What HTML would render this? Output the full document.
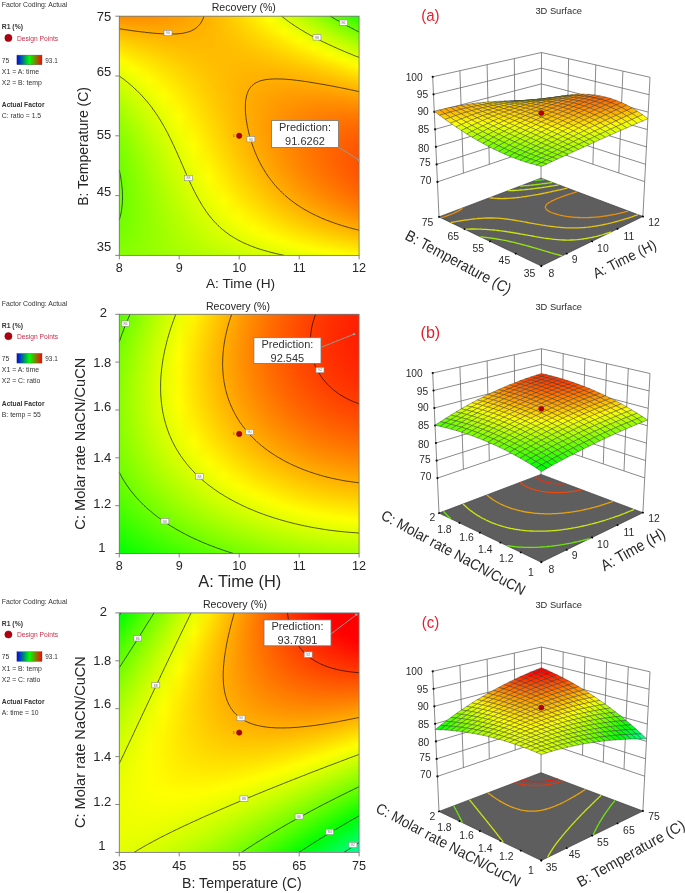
<!DOCTYPE html>
<html><head><meta charset="utf-8"><title>Recovery response surfaces</title>
<style>
html,body{margin:0;padding:0;background:#fff}
body{position:relative;width:685px;height:893px;overflow:hidden}
.hm{position:absolute;left:119px;width:240px;overflow:hidden}
.hm i{position:absolute;left:0;width:100%;height:2px;display:block}
svg{position:absolute;left:0;top:0;display:block}
text{font-family:"Liberation Sans",Arial,sans-serif}
</style>
</head><body>
<div class="hm" style="top:16px;height:239px"><i style="top:0px;background:linear-gradient(90deg,#ff8d00,#ff8d00,#ff8f00,#ff9400,#ff9c00,#ffa700,#ffb400,#ffc400,#ffd700,#ffed00,#f8ff00,#dcff00,#bcff00,#9aff00,#75ff00,#4cff00,#20ff00)"></i><i style="top:2px;background:linear-gradient(90deg,#ff9300,#ff9200,#ff9300,#ff9700,#ff9e00,#ffa800,#ffb400,#ffc300,#ffd600,#ffea00,#fcff00,#e1ff00,#c3ff00,#a1ff00,#7dff00,#56ff00,#2bff00)"></i><i style="top:4px;background:linear-gradient(90deg,#ff9900,#ff9700,#ff9700,#ff9b00,#ffa100,#ffa900,#ffb500,#ffc300,#ffd400,#ffe800,#ffff00,#e5ff00,#c9ff00,#a9ff00,#85ff00,#5fff00,#36ff00)"></i><i style="top:6px;background:linear-gradient(90deg,#ff9e00,#ff9c00,#ff9b00,#ff9e00,#ffa300,#ffab00,#ffb500,#ffc200,#ffd200,#ffe500,#fffb00,#eaff00,#ceff00,#b0ff00,#8eff00,#69ff00,#40ff00)"></i><i style="top:8px;background:linear-gradient(90deg,#ffa400,#ffa000,#ff9f00,#ffa100,#ffa500,#ffac00,#ffb500,#ffc200,#ffd100,#ffe200,#fff700,#efff00,#d4ff00,#b7ff00,#96ff00,#72ff00,#4bff00)"></i><i style="top:10px;background:linear-gradient(90deg,#ffaa00,#ffa500,#ffa300,#ffa400,#ffa700,#ffad00,#ffb600,#ffc100,#ffcf00,#ffe000,#fff400,#f4ff00,#daff00,#bdff00,#9eff00,#7bff00,#55ff00)"></i><i style="top:12px;background:linear-gradient(90deg,#ffaf00,#ffaa00,#ffa700,#ffa700,#ffaa00,#ffae00,#ffb600,#ffc000,#ffce00,#ffdd00,#fff000,#f8ff00,#e0ff00,#c4ff00,#a6ff00,#84ff00,#5fff00)"></i><i style="top:14px;background:linear-gradient(90deg,#ffb500,#ffaf00,#ffab00,#ffaa00,#ffac00,#ffb000,#ffb700,#ffc000,#ffcc00,#ffdb00,#ffed00,#fdff00,#e5ff00,#cbff00,#adff00,#8dff00,#69ff00)"></i><i style="top:16px;background:linear-gradient(90deg,#ffba00,#ffb300,#ffaf00,#ffad00,#ffae00,#ffb100,#ffb700,#ffbf00,#ffcb00,#ffd900,#ffe900,#fffd00,#ebff00,#d1ff00,#b5ff00,#95ff00,#73ff00)"></i><i style="top:18px;background:linear-gradient(90deg,#ffc000,#ffb800,#ffb300,#ffb000,#ffb000,#ffb300,#ffb700,#ffbf00,#ffc900,#ffd600,#ffe600,#fff900,#f0ff00,#d8ff00,#bcff00,#9eff00,#7dff00)"></i><i style="top:20px;background:linear-gradient(90deg,#ffc500,#ffbd00,#ffb700,#ffb300,#ffb200,#ffb400,#ffb800,#ffbf00,#ffc800,#ffd400,#ffe300,#fff400,#f5ff00,#deff00,#c4ff00,#a6ff00,#86ff00)"></i><i style="top:22px;background:linear-gradient(90deg,#ffca00,#ffc100,#ffbb00,#ffb600,#ffb400,#ffb500,#ffb800,#ffbe00,#ffc700,#ffd200,#ffe000,#fff000,#faff00,#e4ff00,#cbff00,#afff00,#8fff00)"></i><i style="top:24px;background:linear-gradient(90deg,#ffcf00,#ffc600,#ffbe00,#ffb900,#ffb700,#ffb700,#ffb900,#ffbe00,#ffc500,#ffd000,#ffdc00,#ffec00,#ffff00,#eaff00,#d2ff00,#b7ff00,#99ff00)"></i><i style="top:26px;background:linear-gradient(90deg,#ffd500,#ffca00,#ffc200,#ffbc00,#ffb900,#ffb800,#ffb900,#ffbe00,#ffc400,#ffcd00,#ffd900,#ffe800,#fffa00,#f0ff00,#d9ff00,#bfff00,#a2ff00)"></i><i style="top:28px;background:linear-gradient(90deg,#ffda00,#ffce00,#ffc600,#ffbf00,#ffbb00,#ffb900,#ffba00,#ffbd00,#ffc300,#ffcb00,#ffd700,#ffe400,#fff500,#f6ff00,#e0ff00,#c7ff00,#abff00)"></i><i style="top:30px;background:linear-gradient(90deg,#ffdf00,#ffd300,#ffc900,#ffc200,#ffbd00,#ffbb00,#ffba00,#ffbd00,#ffc200,#ffc900,#ffd400,#ffe000,#fff000,#fcff00,#e6ff00,#ceff00,#b3ff00)"></i><i style="top:32px;background:linear-gradient(90deg,#ffe300,#ffd700,#ffcd00,#ffc500,#ffbf00,#ffbc00,#ffbb00,#ffbd00,#ffc100,#ffc700,#ffd100,#ffdd00,#ffeb00,#fffd00,#edff00,#d6ff00,#bcff00)"></i><i style="top:34px;background:linear-gradient(90deg,#ffe800,#ffdb00,#ffd000,#ffc800,#ffc100,#ffbd00,#ffbc00,#ffbc00,#ffc000,#ffc600,#ffce00,#ffd900,#ffe700,#fff700,#f3ff00,#ddff00,#c5ff00)"></i><i style="top:36px;background:linear-gradient(90deg,#ffed00,#ffdf00,#ffd400,#ffca00,#ffc300,#ffbf00,#ffbc00,#ffbc00,#ffbf00,#ffc400,#ffcb00,#ffd600,#ffe200,#fff200,#faff00,#e5ff00,#cdff00)"></i><i style="top:38px;background:linear-gradient(90deg,#fff200,#ffe300,#ffd700,#ffcd00,#ffc500,#ffc000,#ffbd00,#ffbc00,#ffbe00,#ffc200,#ffc900,#ffd200,#ffde00,#ffed00,#fffe00,#ecff00,#d5ff00)"></i><i style="top:40px;background:linear-gradient(90deg,#fff600,#ffe700,#ffdb00,#ffd000,#ffc700,#ffc100,#ffbd00,#ffbc00,#ffbd00,#ffc000,#ffc600,#ffcf00,#ffda00,#ffe700,#fff800,#f3ff00,#ddff00)"></i><i style="top:42px;background:linear-gradient(90deg,#fffb00,#ffeb00,#ffde00,#ffd300,#ffc900,#ffc300,#ffbe00,#ffbc00,#ffbc00,#ffbf00,#ffc400,#ffcb00,#ffd600,#ffe200,#fff200,#faff00,#e5ff00)"></i><i style="top:44px;background:linear-gradient(90deg,#feff00,#ffef00,#ffe100,#ffd500,#ffcc00,#ffc400,#ffbf00,#ffbc00,#ffbb00,#ffbd00,#ffc100,#ffc800,#ffd200,#ffdd00,#ffec00,#fffd00,#edff00)"></i><i style="top:46px;background:linear-gradient(90deg,#faff00,#fff300,#ffe500,#ffd800,#ffce00,#ffc500,#ffbf00,#ffbc00,#ffba00,#ffbb00,#ffbf00,#ffc500,#ffce00,#ffd900,#ffe600,#fff700,#f4ff00)"></i><i style="top:48px;background:linear-gradient(90deg,#f6ff00,#fff700,#ffe800,#ffdb00,#ffd000,#ffc700,#ffc000,#ffbc00,#ffba00,#ffba00,#ffbd00,#ffc200,#ffca00,#ffd400,#ffe100,#fff000,#fbff00)"></i><i style="top:50px;background:linear-gradient(90deg,#f1ff00,#fffb00,#ffeb00,#ffdd00,#ffd200,#ffc800,#ffc100,#ffbc00,#ffb900,#ffb900,#ffbb00,#ffbf00,#ffc600,#ffcf00,#ffdb00,#ffea00,#fffb00)"></i><i style="top:52px;background:linear-gradient(90deg,#edff00,#ffff00,#ffee00,#ffe000,#ffd400,#ffc900,#ffc100,#ffbc00,#ffb800,#ffb700,#ffb800,#ffbc00,#ffc200,#ffcb00,#ffd600,#ffe400,#fff400)"></i><i style="top:54px;background:linear-gradient(90deg,#e9ff00,#fcff00,#fff100,#ffe200,#ffd600,#ffcb00,#ffc200,#ffbc00,#ffb800,#ffb600,#ffb600,#ffb900,#ffbf00,#ffc600,#ffd100,#ffde00,#ffed00)"></i><i style="top:56px;background:linear-gradient(90deg,#e5ff00,#f8ff00,#fff400,#ffe500,#ffd700,#ffcc00,#ffc300,#ffbc00,#ffb700,#ffb500,#ffb400,#ffb700,#ffbb00,#ffc200,#ffcc00,#ffd800,#ffe700)"></i><i style="top:58px;background:linear-gradient(90deg,#e1ff00,#f5ff00,#fff700,#ffe700,#ffd900,#ffcd00,#ffc400,#ffbc00,#ffb700,#ffb300,#ffb200,#ffb400,#ffb800,#ffbe00,#ffc700,#ffd200,#ffe000)"></i><i style="top:60px;background:linear-gradient(90deg,#ddff00,#f1ff00,#fffa00,#ffea00,#ffdb00,#ffcf00,#ffc400,#ffbc00,#ffb600,#ffb200,#ffb100,#ffb100,#ffb400,#ffba00,#ffc200,#ffcc00,#ffd900)"></i><i style="top:62px;background:linear-gradient(90deg,#d9ff00,#eeff00,#fffd00,#ffec00,#ffdd00,#ffd000,#ffc500,#ffbc00,#ffb600,#ffb100,#ffaf00,#ffaf00,#ffb100,#ffb600,#ffbd00,#ffc700,#ffd300)"></i><i style="top:64px;background:linear-gradient(90deg,#d5ff00,#eaff00,#feff00,#ffef00,#ffdf00,#ffd200,#ffc600,#ffbd00,#ffb500,#ffb000,#ffad00,#ffad00,#ffae00,#ffb200,#ffb900,#ffc200,#ffcd00)"></i><i style="top:66px;background:linear-gradient(90deg,#d1ff00,#e7ff00,#fbff00,#fff100,#ffe100,#ffd300,#ffc700,#ffbd00,#ffb500,#ffaf00,#ffac00,#ffaa00,#ffab00,#ffae00,#ffb400,#ffbc00,#ffc700)"></i><i style="top:68px;background:linear-gradient(90deg,#ceff00,#e4ff00,#f8ff00,#fff400,#ffe300,#ffd400,#ffc800,#ffbd00,#ffb500,#ffae00,#ffaa00,#ffa800,#ffa800,#ffab00,#ffb000,#ffb700,#ffc100)"></i><i style="top:70px;background:linear-gradient(90deg,#caff00,#e0ff00,#f5ff00,#fff600,#ffe500,#ffd600,#ffc900,#ffbd00,#ffb400,#ffad00,#ffa800,#ffa600,#ffa500,#ffa700,#ffac00,#ffb200,#ffbb00)"></i><i style="top:72px;background:linear-gradient(90deg,#c6ff00,#ddff00,#f2ff00,#fff800,#ffe700,#ffd700,#ffc900,#ffbe00,#ffb400,#ffad00,#ffa700,#ffa400,#ffa300,#ffa400,#ffa800,#ffad00,#ffb600)"></i><i style="top:74px;background:linear-gradient(90deg,#c3ff00,#daff00,#f0ff00,#fffb00,#ffe900,#ffd800,#ffca00,#ffbe00,#ffb400,#ffac00,#ffa600,#ffa200,#ffa000,#ffa100,#ffa400,#ffa900,#ffb000)"></i><i style="top:76px;background:linear-gradient(90deg,#bfff00,#d7ff00,#edff00,#fffd00,#ffea00,#ffda00,#ffcb00,#ffbe00,#ffb400,#ffab00,#ffa400,#ffa000,#ff9e00,#ff9e00,#ffa000,#ffa400,#ffab00)"></i><i style="top:78px;background:linear-gradient(90deg,#bcff00,#d4ff00,#eaff00,#ffff00,#ffec00,#ffdb00,#ffcc00,#ffbf00,#ffb400,#ffaa00,#ffa300,#ff9e00,#ff9b00,#ff9a00,#ff9c00,#ffa000,#ffa600)"></i><i style="top:80px;background:linear-gradient(90deg,#b9ff00,#d1ff00,#e8ff00,#fdff00,#ffee00,#ffdd00,#ffcd00,#ffbf00,#ffb400,#ffaa00,#ffa200,#ff9c00,#ff9900,#ff9800,#ff9800,#ff9c00,#ffa100)"></i><i style="top:82px;background:linear-gradient(90deg,#b6ff00,#ceff00,#e5ff00,#fbff00,#fff000,#ffde00,#ffce00,#ffc000,#ffb400,#ffa900,#ffa100,#ff9b00,#ff9700,#ff9500,#ff9500,#ff9700,#ff9c00)"></i><i style="top:84px;background:linear-gradient(90deg,#b2ff00,#cbff00,#e3ff00,#f8ff00,#fff200,#ffdf00,#ffcf00,#ffc000,#ffb400,#ffa900,#ffa000,#ff9900,#ff9500,#ff9200,#ff9200,#ff9300,#ff9800)"></i><i style="top:86px;background:linear-gradient(90deg,#afff00,#c9ff00,#e0ff00,#f6ff00,#fff300,#ffe100,#ffd000,#ffc100,#ffb400,#ffa800,#ff9f00,#ff9800,#ff9300,#ff8f00,#ff8e00,#ff9000,#ff9300)"></i><i style="top:88px;background:linear-gradient(90deg,#acff00,#c6ff00,#deff00,#f4ff00,#fff500,#ffe200,#ffd100,#ffc100,#ffb400,#ffa800,#ff9e00,#ff9600,#ff9100,#ff8d00,#ff8b00,#ff8c00,#ff8f00)"></i><i style="top:90px;background:linear-gradient(90deg,#a9ff00,#c3ff00,#dbff00,#f2ff00,#fff700,#ffe400,#ffd200,#ffc200,#ffb400,#ffa800,#ff9d00,#ff9500,#ff8f00,#ff8b00,#ff8800,#ff8800,#ff8b00)"></i><i style="top:92px;background:linear-gradient(90deg,#a6ff00,#c0ff00,#d9ff00,#f0ff00,#fff900,#ffe500,#ffd300,#ffc300,#ffb400,#ffa700,#ff9d00,#ff9400,#ff8d00,#ff8800,#ff8600,#ff8500,#ff8700)"></i><i style="top:94px;background:linear-gradient(90deg,#a3ff00,#beff00,#d7ff00,#eeff00,#fffa00,#ffe600,#ffd400,#ffc300,#ffb400,#ffa700,#ff9c00,#ff9300,#ff8b00,#ff8600,#ff8300,#ff8200,#ff8300)"></i><i style="top:96px;background:linear-gradient(90deg,#a1ff00,#bbff00,#d4ff00,#ecff00,#fffc00,#ffe800,#ffd500,#ffc400,#ffb500,#ffa700,#ff9b00,#ff9200,#ff8a00,#ff8400,#ff8000,#ff7e00,#ff7f00)"></i><i style="top:98px;background:linear-gradient(90deg,#9eff00,#b9ff00,#d2ff00,#eaff00,#fffe00,#ffe900,#ffd600,#ffc500,#ffb500,#ffa700,#ff9b00,#ff9100,#ff8800,#ff8200,#ff7e00,#ff7b00,#ff7b00)"></i><i style="top:100px;background:linear-gradient(90deg,#9bff00,#b6ff00,#d0ff00,#e8ff00,#ffff00,#ffea00,#ffd700,#ffc500,#ffb500,#ffa700,#ff9b00,#ff9000,#ff8700,#ff8000,#ff7b00,#ff7900,#ff7800)"></i><i style="top:102px;background:linear-gradient(90deg,#99ff00,#b4ff00,#ceff00,#e6ff00,#fdff00,#ffec00,#ffd800,#ffc600,#ffb600,#ffa700,#ff9a00,#ff8f00,#ff8600,#ff7f00,#ff7900,#ff7600,#ff7500)"></i><i style="top:104px;background:linear-gradient(90deg,#96ff00,#b2ff00,#ccff00,#e4ff00,#fbff00,#ffed00,#ffd900,#ffc700,#ffb600,#ffa700,#ff9a00,#ff8e00,#ff8500,#ff7d00,#ff7700,#ff7300,#ff7100)"></i><i style="top:106px;background:linear-gradient(90deg,#94ff00,#afff00,#c9ff00,#e2ff00,#faff00,#ffef00,#ffda00,#ffc800,#ffb700,#ffa700,#ff9a00,#ff8e00,#ff8400,#ff7b00,#ff7500,#ff7100,#ff6e00)"></i><i style="top:108px;background:linear-gradient(90deg,#92ff00,#adff00,#c7ff00,#e0ff00,#f8ff00,#fff000,#ffdc00,#ffc900,#ffb700,#ffa700,#ff9900,#ff8d00,#ff8300,#ff7a00,#ff7300,#ff6f00,#ff6c00)"></i><i style="top:110px;background:linear-gradient(90deg,#8fff00,#abff00,#c5ff00,#dfff00,#f6ff00,#fff100,#ffdd00,#ffc900,#ffb800,#ffa800,#ff9900,#ff8d00,#ff8200,#ff7900,#ff7200,#ff6c00,#ff6900)"></i><i style="top:112px;background:linear-gradient(90deg,#8dff00,#a9ff00,#c3ff00,#ddff00,#f5ff00,#fff300,#ffde00,#ffca00,#ffb800,#ffa800,#ff9900,#ff8c00,#ff8100,#ff7800,#ff7000,#ff6a00,#ff6600)"></i><i style="top:114px;background:linear-gradient(90deg,#8bff00,#a7ff00,#c2ff00,#dbff00,#f3ff00,#fff400,#ffdf00,#ffcb00,#ffb900,#ffa800,#ff9900,#ff8c00,#ff8000,#ff7700,#ff6f00,#ff6800,#ff6400)"></i><i style="top:116px;background:linear-gradient(90deg,#89ff00,#a5ff00,#c0ff00,#d9ff00,#f1ff00,#fff600,#ffe000,#ffcc00,#ffba00,#ffa900,#ff9a00,#ff8c00,#ff8000,#ff7600,#ff6d00,#ff6700,#ff6200)"></i><i style="top:118px;background:linear-gradient(90deg,#87ff00,#a3ff00,#beff00,#d7ff00,#f0ff00,#fff700,#ffe100,#ffcd00,#ffbb00,#ffa900,#ff9a00,#ff8c00,#ff7f00,#ff7500,#ff6c00,#ff6500,#ff6000)"></i><i style="top:120px;background:linear-gradient(90deg,#85ff00,#a1ff00,#bcff00,#d6ff00,#eeff00,#fff900,#ffe300,#ffce00,#ffbb00,#ffaa00,#ff9a00,#ff8c00,#ff7f00,#ff7400,#ff6b00,#ff6400,#ff5e00)"></i><i style="top:122px;background:linear-gradient(90deg,#83ff00,#9fff00,#baff00,#d4ff00,#edff00,#fffa00,#ffe400,#ffcf00,#ffbc00,#ffaa00,#ff9a00,#ff8c00,#ff7f00,#ff7400,#ff6a00,#ff6200,#ff5c00)"></i><i style="top:124px;background:linear-gradient(90deg,#81ff00,#9dff00,#b8ff00,#d2ff00,#ebff00,#fffb00,#ffe500,#ffd000,#ffbd00,#ffab00,#ff9b00,#ff8c00,#ff7f00,#ff7300,#ff6900,#ff6100,#ff5b00)"></i><i style="top:126px;background:linear-gradient(90deg,#7fff00,#9cff00,#b7ff00,#d1ff00,#eaff00,#fffd00,#ffe600,#ffd200,#ffbe00,#ffac00,#ff9b00,#ff8c00,#ff7f00,#ff7300,#ff6800,#ff6000,#ff5900)"></i><i style="top:128px;background:linear-gradient(90deg,#7eff00,#9aff00,#b5ff00,#cfff00,#e8ff00,#fffe00,#ffe800,#ffd300,#ffbf00,#ffad00,#ff9c00,#ff8c00,#ff7f00,#ff7200,#ff6800,#ff5f00,#ff5800)"></i><i style="top:130px;background:linear-gradient(90deg,#7cff00,#98ff00,#b3ff00,#ceff00,#e7ff00,#feff00,#ffe900,#ffd400,#ffc000,#ffad00,#ff9c00,#ff8d00,#ff7f00,#ff7200,#ff6700,#ff5e00,#ff5700)"></i><i style="top:132px;background:linear-gradient(90deg,#7aff00,#97ff00,#b2ff00,#ccff00,#e5ff00,#fdff00,#ffea00,#ffd500,#ffc100,#ffae00,#ff9d00,#ff8d00,#ff7f00,#ff7200,#ff6700,#ff5e00,#ff5600)"></i><i style="top:134px;background:linear-gradient(90deg,#79ff00,#95ff00,#b0ff00,#cbff00,#e4ff00,#fcff00,#ffec00,#ffd600,#ffc200,#ffaf00,#ff9e00,#ff8e00,#ff7f00,#ff7200,#ff6700,#ff5d00,#ff5500)"></i><i style="top:136px;background:linear-gradient(90deg,#77ff00,#94ff00,#afff00,#c9ff00,#e2ff00,#faff00,#ffed00,#ffd800,#ffc300,#ffb000,#ff9f00,#ff8e00,#ff8000,#ff7200,#ff6700,#ff5d00,#ff5400)"></i><i style="top:138px;background:linear-gradient(90deg,#76ff00,#92ff00,#adff00,#c8ff00,#e1ff00,#f9ff00,#ffee00,#ffd900,#ffc400,#ffb100,#ffa000,#ff8f00,#ff8000,#ff7300,#ff6700,#ff5c00,#ff5400)"></i><i style="top:140px;background:linear-gradient(90deg,#75ff00,#91ff00,#acff00,#c6ff00,#dfff00,#f7ff00,#fff000,#ffda00,#ffc600,#ffb200,#ffa100,#ff9000,#ff8100,#ff7300,#ff6700,#ff5c00,#ff5300)"></i><i style="top:142px;background:linear-gradient(90deg,#74ff00,#8fff00,#abff00,#c5ff00,#deff00,#f6ff00,#fff100,#ffdb00,#ffc700,#ffb400,#ffa200,#ff9100,#ff8200,#ff7400,#ff6700,#ff5c00,#ff5300)"></i><i style="top:144px;background:linear-gradient(90deg,#72ff00,#8eff00,#a9ff00,#c3ff00,#dcff00,#f4ff00,#fff300,#ffdd00,#ffc800,#ffb500,#ffa300,#ff9200,#ff8200,#ff7400,#ff6800,#ff5d00,#ff5300)"></i><i style="top:146px;background:linear-gradient(90deg,#71ff00,#8dff00,#a8ff00,#c2ff00,#dbff00,#f3ff00,#fff400,#ffde00,#ffca00,#ffb600,#ffa400,#ff9300,#ff8300,#ff7500,#ff6800,#ff5d00,#ff5300)"></i><i style="top:148px;background:linear-gradient(90deg,#70ff00,#8cff00,#a7ff00,#c1ff00,#daff00,#f1ff00,#fff600,#ffe000,#ffcb00,#ffb700,#ffa500,#ff9400,#ff8400,#ff7600,#ff6900,#ff5d00,#ff5300)"></i><i style="top:150px;background:linear-gradient(90deg,#6fff00,#8bff00,#a5ff00,#bfff00,#d8ff00,#f0ff00,#fff700,#ffe100,#ffcc00,#ffb900,#ffa600,#ff9500,#ff8500,#ff7700,#ff6a00,#ff5e00,#ff5400)"></i><i style="top:152px;background:linear-gradient(90deg,#6eff00,#8aff00,#a4ff00,#beff00,#d7ff00,#efff00,#fff900,#ffe300,#ffce00,#ffba00,#ffa800,#ff9700,#ff8700,#ff7800,#ff6b00,#ff5f00,#ff5400)"></i><i style="top:154px;background:linear-gradient(90deg,#6eff00,#89ff00,#a3ff00,#bdff00,#d5ff00,#edff00,#fffa00,#ffe400,#ffcf00,#ffbc00,#ffa900,#ff9800,#ff8800,#ff7900,#ff6c00,#ff6000,#ff5500)"></i><i style="top:156px;background:linear-gradient(90deg,#6dff00,#88ff00,#a2ff00,#bbff00,#d4ff00,#ecff00,#fffc00,#ffe600,#ffd100,#ffbd00,#ffab00,#ff9900,#ff8900,#ff7a00,#ff6d00,#ff6100,#ff5600)"></i><i style="top:158px;background:linear-gradient(90deg,#6cff00,#87ff00,#a1ff00,#baff00,#d3ff00,#eaff00,#fffd00,#ffe700,#ffd300,#ffbf00,#ffac00,#ff9b00,#ff8b00,#ff7c00,#ff6e00,#ff6200,#ff5700)"></i><i style="top:160px;background:linear-gradient(90deg,#6bff00,#86ff00,#a0ff00,#b9ff00,#d1ff00,#e9ff00,#ffff00,#ffe900,#ffd400,#ffc100,#ffae00,#ff9d00,#ff8c00,#ff7d00,#ff7000,#ff6300,#ff5800)"></i><i style="top:162px;background:linear-gradient(90deg,#6bff00,#85ff00,#9fff00,#b8ff00,#d0ff00,#e7ff00,#feff00,#ffeb00,#ffd600,#ffc200,#ffb000,#ff9e00,#ff8e00,#ff7f00,#ff7100,#ff6400,#ff5900)"></i><i style="top:164px;background:linear-gradient(90deg,#6aff00,#84ff00,#9eff00,#b7ff00,#cfff00,#e6ff00,#fcff00,#ffec00,#ffd800,#ffc400,#ffb200,#ffa000,#ff9000,#ff8100,#ff7300,#ff6600,#ff5b00)"></i><i style="top:166px;background:linear-gradient(90deg,#6aff00,#84ff00,#9dff00,#b6ff00,#cdff00,#e4ff00,#fbff00,#ffee00,#ffd900,#ffc600,#ffb300,#ffa200,#ff9200,#ff8300,#ff7500,#ff6800,#ff5c00)"></i><i style="top:168px;background:linear-gradient(90deg,#6aff00,#83ff00,#9cff00,#b4ff00,#ccff00,#e3ff00,#f9ff00,#fff000,#ffdb00,#ffc800,#ffb500,#ffa400,#ff9400,#ff8400,#ff7600,#ff6a00,#ff5e00)"></i><i style="top:170px;background:linear-gradient(90deg,#69ff00,#83ff00,#9bff00,#b3ff00,#cbff00,#e2ff00,#f7ff00,#fff100,#ffdd00,#ffca00,#ffb700,#ffa600,#ff9600,#ff8700,#ff7800,#ff6c00,#ff6000)"></i><i style="top:172px;background:linear-gradient(90deg,#69ff00,#82ff00,#9bff00,#b2ff00,#caff00,#e0ff00,#f6ff00,#fff300,#ffdf00,#ffcc00,#ffba00,#ffa800,#ff9800,#ff8900,#ff7b00,#ff6e00,#ff6200)"></i><i style="top:174px;background:linear-gradient(90deg,#69ff00,#82ff00,#9aff00,#b1ff00,#c8ff00,#dfff00,#f4ff00,#fff500,#ffe100,#ffce00,#ffbc00,#ffaa00,#ff9a00,#ff8b00,#ff7d00,#ff7000,#ff6400)"></i><i style="top:176px;background:linear-gradient(90deg,#69ff00,#81ff00,#99ff00,#b0ff00,#c7ff00,#ddff00,#f3ff00,#fff700,#ffe300,#ffd000,#ffbe00,#ffad00,#ff9d00,#ff8d00,#ff7f00,#ff7200,#ff6700)"></i><i style="top:178px;background:linear-gradient(90deg,#69ff00,#81ff00,#98ff00,#afff00,#c6ff00,#dcff00,#f1ff00,#fff900,#ffe500,#ffd200,#ffc000,#ffaf00,#ff9f00,#ff9000,#ff8200,#ff7500,#ff6900)"></i><i style="top:180px;background:linear-gradient(90deg,#69ff00,#80ff00,#98ff00,#aeff00,#c5ff00,#daff00,#efff00,#fffb00,#ffe700,#ffd400,#ffc300,#ffb200,#ffa200,#ff9300,#ff8500,#ff7800,#ff6c00)"></i><i style="top:182px;background:linear-gradient(90deg,#69ff00,#80ff00,#97ff00,#aeff00,#c3ff00,#d9ff00,#edff00,#fffd00,#ffe900,#ffd700,#ffc500,#ffb400,#ffa400,#ff9500,#ff8700,#ff7a00,#ff6f00)"></i><i style="top:184px;background:linear-gradient(90deg,#69ff00,#80ff00,#97ff00,#adff00,#c2ff00,#d7ff00,#ecff00,#ffff00,#ffeb00,#ffd900,#ffc800,#ffb700,#ffa700,#ff9800,#ff8a00,#ff7d00,#ff7200)"></i><i style="top:186px;background:linear-gradient(90deg,#69ff00,#80ff00,#96ff00,#acff00,#c1ff00,#d6ff00,#eaff00,#fdff00,#ffee00,#ffdc00,#ffca00,#ffba00,#ffaa00,#ff9b00,#ff8d00,#ff8100,#ff7500)"></i><i style="top:188px;background:linear-gradient(90deg,#6aff00,#80ff00,#96ff00,#abff00,#c0ff00,#d4ff00,#e8ff00,#fbff00,#fff000,#ffde00,#ffcd00,#ffbc00,#ffad00,#ff9e00,#ff9100,#ff8400,#ff7800)"></i><i style="top:190px;background:linear-gradient(90deg,#6aff00,#80ff00,#95ff00,#aaff00,#bfff00,#d3ff00,#e6ff00,#f9ff00,#fff200,#ffe100,#ffd000,#ffbf00,#ffb000,#ffa100,#ff9400,#ff8700,#ff7c00)"></i><i style="top:192px;background:linear-gradient(90deg,#6aff00,#80ff00,#95ff00,#a9ff00,#beff00,#d1ff00,#e5ff00,#f7ff00,#fff500,#ffe300,#ffd200,#ffc200,#ffb300,#ffa500,#ff9700,#ff8b00,#ff7f00)"></i><i style="top:194px;background:linear-gradient(90deg,#6bff00,#80ff00,#94ff00,#a9ff00,#bcff00,#d0ff00,#e3ff00,#f5ff00,#fff700,#ffe600,#ffd500,#ffc500,#ffb600,#ffa800,#ff9b00,#ff8e00,#ff8300)"></i><i style="top:196px;background:linear-gradient(90deg,#6bff00,#80ff00,#94ff00,#a8ff00,#bbff00,#ceff00,#e1ff00,#f3ff00,#fff900,#ffe800,#ffd800,#ffc900,#ffba00,#ffac00,#ff9e00,#ff9200,#ff8700)"></i><i style="top:198px;background:linear-gradient(90deg,#6cff00,#80ff00,#94ff00,#a7ff00,#baff00,#cdff00,#dfff00,#f1ff00,#fffc00,#ffeb00,#ffdb00,#ffcc00,#ffbd00,#ffaf00,#ffa200,#ff9600,#ff8b00)"></i><i style="top:200px;background:linear-gradient(90deg,#6dff00,#80ff00,#93ff00,#a6ff00,#b9ff00,#cbff00,#ddff00,#efff00,#fffe00,#ffee00,#ffde00,#ffcf00,#ffc100,#ffb300,#ffa600,#ff9a00,#ff8f00)"></i><i style="top:202px;background:linear-gradient(90deg,#6eff00,#81ff00,#93ff00,#a6ff00,#b8ff00,#caff00,#dbff00,#ecff00,#fdff00,#fff100,#ffe100,#ffd300,#ffc400,#ffb700,#ffaa00,#ff9e00,#ff9300)"></i><i style="top:204px;background:linear-gradient(90deg,#6eff00,#81ff00,#93ff00,#a5ff00,#b7ff00,#c8ff00,#daff00,#eaff00,#faff00,#fff400,#ffe500,#ffd600,#ffc800,#ffbb00,#ffae00,#ffa300,#ff9800)"></i><i style="top:206px;background:linear-gradient(90deg,#6fff00,#81ff00,#93ff00,#a5ff00,#b6ff00,#c7ff00,#d8ff00,#e8ff00,#f8ff00,#fff700,#ffe800,#ffda00,#ffcc00,#ffbf00,#ffb300,#ffa700,#ff9d00)"></i><i style="top:208px;background:linear-gradient(90deg,#70ff00,#82ff00,#93ff00,#a4ff00,#b5ff00,#c5ff00,#d6ff00,#e6ff00,#f5ff00,#fffa00,#ffeb00,#ffdd00,#ffd000,#ffc300,#ffb700,#ffac00,#ffa100)"></i><i style="top:210px;background:linear-gradient(90deg,#71ff00,#82ff00,#93ff00,#a3ff00,#b4ff00,#c4ff00,#d4ff00,#e3ff00,#f2ff00,#fffd00,#ffef00,#ffe100,#ffd400,#ffc800,#ffbc00,#ffb100,#ffa600)"></i><i style="top:212px;background:linear-gradient(90deg,#72ff00,#83ff00,#93ff00,#a3ff00,#b3ff00,#c2ff00,#d2ff00,#e1ff00,#f0ff00,#feff00,#fff200,#ffe500,#ffd800,#ffcc00,#ffc000,#ffb600,#ffab00)"></i><i style="top:214px;background:linear-gradient(90deg,#74ff00,#83ff00,#93ff00,#a2ff00,#b2ff00,#c1ff00,#d0ff00,#deff00,#edff00,#fbff00,#fff600,#ffe900,#ffdc00,#ffd000,#ffc500,#ffbb00,#ffb100)"></i><i style="top:216px;background:linear-gradient(90deg,#75ff00,#84ff00,#93ff00,#a2ff00,#b1ff00,#bfff00,#ceff00,#dcff00,#eaff00,#f7ff00,#fff900,#ffed00,#ffe100,#ffd500,#ffca00,#ffc000,#ffb600)"></i><i style="top:218px;background:linear-gradient(90deg,#76ff00,#85ff00,#93ff00,#a1ff00,#b0ff00,#beff00,#ccff00,#daff00,#e7ff00,#f4ff00,#fffd00,#fff100,#ffe500,#ffda00,#ffcf00,#ffc500,#ffbc00)"></i><i style="top:220px;background:linear-gradient(90deg,#77ff00,#85ff00,#93ff00,#a1ff00,#afff00,#bcff00,#caff00,#d7ff00,#e4ff00,#f1ff00,#fdff00,#fff500,#ffea00,#ffdf00,#ffd400,#ffcb00,#ffc100)"></i><i style="top:222px;background:linear-gradient(90deg,#79ff00,#86ff00,#93ff00,#a1ff00,#aeff00,#bbff00,#c8ff00,#d5ff00,#e1ff00,#edff00,#f9ff00,#fff900,#ffee00,#ffe400,#ffda00,#ffd000,#ffc700)"></i><i style="top:224px;background:linear-gradient(90deg,#7aff00,#87ff00,#94ff00,#a0ff00,#adff00,#b9ff00,#c6ff00,#d2ff00,#deff00,#eaff00,#f5ff00,#fffe00,#fff300,#ffe900,#ffdf00,#ffd600,#ffcd00)"></i><i style="top:226px;background:linear-gradient(90deg,#7cff00,#88ff00,#94ff00,#a0ff00,#acff00,#b8ff00,#c4ff00,#cfff00,#dbff00,#e6ff00,#f1ff00,#fcff00,#fff800,#ffee00,#ffe500,#ffdc00,#ffd400)"></i><i style="top:228px;background:linear-gradient(90deg,#7eff00,#89ff00,#94ff00,#a0ff00,#abff00,#b6ff00,#c2ff00,#cdff00,#d8ff00,#e3ff00,#edff00,#f7ff00,#fffd00,#fff300,#ffea00,#ffe200,#ffda00)"></i><i style="top:230px;background:linear-gradient(90deg,#7fff00,#8aff00,#94ff00,#9fff00,#aaff00,#b5ff00,#c0ff00,#caff00,#d5ff00,#dfff00,#e9ff00,#f3ff00,#fcff00,#fff900,#fff000,#ffe800,#ffe000)"></i><i style="top:232px;background:linear-gradient(90deg,#81ff00,#8bff00,#95ff00,#9fff00,#a9ff00,#b3ff00,#bdff00,#c7ff00,#d1ff00,#dbff00,#e5ff00,#eeff00,#f7ff00,#fffe00,#fff600,#ffee00,#ffe700)"></i><i style="top:234px;background:linear-gradient(90deg,#83ff00,#8cff00,#95ff00,#9fff00,#a8ff00,#b2ff00,#bbff00,#c5ff00,#ceff00,#d7ff00,#e0ff00,#e9ff00,#f2ff00,#faff00,#fffc00,#fff500,#ffee00)"></i><i style="top:236px;background:linear-gradient(90deg,#85ff00,#8dff00,#96ff00,#9eff00,#a7ff00,#b0ff00,#b9ff00,#c2ff00,#cbff00,#d4ff00,#dcff00,#e4ff00,#ecff00,#f4ff00,#fcff00,#fffb00,#fff500)"></i><i style="top:238px;background:linear-gradient(90deg,#87ff00,#8eff00,#96ff00,#9eff00,#a6ff00,#afff00,#b7ff00,#bfff00,#c8ff00,#d0ff00,#d8ff00,#e0ff00,#e7ff00,#eeff00,#f5ff00,#fcff00,#fffc00)"></i></div>
<div class="hm" style="top:314px;height:240px"><i style="top:0px;background:linear-gradient(90deg,#52ff00,#7aff00,#a0ff00,#c5ff00,#e7ff00,#fff700,#ffd800,#ffbc00,#ffa100,#ff8900,#ff7300,#ff6000,#ff4e00,#ff3f00,#ff3300,#ff2800,#ff2100)"></i><i style="top:2px;background:linear-gradient(90deg,#54ff00,#7cff00,#a2ff00,#c6ff00,#e9ff00,#fff500,#ffd700,#ffba00,#ffa000,#ff8800,#ff7200,#ff5f00,#ff4d00,#ff3e00,#ff3200,#ff2800,#ff2000)"></i><i style="top:4px;background:linear-gradient(90deg,#57ff00,#7eff00,#a4ff00,#c8ff00,#eaff00,#fff400,#ffd500,#ffb900,#ff9f00,#ff8700,#ff7100,#ff5e00,#ff4d00,#ff3e00,#ff3100,#ff2700,#ff2000)"></i><i style="top:6px;background:linear-gradient(90deg,#59ff00,#80ff00,#a6ff00,#caff00,#ecff00,#fff200,#ffd400,#ffb800,#ff9e00,#ff8600,#ff7100,#ff5d00,#ff4c00,#ff3d00,#ff3100,#ff2700,#ff1f00)"></i><i style="top:8px;background:linear-gradient(90deg,#5bff00,#83ff00,#a8ff00,#ccff00,#edff00,#fff100,#ffd300,#ffb700,#ff9d00,#ff8500,#ff7000,#ff5d00,#ff4b00,#ff3d00,#ff3000,#ff2700,#ff1f00)"></i><i style="top:10px;background:linear-gradient(90deg,#5eff00,#85ff00,#aaff00,#cdff00,#efff00,#ffef00,#ffd200,#ffb600,#ff9c00,#ff8500,#ff6f00,#ff5c00,#ff4b00,#ff3c00,#ff3000,#ff2600,#ff1f00)"></i><i style="top:12px;background:linear-gradient(90deg,#60ff00,#87ff00,#acff00,#cfff00,#f0ff00,#ffee00,#ffd000,#ffb500,#ff9b00,#ff8400,#ff6e00,#ff5b00,#ff4a00,#ff3c00,#ff3000,#ff2600,#ff1f00)"></i><i style="top:14px;background:linear-gradient(90deg,#62ff00,#88ff00,#adff00,#d0ff00,#f2ff00,#ffed00,#ffcf00,#ffb400,#ff9a00,#ff8300,#ff6e00,#ff5b00,#ff4a00,#ff3c00,#ff2f00,#ff2600,#ff1e00)"></i><i style="top:16px;background:linear-gradient(90deg,#64ff00,#8aff00,#afff00,#d2ff00,#f3ff00,#ffec00,#ffce00,#ffb300,#ff9a00,#ff8200,#ff6d00,#ff5a00,#ff4a00,#ff3b00,#ff2f00,#ff2600,#ff1e00)"></i><i style="top:18px;background:linear-gradient(90deg,#66ff00,#8cff00,#b1ff00,#d3ff00,#f4ff00,#ffeb00,#ffcd00,#ffb200,#ff9900,#ff8200,#ff6d00,#ff5a00,#ff4900,#ff3b00,#ff2f00,#ff2500,#ff1e00)"></i><i style="top:20px;background:linear-gradient(90deg,#68ff00,#8eff00,#b2ff00,#d5ff00,#f6ff00,#ffea00,#ffcc00,#ffb100,#ff9800,#ff8100,#ff6c00,#ff5a00,#ff4900,#ff3b00,#ff2f00,#ff2500,#ff1e00)"></i><i style="top:22px;background:linear-gradient(90deg,#6aff00,#90ff00,#b4ff00,#d6ff00,#f7ff00,#ffe800,#ffcc00,#ffb100,#ff9800,#ff8100,#ff6c00,#ff5900,#ff4900,#ff3b00,#ff2f00,#ff2500,#ff1e00)"></i><i style="top:24px;background:linear-gradient(90deg,#6bff00,#91ff00,#b5ff00,#d7ff00,#f8ff00,#ffe800,#ffcb00,#ffb000,#ff9700,#ff8000,#ff6c00,#ff5900,#ff4900,#ff3b00,#ff2f00,#ff2500,#ff1e00)"></i><i style="top:26px;background:linear-gradient(90deg,#6dff00,#93ff00,#b7ff00,#d9ff00,#f9ff00,#ffe700,#ffca00,#ffaf00,#ff9700,#ff8000,#ff6b00,#ff5900,#ff4900,#ff3b00,#ff2f00,#ff2500,#ff1e00)"></i><i style="top:28px;background:linear-gradient(90deg,#6fff00,#94ff00,#b8ff00,#daff00,#faff00,#ffe600,#ffc900,#ffaf00,#ff9600,#ff8000,#ff6b00,#ff5900,#ff4900,#ff3b00,#ff2f00,#ff2600,#ff1f00)"></i><i style="top:30px;background:linear-gradient(90deg,#71ff00,#96ff00,#b9ff00,#dbff00,#fbff00,#ffe500,#ffc900,#ffae00,#ff9600,#ff7f00,#ff6b00,#ff5900,#ff4900,#ff3b00,#ff2f00,#ff2600,#ff1f00)"></i><i style="top:32px;background:linear-gradient(90deg,#72ff00,#97ff00,#baff00,#dcff00,#fcff00,#ffe400,#ffc800,#ffae00,#ff9600,#ff7f00,#ff6b00,#ff5900,#ff4900,#ff3b00,#ff2f00,#ff2600,#ff1f00)"></i><i style="top:34px;background:linear-gradient(90deg,#74ff00,#99ff00,#bcff00,#ddff00,#fdff00,#ffe400,#ffc800,#ffad00,#ff9500,#ff7f00,#ff6b00,#ff5900,#ff4900,#ff3b00,#ff3000,#ff2600,#ff2000)"></i><i style="top:36px;background:linear-gradient(90deg,#75ff00,#9aff00,#bdff00,#deff00,#fdff00,#ffe300,#ffc700,#ffad00,#ff9500,#ff7f00,#ff6b00,#ff5900,#ff4900,#ff3b00,#ff3000,#ff2700,#ff2000)"></i><i style="top:38px;background:linear-gradient(90deg,#77ff00,#9bff00,#beff00,#dfff00,#feff00,#ffe200,#ffc700,#ffad00,#ff9500,#ff7f00,#ff6b00,#ff5900,#ff4900,#ff3c00,#ff3000,#ff2700,#ff2000)"></i><i style="top:40px;background:linear-gradient(90deg,#78ff00,#9cff00,#bfff00,#e0ff00,#ffff00,#ffe200,#ffc600,#ffad00,#ff9500,#ff7f00,#ff6b00,#ff5900,#ff4a00,#ff3c00,#ff3100,#ff2800,#ff2100)"></i><i style="top:42px;background:linear-gradient(90deg,#7aff00,#9dff00,#c0ff00,#e0ff00,#ffff00,#ffe100,#ffc600,#ffac00,#ff9500,#ff7f00,#ff6b00,#ff5900,#ff4a00,#ff3c00,#ff3100,#ff2800,#ff2200)"></i><i style="top:44px;background:linear-gradient(90deg,#7bff00,#9fff00,#c1ff00,#e1ff00,#fffe00,#ffe100,#ffc600,#ffac00,#ff9500,#ff7f00,#ff6b00,#ff5a00,#ff4a00,#ff3d00,#ff3200,#ff2900,#ff2200)"></i><i style="top:46px;background:linear-gradient(90deg,#7cff00,#a0ff00,#c2ff00,#e2ff00,#fffe00,#ffe100,#ffc500,#ffac00,#ff9500,#ff7f00,#ff6c00,#ff5a00,#ff4b00,#ff3d00,#ff3200,#ff2900,#ff2300)"></i><i style="top:48px;background:linear-gradient(90deg,#7dff00,#a1ff00,#c2ff00,#e2ff00,#fffd00,#ffe000,#ffc500,#ffac00,#ff9500,#ff7f00,#ff6c00,#ff5b00,#ff4b00,#ff3e00,#ff3300,#ff2a00,#ff2400)"></i><i style="top:50px;background:linear-gradient(90deg,#7eff00,#a1ff00,#c3ff00,#e3ff00,#fffd00,#ffe000,#ffc500,#ffac00,#ff9500,#ff8000,#ff6c00,#ff5b00,#ff4c00,#ff3f00,#ff3400,#ff2b00,#ff2400)"></i><i style="top:52px;background:linear-gradient(90deg,#7fff00,#a2ff00,#c4ff00,#e4ff00,#fffc00,#ffe000,#ffc500,#ffac00,#ff9500,#ff8000,#ff6d00,#ff5c00,#ff4c00,#ff3f00,#ff3400,#ff2c00,#ff2500)"></i><i style="top:54px;background:linear-gradient(90deg,#80ff00,#a3ff00,#c4ff00,#e4ff00,#fffc00,#ffe000,#ffc500,#ffac00,#ff9500,#ff8000,#ff6d00,#ff5c00,#ff4d00,#ff4000,#ff3500,#ff2c00,#ff2600)"></i><i style="top:56px;background:linear-gradient(90deg,#81ff00,#a4ff00,#c5ff00,#e4ff00,#fffc00,#ffe000,#ffc500,#ffad00,#ff9600,#ff8100,#ff6e00,#ff5d00,#ff4e00,#ff4100,#ff3600,#ff2d00,#ff2700)"></i><i style="top:58px;background:linear-gradient(90deg,#82ff00,#a5ff00,#c6ff00,#e5ff00,#fffc00,#ffe000,#ffc500,#ffad00,#ff9600,#ff8100,#ff6e00,#ff5d00,#ff4e00,#ff4200,#ff3700,#ff2e00,#ff2800)"></i><i style="top:60px;background:linear-gradient(90deg,#83ff00,#a5ff00,#c6ff00,#e5ff00,#fffb00,#ffe000,#ffc500,#ffad00,#ff9700,#ff8200,#ff6f00,#ff5e00,#ff4f00,#ff4300,#ff3800,#ff2f00,#ff2900)"></i><i style="top:62px;background:linear-gradient(90deg,#84ff00,#a6ff00,#c6ff00,#e5ff00,#fffb00,#ffe000,#ffc600,#ffad00,#ff9700,#ff8200,#ff7000,#ff5f00,#ff5000,#ff4300,#ff3900,#ff3000,#ff2a00)"></i><i style="top:64px;background:linear-gradient(90deg,#85ff00,#a7ff00,#c7ff00,#e6ff00,#fffb00,#ffe000,#ffc600,#ffae00,#ff9800,#ff8300,#ff7000,#ff6000,#ff5100,#ff4400,#ff3a00,#ff3200,#ff2b00)"></i><i style="top:66px;background:linear-gradient(90deg,#86ff00,#a7ff00,#c7ff00,#e6ff00,#fffb00,#ffe000,#ffc600,#ffae00,#ff9800,#ff8400,#ff7100,#ff6100,#ff5200,#ff4600,#ff3b00,#ff3300,#ff2d00)"></i><i style="top:68px;background:linear-gradient(90deg,#86ff00,#a8ff00,#c7ff00,#e6ff00,#fffb00,#ffe000,#ffc700,#ffaf00,#ff9900,#ff8400,#ff7200,#ff6200,#ff5300,#ff4700,#ff3c00,#ff3400,#ff2e00)"></i><i style="top:70px;background:linear-gradient(90deg,#87ff00,#a8ff00,#c8ff00,#e6ff00,#fffc00,#ffe000,#ffc700,#ffaf00,#ff9900,#ff8500,#ff7300,#ff6300,#ff5400,#ff4800,#ff3d00,#ff3500,#ff2f00)"></i><i style="top:72px;background:linear-gradient(90deg,#87ff00,#a8ff00,#c8ff00,#e6ff00,#fffc00,#ffe100,#ffc800,#ffb000,#ff9a00,#ff8600,#ff7400,#ff6400,#ff5500,#ff4900,#ff3f00,#ff3600,#ff3000)"></i><i style="top:74px;background:linear-gradient(90deg,#88ff00,#a9ff00,#c8ff00,#e6ff00,#fffc00,#ffe100,#ffc800,#ffb100,#ff9b00,#ff8700,#ff7500,#ff6500,#ff5700,#ff4a00,#ff4000,#ff3800,#ff3200)"></i><i style="top:76px;background:linear-gradient(90deg,#88ff00,#a9ff00,#c8ff00,#e6ff00,#fffc00,#ffe200,#ffc900,#ffb100,#ff9c00,#ff8800,#ff7600,#ff6600,#ff5800,#ff4c00,#ff4100,#ff3900,#ff3300)"></i><i style="top:78px;background:linear-gradient(90deg,#89ff00,#a9ff00,#c8ff00,#e5ff00,#fffd00,#ffe200,#ffc900,#ffb200,#ff9d00,#ff8900,#ff7700,#ff6700,#ff5900,#ff4d00,#ff4300,#ff3b00,#ff3500)"></i><i style="top:80px;background:linear-gradient(90deg,#89ff00,#a9ff00,#c8ff00,#e5ff00,#fffd00,#ffe300,#ffca00,#ffb300,#ff9e00,#ff8a00,#ff7800,#ff6800,#ff5a00,#ff4e00,#ff4400,#ff3c00,#ff3600)"></i><i style="top:82px;background:linear-gradient(90deg,#89ff00,#a9ff00,#c8ff00,#e5ff00,#fffd00,#ffe300,#ffcb00,#ffb400,#ff9f00,#ff8b00,#ff7a00,#ff6a00,#ff5c00,#ff5000,#ff4600,#ff3e00,#ff3800)"></i><i style="top:84px;background:linear-gradient(90deg,#89ff00,#a9ff00,#c8ff00,#e5ff00,#fffe00,#ffe400,#ffcb00,#ffb500,#ffa000,#ff8c00,#ff7b00,#ff6b00,#ff5d00,#ff5100,#ff4700,#ff4000,#ff3a00)"></i><i style="top:86px;background:linear-gradient(90deg,#8aff00,#a9ff00,#c7ff00,#e4ff00,#fffe00,#ffe500,#ffcc00,#ffb600,#ffa100,#ff8e00,#ff7c00,#ff6c00,#ff5f00,#ff5300,#ff4900,#ff4100,#ff3b00)"></i><i style="top:88px;background:linear-gradient(90deg,#8aff00,#a9ff00,#c7ff00,#e4ff00,#ffff00,#ffe500,#ffcd00,#ffb700,#ffa200,#ff8f00,#ff7d00,#ff6e00,#ff6000,#ff5500,#ff4b00,#ff4300,#ff3d00)"></i><i style="top:90px;background:linear-gradient(90deg,#8aff00,#a9ff00,#c7ff00,#e3ff00,#feff00,#ffe600,#ffce00,#ffb800,#ffa300,#ff9000,#ff7f00,#ff6f00,#ff6200,#ff5600,#ff4c00,#ff4500,#ff3f00)"></i><i style="top:92px;background:linear-gradient(90deg,#8aff00,#a9ff00,#c7ff00,#e3ff00,#feff00,#ffe700,#ffcf00,#ffb900,#ffa400,#ff9200,#ff8000,#ff7100,#ff6400,#ff5800,#ff4e00,#ff4700,#ff4100)"></i><i style="top:94px;background:linear-gradient(90deg,#8aff00,#a9ff00,#c6ff00,#e2ff00,#fdff00,#ffe800,#ffd000,#ffba00,#ffa600,#ff9300,#ff8200,#ff7300,#ff6500,#ff5a00,#ff5000,#ff4900,#ff4300)"></i><i style="top:96px;background:linear-gradient(90deg,#8aff00,#a8ff00,#c6ff00,#e2ff00,#fcff00,#ffe900,#ffd100,#ffbb00,#ffa700,#ff9400,#ff8300,#ff7400,#ff6700,#ff5c00,#ff5200,#ff4a00,#ff4500)"></i><i style="top:98px;background:linear-gradient(90deg,#8aff00,#a8ff00,#c5ff00,#e1ff00,#fbff00,#ffea00,#ffd300,#ffbd00,#ffa800,#ff9600,#ff8500,#ff7600,#ff6900,#ff5d00,#ff5400,#ff4c00,#ff4700)"></i><i style="top:100px;background:linear-gradient(90deg,#89ff00,#a8ff00,#c5ff00,#e0ff00,#faff00,#ffeb00,#ffd400,#ffbe00,#ffaa00,#ff9800,#ff8700,#ff7800,#ff6b00,#ff5f00,#ff5600,#ff4f00,#ff4900)"></i><i style="top:102px;background:linear-gradient(90deg,#89ff00,#a7ff00,#c4ff00,#dfff00,#f9ff00,#ffec00,#ffd500,#ffbf00,#ffab00,#ff9900,#ff8900,#ff7a00,#ff6d00,#ff6100,#ff5800,#ff5100,#ff4b00)"></i><i style="top:104px;background:linear-gradient(90deg,#89ff00,#a7ff00,#c3ff00,#deff00,#f8ff00,#ffed00,#ffd600,#ffc100,#ffad00,#ff9b00,#ff8a00,#ff7c00,#ff6f00,#ff6300,#ff5a00,#ff5300,#ff4d00)"></i><i style="top:106px;background:linear-gradient(90deg,#89ff00,#a6ff00,#c3ff00,#deff00,#f7ff00,#ffee00,#ffd800,#ffc200,#ffaf00,#ff9d00,#ff8c00,#ff7e00,#ff7100,#ff6600,#ff5c00,#ff5500,#ff5000)"></i><i style="top:108px;background:linear-gradient(90deg,#88ff00,#a6ff00,#c2ff00,#ddff00,#f6ff00,#fff000,#ffd900,#ffc400,#ffb000,#ff9e00,#ff8e00,#ff8000,#ff7300,#ff6800,#ff5f00,#ff5700,#ff5200)"></i><i style="top:110px;background:linear-gradient(90deg,#88ff00,#a5ff00,#c1ff00,#dcff00,#f5ff00,#fff100,#ffdb00,#ffc600,#ffb200,#ffa000,#ff9000,#ff8200,#ff7500,#ff6a00,#ff6100,#ff5a00,#ff5400)"></i><i style="top:112px;background:linear-gradient(90deg,#87ff00,#a4ff00,#c0ff00,#dbff00,#f4ff00,#fff200,#ffdc00,#ffc700,#ffb400,#ffa200,#ff9200,#ff8400,#ff7700,#ff6c00,#ff6300,#ff5c00,#ff5700)"></i><i style="top:114px;background:linear-gradient(90deg,#87ff00,#a3ff00,#bfff00,#d9ff00,#f2ff00,#fff400,#ffde00,#ffc900,#ffb600,#ffa400,#ff9400,#ff8600,#ff7900,#ff6e00,#ff6500,#ff5e00,#ff5900)"></i><i style="top:116px;background:linear-gradient(90deg,#86ff00,#a3ff00,#beff00,#d8ff00,#f1ff00,#fff500,#ffdf00,#ffcb00,#ffb800,#ffa600,#ff9600,#ff8800,#ff7b00,#ff7100,#ff6800,#ff6100,#ff5c00)"></i><i style="top:118px;background:linear-gradient(90deg,#85ff00,#a2ff00,#bdff00,#d7ff00,#f0ff00,#fff700,#ffe100,#ffcc00,#ffba00,#ffa800,#ff9800,#ff8a00,#ff7e00,#ff7300,#ff6a00,#ff6300,#ff5e00)"></i><i style="top:120px;background:linear-gradient(90deg,#85ff00,#a1ff00,#bcff00,#d6ff00,#eeff00,#fff800,#ffe300,#ffce00,#ffbc00,#ffaa00,#ff9b00,#ff8d00,#ff8000,#ff7600,#ff6d00,#ff6600,#ff6100)"></i><i style="top:122px;background:linear-gradient(90deg,#84ff00,#a0ff00,#bbff00,#d5ff00,#edff00,#fffa00,#ffe400,#ffd000,#ffbe00,#ffac00,#ff9d00,#ff8f00,#ff8300,#ff7800,#ff6f00,#ff6900,#ff6400)"></i><i style="top:124px;background:linear-gradient(90deg,#83ff00,#9fff00,#baff00,#d3ff00,#ebff00,#fffc00,#ffe600,#ffd200,#ffc000,#ffaf00,#ff9f00,#ff9100,#ff8500,#ff7b00,#ff7200,#ff6b00,#ff6600)"></i><i style="top:126px;background:linear-gradient(90deg,#82ff00,#9eff00,#b8ff00,#d2ff00,#eaff00,#fffe00,#ffe800,#ffd400,#ffc200,#ffb100,#ffa100,#ff9400,#ff8800,#ff7d00,#ff7500,#ff6e00,#ff6900)"></i><i style="top:128px;background:linear-gradient(90deg,#81ff00,#9dff00,#b7ff00,#d0ff00,#e8ff00,#ffff00,#ffea00,#ffd600,#ffc400,#ffb300,#ffa400,#ff9600,#ff8a00,#ff8000,#ff7700,#ff7100,#ff6c00)"></i><i style="top:130px;background:linear-gradient(90deg,#80ff00,#9cff00,#b6ff00,#cfff00,#e6ff00,#fdff00,#ffec00,#ffd800,#ffc600,#ffb600,#ffa600,#ff9900,#ff8d00,#ff8300,#ff7a00,#ff7400,#ff6f00)"></i><i style="top:132px;background:linear-gradient(90deg,#7fff00,#9aff00,#b4ff00,#cdff00,#e5ff00,#fbff00,#ffee00,#ffdb00,#ffc900,#ffb800,#ffa900,#ff9b00,#ff9000,#ff8500,#ff7d00,#ff7600,#ff7200)"></i><i style="top:134px;background:linear-gradient(90deg,#7eff00,#99ff00,#b3ff00,#ccff00,#e3ff00,#f9ff00,#fff000,#ffdd00,#ffcb00,#ffba00,#ffab00,#ff9e00,#ff9200,#ff8800,#ff8000,#ff7900,#ff7500)"></i><i style="top:136px;background:linear-gradient(90deg,#7dff00,#98ff00,#b1ff00,#caff00,#e1ff00,#f7ff00,#fff200,#ffdf00,#ffcd00,#ffbd00,#ffae00,#ffa100,#ff9500,#ff8b00,#ff8300,#ff7c00,#ff7800)"></i><i style="top:138px;background:linear-gradient(90deg,#7cff00,#96ff00,#b0ff00,#c8ff00,#dfff00,#f5ff00,#fff500,#ffe100,#ffd000,#ffbf00,#ffb100,#ffa400,#ff9800,#ff8e00,#ff8600,#ff7f00,#ff7b00)"></i><i style="top:140px;background:linear-gradient(90deg,#7bff00,#95ff00,#aeff00,#c6ff00,#ddff00,#f3ff00,#fff700,#ffe400,#ffd200,#ffc200,#ffb300,#ffa600,#ff9b00,#ff9100,#ff8900,#ff8300,#ff7e00)"></i><i style="top:142px;background:linear-gradient(90deg,#79ff00,#94ff00,#adff00,#c4ff00,#dbff00,#f1ff00,#fff900,#ffe600,#ffd500,#ffc500,#ffb600,#ffa900,#ff9e00,#ff9400,#ff8c00,#ff8600,#ff8100)"></i><i style="top:144px;background:linear-gradient(90deg,#78ff00,#92ff00,#abff00,#c3ff00,#d9ff00,#eeff00,#fffb00,#ffe900,#ffd700,#ffc800,#ffb900,#ffac00,#ffa100,#ff9700,#ff8f00,#ff8900,#ff8400)"></i><i style="top:146px;background:linear-gradient(90deg,#77ff00,#90ff00,#a9ff00,#c1ff00,#d7ff00,#ecff00,#fffe00,#ffeb00,#ffda00,#ffca00,#ffbc00,#ffaf00,#ffa400,#ff9a00,#ff9200,#ff8c00,#ff8800)"></i><i style="top:148px;background:linear-gradient(90deg,#75ff00,#8fff00,#a7ff00,#bfff00,#d5ff00,#eaff00,#feff00,#ffee00,#ffdd00,#ffcd00,#ffbf00,#ffb200,#ffa700,#ff9d00,#ff9600,#ff8f00,#ff8b00)"></i><i style="top:150px;background:linear-gradient(90deg,#74ff00,#8dff00,#a5ff00,#bdff00,#d3ff00,#e8ff00,#fbff00,#fff100,#ffe000,#ffd000,#ffc200,#ffb500,#ffaa00,#ffa100,#ff9900,#ff9300,#ff8e00)"></i><i style="top:152px;background:linear-gradient(90deg,#72ff00,#8bff00,#a4ff00,#bbff00,#d0ff00,#e5ff00,#f9ff00,#fff300,#ffe200,#ffd300,#ffc500,#ffb800,#ffad00,#ffa400,#ff9c00,#ff9600,#ff9200)"></i><i style="top:154px;background:linear-gradient(90deg,#71ff00,#8aff00,#a2ff00,#b8ff00,#ceff00,#e3ff00,#f6ff00,#fff600,#ffe500,#ffd600,#ffc800,#ffbc00,#ffb100,#ffa700,#ffa000,#ff9a00,#ff9500)"></i><i style="top:156px;background:linear-gradient(90deg,#6fff00,#88ff00,#a0ff00,#b6ff00,#ccff00,#e0ff00,#f3ff00,#fff900,#ffe800,#ffd900,#ffcb00,#ffbf00,#ffb400,#ffab00,#ffa300,#ff9d00,#ff9900)"></i><i style="top:158px;background:linear-gradient(90deg,#6dff00,#86ff00,#9dff00,#b4ff00,#c9ff00,#deff00,#f1ff00,#fffc00,#ffeb00,#ffdc00,#ffce00,#ffc200,#ffb700,#ffae00,#ffa700,#ffa100,#ff9c00)"></i><i style="top:160px;background:linear-gradient(90deg,#6cff00,#84ff00,#9bff00,#b2ff00,#c7ff00,#dbff00,#eeff00,#fffe00,#ffee00,#ffdf00,#ffd100,#ffc500,#ffbb00,#ffb200,#ffaa00,#ffa400,#ffa000)"></i><i style="top:162px;background:linear-gradient(90deg,#6aff00,#82ff00,#99ff00,#afff00,#c4ff00,#d8ff00,#ebff00,#fdff00,#fff100,#ffe200,#ffd500,#ffc900,#ffbe00,#ffb500,#ffae00,#ffa800,#ffa400)"></i><i style="top:164px;background:linear-gradient(90deg,#68ff00,#80ff00,#97ff00,#adff00,#c2ff00,#d6ff00,#e8ff00,#faff00,#fff400,#ffe500,#ffd800,#ffcc00,#ffc200,#ffb900,#ffb100,#ffac00,#ffa800)"></i><i style="top:166px;background:linear-gradient(90deg,#66ff00,#7eff00,#95ff00,#abff00,#bfff00,#d3ff00,#e5ff00,#f7ff00,#fff700,#ffe900,#ffdb00,#ffd000,#ffc500,#ffbc00,#ffb500,#ffaf00,#ffab00)"></i><i style="top:168px;background:linear-gradient(90deg,#64ff00,#7cff00,#92ff00,#a8ff00,#bdff00,#d0ff00,#e2ff00,#f3ff00,#fffb00,#ffec00,#ffdf00,#ffd300,#ffc900,#ffc000,#ffb900,#ffb300,#ffaf00)"></i><i style="top:170px;background:linear-gradient(90deg,#62ff00,#7aff00,#90ff00,#a5ff00,#baff00,#cdff00,#dfff00,#f0ff00,#fffe00,#ffef00,#ffe200,#ffd700,#ffcc00,#ffc400,#ffbd00,#ffb700,#ffb300)"></i><i style="top:172px;background:linear-gradient(90deg,#60ff00,#77ff00,#8eff00,#a3ff00,#b7ff00,#caff00,#dcff00,#edff00,#fdff00,#fff300,#ffe600,#ffda00,#ffd000,#ffc800,#ffc000,#ffbb00,#ffb700)"></i><i style="top:174px;background:linear-gradient(90deg,#5eff00,#75ff00,#8bff00,#a0ff00,#b4ff00,#c7ff00,#d9ff00,#eaff00,#f9ff00,#fff600,#ffea00,#ffde00,#ffd400,#ffcb00,#ffc400,#ffbf00,#ffbb00)"></i><i style="top:176px;background:linear-gradient(90deg,#5cff00,#73ff00,#89ff00,#9eff00,#b1ff00,#c4ff00,#d6ff00,#e7ff00,#f6ff00,#fffa00,#ffed00,#ffe200,#ffd800,#ffcf00,#ffc800,#ffc300,#ffbf00)"></i><i style="top:178px;background:linear-gradient(90deg,#5aff00,#70ff00,#86ff00,#9bff00,#afff00,#c1ff00,#d3ff00,#e3ff00,#f3ff00,#fffd00,#fff100,#ffe600,#ffdc00,#ffd300,#ffcc00,#ffc700,#ffc300)"></i><i style="top:180px;background:linear-gradient(90deg,#58ff00,#6eff00,#83ff00,#98ff00,#acff00,#beff00,#d0ff00,#e0ff00,#efff00,#fdff00,#fff500,#ffe900,#ffe000,#ffd700,#ffd000,#ffcb00,#ffc700)"></i><i style="top:182px;background:linear-gradient(90deg,#55ff00,#6bff00,#81ff00,#95ff00,#a9ff00,#bbff00,#ccff00,#dcff00,#ebff00,#f9ff00,#fff800,#ffed00,#ffe300,#ffdb00,#ffd400,#ffcf00,#ffcb00)"></i><i style="top:184px;background:linear-gradient(90deg,#53ff00,#69ff00,#7eff00,#92ff00,#a6ff00,#b8ff00,#c9ff00,#d9ff00,#e8ff00,#f5ff00,#fffc00,#fff100,#ffe700,#ffdf00,#ffd900,#ffd300,#ffd000)"></i><i style="top:186px;background:linear-gradient(90deg,#50ff00,#66ff00,#7bff00,#8fff00,#a2ff00,#b4ff00,#c6ff00,#d5ff00,#e4ff00,#f2ff00,#feff00,#fff500,#ffec00,#ffe300,#ffdd00,#ffd800,#ffd400)"></i><i style="top:188px;background:linear-gradient(90deg,#4eff00,#64ff00,#78ff00,#8cff00,#9fff00,#b1ff00,#c2ff00,#d2ff00,#e0ff00,#eeff00,#faff00,#fff900,#fff000,#ffe800,#ffe100,#ffdc00,#ffd800)"></i><i style="top:190px;background:linear-gradient(90deg,#4cff00,#61ff00,#76ff00,#89ff00,#9cff00,#aeff00,#bfff00,#ceff00,#ddff00,#eaff00,#f6ff00,#fffd00,#fff400,#ffec00,#ffe500,#ffe000,#ffdd00)"></i><i style="top:192px;background:linear-gradient(90deg,#49ff00,#5eff00,#73ff00,#86ff00,#99ff00,#aaff00,#bbff00,#caff00,#d9ff00,#e6ff00,#f2ff00,#fdff00,#fff800,#fff000,#ffea00,#ffe500,#ffe100)"></i><i style="top:194px;background:linear-gradient(90deg,#46ff00,#5bff00,#70ff00,#83ff00,#95ff00,#a7ff00,#b7ff00,#c7ff00,#d5ff00,#e2ff00,#eeff00,#f8ff00,#fffc00,#fff400,#ffee00,#ffe900,#ffe600)"></i><i style="top:196px;background:linear-gradient(90deg,#44ff00,#59ff00,#6dff00,#80ff00,#92ff00,#a3ff00,#b4ff00,#c3ff00,#d1ff00,#deff00,#eaff00,#f4ff00,#fdff00,#fff900,#fff200,#ffee00,#ffea00)"></i><i style="top:198px;background:linear-gradient(90deg,#41ff00,#56ff00,#6aff00,#7dff00,#8fff00,#a0ff00,#b0ff00,#bfff00,#cdff00,#daff00,#e6ff00,#f0ff00,#f9ff00,#fffd00,#fff700,#fff200,#ffef00)"></i><i style="top:200px;background:linear-gradient(90deg,#3eff00,#53ff00,#66ff00,#79ff00,#8bff00,#9cff00,#acff00,#bbff00,#c9ff00,#d6ff00,#e1ff00,#ecff00,#f5ff00,#fcff00,#fffb00,#fff700,#fff300)"></i><i style="top:202px;background:linear-gradient(90deg,#3cff00,#50ff00,#63ff00,#76ff00,#88ff00,#99ff00,#a8ff00,#b7ff00,#c5ff00,#d2ff00,#ddff00,#e7ff00,#f0ff00,#f8ff00,#feff00,#fffb00,#fff800)"></i><i style="top:204px;background:linear-gradient(90deg,#39ff00,#4dff00,#60ff00,#73ff00,#84ff00,#95ff00,#a5ff00,#b3ff00,#c1ff00,#cdff00,#d9ff00,#e3ff00,#ecff00,#f3ff00,#f9ff00,#feff00,#fffd00)"></i><i style="top:206px;background:linear-gradient(90deg,#36ff00,#4aff00,#5dff00,#6fff00,#81ff00,#91ff00,#a1ff00,#afff00,#bdff00,#c9ff00,#d4ff00,#deff00,#e7ff00,#efff00,#f5ff00,#f9ff00,#fcff00)"></i><i style="top:208px;background:linear-gradient(90deg,#33ff00,#47ff00,#59ff00,#6cff00,#7dff00,#8dff00,#9dff00,#abff00,#b9ff00,#c5ff00,#d0ff00,#daff00,#e2ff00,#eaff00,#f0ff00,#f4ff00,#f8ff00)"></i><i style="top:210px;background:linear-gradient(90deg,#30ff00,#43ff00,#56ff00,#68ff00,#79ff00,#89ff00,#99ff00,#a7ff00,#b4ff00,#c0ff00,#cbff00,#d5ff00,#deff00,#e5ff00,#ebff00,#f0ff00,#f3ff00)"></i><i style="top:212px;background:linear-gradient(90deg,#2dff00,#40ff00,#53ff00,#64ff00,#75ff00,#86ff00,#95ff00,#a3ff00,#b0ff00,#bcff00,#c7ff00,#d1ff00,#d9ff00,#e0ff00,#e6ff00,#ebff00,#eeff00)"></i><i style="top:214px;background:linear-gradient(90deg,#2aff00,#3dff00,#4fff00,#61ff00,#72ff00,#82ff00,#91ff00,#9fff00,#acff00,#b8ff00,#c2ff00,#ccff00,#d4ff00,#dcff00,#e1ff00,#e6ff00,#e9ff00)"></i><i style="top:216px;background:linear-gradient(90deg,#27ff00,#3aff00,#4cff00,#5dff00,#6eff00,#7eff00,#8cff00,#9aff00,#a7ff00,#b3ff00,#beff00,#c7ff00,#d0ff00,#d7ff00,#dcff00,#e1ff00,#e4ff00)"></i><i style="top:218px;background:linear-gradient(90deg,#23ff00,#36ff00,#48ff00,#59ff00,#6aff00,#79ff00,#88ff00,#96ff00,#a3ff00,#aeff00,#b9ff00,#c2ff00,#cbff00,#d2ff00,#d7ff00,#dcff00,#dfff00)"></i><i style="top:220px;background:linear-gradient(90deg,#20ff00,#33ff00,#45ff00,#56ff00,#66ff00,#75ff00,#84ff00,#92ff00,#9eff00,#aaff00,#b4ff00,#beff00,#c6ff00,#cdff00,#d2ff00,#d7ff00,#d9ff00)"></i><i style="top:222px;background:linear-gradient(90deg,#1dff00,#2fff00,#41ff00,#52ff00,#62ff00,#71ff00,#80ff00,#8dff00,#9aff00,#a5ff00,#b0ff00,#b9ff00,#c1ff00,#c8ff00,#cdff00,#d1ff00,#d4ff00)"></i><i style="top:224px;background:linear-gradient(90deg,#1aff00,#2cff00,#3dff00,#4eff00,#5eff00,#6dff00,#7bff00,#89ff00,#95ff00,#a0ff00,#abff00,#b4ff00,#bcff00,#c3ff00,#c8ff00,#ccff00,#cfff00)"></i><i style="top:226px;background:linear-gradient(90deg,#16ff00,#28ff00,#39ff00,#4aff00,#5aff00,#69ff00,#77ff00,#84ff00,#90ff00,#9cff00,#a6ff00,#afff00,#b7ff00,#beff00,#c3ff00,#c7ff00,#caff00)"></i><i style="top:228px;background:linear-gradient(90deg,#13ff00,#25ff00,#36ff00,#46ff00,#56ff00,#64ff00,#72ff00,#80ff00,#8cff00,#97ff00,#a1ff00,#aaff00,#b2ff00,#b8ff00,#beff00,#c2ff00,#c4ff00)"></i><i style="top:230px;background:linear-gradient(90deg,#0fff00,#21ff00,#32ff00,#42ff00,#51ff00,#60ff00,#6eff00,#7bff00,#87ff00,#92ff00,#9cff00,#a5ff00,#adff00,#b3ff00,#b8ff00,#bcff00,#bfff00)"></i><i style="top:232px;background:linear-gradient(90deg,#0cff00,#1dff00,#2eff00,#3eff00,#4dff00,#5cff00,#69ff00,#76ff00,#82ff00,#8dff00,#97ff00,#a0ff00,#a7ff00,#aeff00,#b3ff00,#b7ff00,#baff00)"></i><i style="top:234px;background:linear-gradient(90deg,#08ff00,#19ff00,#2aff00,#3aff00,#49ff00,#57ff00,#65ff00,#71ff00,#7dff00,#88ff00,#92ff00,#9bff00,#a2ff00,#a9ff00,#aeff00,#b2ff00,#b4ff00)"></i><i style="top:236px;background:linear-gradient(90deg,#05ff00,#15ff00,#26ff00,#36ff00,#45ff00,#53ff00,#60ff00,#6dff00,#78ff00,#83ff00,#8dff00,#95ff00,#9dff00,#a3ff00,#a8ff00,#acff00,#afff00)"></i><i style="top:238px;background:linear-gradient(90deg,#01ff00,#12ff00,#22ff00,#31ff00,#40ff00,#4eff00,#5bff00,#68ff00,#73ff00,#7eff00,#88ff00,#90ff00,#97ff00,#9eff00,#a3ff00,#a7ff00,#a9ff00)"></i></div>
<div class="hm" style="top:613px;height:239px"><i style="top:0px;background:linear-gradient(90deg,#00ff06,#2fff00,#61ff00,#91ff00,#beff00,#e9ff00,#ffed00,#ffc600,#ffa200,#ff8100,#ff6100,#ff4400,#ff2a00,#ff1100,#ff0000,#ff0000,#ff0000)"></i><i style="top:2px;background:linear-gradient(90deg,#00ff01,#33ff00,#65ff00,#94ff00,#c1ff00,#ecff00,#ffea00,#ffc500,#ffa100,#ff8000,#ff6100,#ff4500,#ff2a00,#ff1200,#ff0000,#ff0000,#ff0000)"></i><i style="top:4px;background:linear-gradient(90deg,#04ff00,#38ff00,#69ff00,#98ff00,#c4ff00,#eeff00,#ffe800,#ffc300,#ffa000,#ff8000,#ff6100,#ff4500,#ff2b00,#ff1400,#ff0000,#ff0000,#ff0000)"></i><i style="top:6px;background:linear-gradient(90deg,#09ff00,#3cff00,#6dff00,#9bff00,#c7ff00,#f1ff00,#ffe600,#ffc200,#ff9f00,#ff7f00,#ff6100,#ff4600,#ff2c00,#ff1500,#ff0000,#ff0000,#ff0000)"></i><i style="top:8px;background:linear-gradient(90deg,#0eff00,#41ff00,#71ff00,#9fff00,#caff00,#f3ff00,#ffe400,#ffc000,#ff9e00,#ff7e00,#ff6100,#ff4600,#ff2d00,#ff1600,#ff0200,#ff0000,#ff0000)"></i><i style="top:10px;background:linear-gradient(90deg,#13ff00,#45ff00,#75ff00,#a2ff00,#cdff00,#f5ff00,#ffe200,#ffbf00,#ff9d00,#ff7e00,#ff6100,#ff4700,#ff2e00,#ff1800,#ff0400,#ff0000,#ff0000)"></i><i style="top:12px;background:linear-gradient(90deg,#17ff00,#49ff00,#79ff00,#a5ff00,#d0ff00,#f8ff00,#ffe100,#ffbd00,#ff9c00,#ff7e00,#ff6100,#ff4700,#ff2f00,#ff1a00,#ff0600,#ff0000,#ff0000)"></i><i style="top:14px;background:linear-gradient(90deg,#1cff00,#4dff00,#7cff00,#a9ff00,#d3ff00,#faff00,#ffdf00,#ffbc00,#ff9c00,#ff7d00,#ff6100,#ff4800,#ff3000,#ff1b00,#ff0800,#ff0000,#ff0000)"></i><i style="top:16px;background:linear-gradient(90deg,#21ff00,#52ff00,#80ff00,#acff00,#d5ff00,#fcff00,#ffdd00,#ffbb00,#ff9b00,#ff7d00,#ff6200,#ff4900,#ff3200,#ff1d00,#ff0b00,#ff0000,#ff0000)"></i><i style="top:18px;background:linear-gradient(90deg,#25ff00,#56ff00,#84ff00,#afff00,#d8ff00,#feff00,#ffdb00,#ffba00,#ff9a00,#ff7d00,#ff6200,#ff4900,#ff3300,#ff1f00,#ff0d00,#ff0000,#ff0000)"></i><i style="top:20px;background:linear-gradient(90deg,#2aff00,#5aff00,#87ff00,#b2ff00,#dbff00,#fffd00,#ffda00,#ffb800,#ff9900,#ff7d00,#ff6200,#ff4a00,#ff3400,#ff2100,#ff0f00,#ff0000,#ff0000)"></i><i style="top:22px;background:linear-gradient(90deg,#2eff00,#5eff00,#8bff00,#b5ff00,#ddff00,#fffb00,#ffd800,#ffb700,#ff9900,#ff7d00,#ff6300,#ff4b00,#ff3600,#ff2200,#ff1100,#ff0300,#ff0000)"></i><i style="top:24px;background:linear-gradient(90deg,#33ff00,#62ff00,#8eff00,#b8ff00,#e0ff00,#fff900,#ffd700,#ffb600,#ff9800,#ff7d00,#ff6300,#ff4c00,#ff3700,#ff2400,#ff1400,#ff0600,#ff0000)"></i><i style="top:26px;background:linear-gradient(90deg,#37ff00,#66ff00,#92ff00,#bbff00,#e2ff00,#fff700,#ffd500,#ffb500,#ff9800,#ff7d00,#ff6400,#ff4d00,#ff3900,#ff2600,#ff1600,#ff0900,#ff0000)"></i><i style="top:28px;background:linear-gradient(90deg,#3bff00,#69ff00,#95ff00,#beff00,#e4ff00,#fff600,#ffd400,#ffb400,#ff9700,#ff7d00,#ff6400,#ff4e00,#ff3a00,#ff2800,#ff1900,#ff0c00,#ff0000)"></i><i style="top:30px;background:linear-gradient(90deg,#40ff00,#6dff00,#98ff00,#c1ff00,#e7ff00,#fff400,#ffd200,#ffb400,#ff9700,#ff7d00,#ff6500,#ff4f00,#ff3c00,#ff2b00,#ff1c00,#ff0f00,#ff0400)"></i><i style="top:32px;background:linear-gradient(90deg,#44ff00,#71ff00,#9bff00,#c3ff00,#e9ff00,#fff200,#ffd100,#ffb300,#ff9700,#ff7d00,#ff6600,#ff5000,#ff3d00,#ff2d00,#ff1e00,#ff1200,#ff0800)"></i><i style="top:34px;background:linear-gradient(90deg,#48ff00,#75ff00,#9fff00,#c6ff00,#ebff00,#fff000,#ffd000,#ffb200,#ff9600,#ff7d00,#ff6600,#ff5200,#ff3f00,#ff2f00,#ff2100,#ff1500,#ff0b00)"></i><i style="top:36px;background:linear-gradient(90deg,#4cff00,#78ff00,#a2ff00,#c9ff00,#edff00,#ffee00,#ffcf00,#ffb100,#ff9600,#ff7d00,#ff6700,#ff5300,#ff4100,#ff3100,#ff2400,#ff1800,#ff0f00)"></i><i style="top:38px;background:linear-gradient(90deg,#50ff00,#7cff00,#a5ff00,#cbff00,#efff00,#ffed00,#ffce00,#ffb100,#ff9600,#ff7e00,#ff6800,#ff5400,#ff4300,#ff3400,#ff2700,#ff1c00,#ff1300)"></i><i style="top:40px;background:linear-gradient(90deg,#54ff00,#7fff00,#a8ff00,#ceff00,#f1ff00,#ffeb00,#ffcd00,#ffb000,#ff9600,#ff7e00,#ff6900,#ff5600,#ff4500,#ff3600,#ff2900,#ff1f00,#ff1700)"></i><i style="top:42px;background:linear-gradient(90deg,#58ff00,#83ff00,#abff00,#d0ff00,#f3ff00,#ffea00,#ffcb00,#ffb000,#ff9600,#ff7f00,#ff6a00,#ff5700,#ff4700,#ff3800,#ff2c00,#ff2300,#ff1b00)"></i><i style="top:44px;background:linear-gradient(90deg,#5cff00,#86ff00,#aeff00,#d3ff00,#f5ff00,#ffe800,#ffcb00,#ffaf00,#ff9600,#ff7f00,#ff6b00,#ff5900,#ff4900,#ff3b00,#ff2f00,#ff2600,#ff1f00)"></i><i style="top:46px;background:linear-gradient(90deg,#60ff00,#89ff00,#b1ff00,#d5ff00,#f7ff00,#ffe700,#ffca00,#ffaf00,#ff9600,#ff8000,#ff6c00,#ff5a00,#ff4b00,#ff3d00,#ff3200,#ff2a00,#ff2300)"></i><i style="top:48px;background:linear-gradient(90deg,#64ff00,#8dff00,#b3ff00,#d7ff00,#f9ff00,#ffe600,#ffc900,#ffae00,#ff9600,#ff8000,#ff6d00,#ff5c00,#ff4d00,#ff4000,#ff3600,#ff2d00,#ff2700)"></i><i style="top:50px;background:linear-gradient(90deg,#67ff00,#90ff00,#b6ff00,#daff00,#fbff00,#ffe400,#ffc800,#ffae00,#ff9600,#ff8100,#ff6e00,#ff5d00,#ff4f00,#ff4300,#ff3900,#ff3100,#ff2b00)"></i><i style="top:52px;background:linear-gradient(90deg,#6bff00,#93ff00,#b9ff00,#dcff00,#fdff00,#ffe300,#ffc700,#ffae00,#ff9700,#ff8200,#ff6f00,#ff5f00,#ff5100,#ff4500,#ff3c00,#ff3500,#ff2f00)"></i><i style="top:54px;background:linear-gradient(90deg,#6fff00,#96ff00,#bbff00,#deff00,#feff00,#ffe200,#ffc700,#ffae00,#ff9700,#ff8300,#ff7100,#ff6100,#ff5300,#ff4800,#ff3f00,#ff3800,#ff3400)"></i><i style="top:56px;background:linear-gradient(90deg,#72ff00,#99ff00,#beff00,#e0ff00,#fffe00,#ffe100,#ffc600,#ffad00,#ff9700,#ff8300,#ff7200,#ff6300,#ff5600,#ff4b00,#ff4300,#ff3c00,#ff3800)"></i><i style="top:58px;background:linear-gradient(90deg,#76ff00,#9cff00,#c1ff00,#e2ff00,#fffd00,#ffe000,#ffc500,#ffad00,#ff9800,#ff8400,#ff7300,#ff6500,#ff5800,#ff4e00,#ff4600,#ff4000,#ff3c00)"></i><i style="top:60px;background:linear-gradient(90deg,#79ff00,#9fff00,#c3ff00,#e4ff00,#fffb00,#ffdf00,#ffc500,#ffad00,#ff9800,#ff8500,#ff7500,#ff6600,#ff5b00,#ff5100,#ff4900,#ff4400,#ff4100)"></i><i style="top:62px;background:linear-gradient(90deg,#7cff00,#a2ff00,#c5ff00,#e6ff00,#fffa00,#ffde00,#ffc400,#ffad00,#ff9900,#ff8600,#ff7600,#ff6800,#ff5d00,#ff5400,#ff4d00,#ff4800,#ff4500)"></i><i style="top:64px;background:linear-gradient(90deg,#80ff00,#a5ff00,#c8ff00,#e8ff00,#fff800,#ffdd00,#ffc400,#ffad00,#ff9900,#ff8700,#ff7800,#ff6b00,#ff6000,#ff5700,#ff5000,#ff4c00,#ff4a00)"></i><i style="top:66px;background:linear-gradient(90deg,#83ff00,#a8ff00,#caff00,#eaff00,#fff700,#ffdc00,#ffc300,#ffad00,#ff9a00,#ff8800,#ff7900,#ff6d00,#ff6200,#ff5a00,#ff5400,#ff5000,#ff4f00)"></i><i style="top:68px;background:linear-gradient(90deg,#86ff00,#abff00,#ccff00,#ecff00,#fff500,#ffdb00,#ffc300,#ffae00,#ff9a00,#ff8a00,#ff7b00,#ff6f00,#ff6500,#ff5d00,#ff5800,#ff5400,#ff5300)"></i><i style="top:70px;background:linear-gradient(90deg,#8aff00,#adff00,#cfff00,#edff00,#fff400,#ffda00,#ffc300,#ffae00,#ff9b00,#ff8b00,#ff7d00,#ff7100,#ff6800,#ff6000,#ff5b00,#ff5900,#ff5800)"></i><i style="top:72px;background:linear-gradient(90deg,#8dff00,#b0ff00,#d1ff00,#efff00,#fff300,#ffda00,#ffc300,#ffae00,#ff9c00,#ff8c00,#ff7e00,#ff7300,#ff6a00,#ff6400,#ff5f00,#ff5d00,#ff5d00)"></i><i style="top:74px;background:linear-gradient(90deg,#90ff00,#b3ff00,#d3ff00,#f1ff00,#fff200,#ffd900,#ffc300,#ffae00,#ff9d00,#ff8d00,#ff8000,#ff7600,#ff6d00,#ff6700,#ff6300,#ff6100,#ff6200)"></i><i style="top:76px;background:linear-gradient(90deg,#93ff00,#b5ff00,#d5ff00,#f2ff00,#fff100,#ffd800,#ffc200,#ffaf00,#ff9e00,#ff8f00,#ff8200,#ff7800,#ff7000,#ff6a00,#ff6700,#ff6500,#ff6600)"></i><i style="top:78px;background:linear-gradient(90deg,#96ff00,#b8ff00,#d7ff00,#f4ff00,#fff000,#ffd800,#ffc200,#ffaf00,#ff9f00,#ff9000,#ff8400,#ff7a00,#ff7300,#ff6e00,#ff6b00,#ff6a00,#ff6b00)"></i><i style="top:80px;background:linear-gradient(90deg,#99ff00,#baff00,#d9ff00,#f5ff00,#ffef00,#ffd700,#ffc200,#ffb000,#ff9f00,#ff9200,#ff8600,#ff7d00,#ff7600,#ff7100,#ff6f00,#ff6e00,#ff7000)"></i><i style="top:82px;background:linear-gradient(90deg,#9cff00,#bcff00,#dbff00,#f7ff00,#ffee00,#ffd700,#ffc200,#ffb000,#ffa100,#ff9300,#ff8800,#ff7f00,#ff7900,#ff7500,#ff7300,#ff7300,#ff7500)"></i><i style="top:84px;background:linear-gradient(90deg,#9eff00,#bfff00,#ddff00,#f8ff00,#ffed00,#ffd700,#ffc300,#ffb100,#ffa200,#ff9500,#ff8a00,#ff8200,#ff7c00,#ff7800,#ff7700,#ff7700,#ff7a00)"></i><i style="top:86px;background:linear-gradient(90deg,#a1ff00,#c1ff00,#deff00,#f9ff00,#ffec00,#ffd600,#ffc300,#ffb200,#ffa300,#ff9600,#ff8c00,#ff8500,#ff7f00,#ff7c00,#ff7b00,#ff7c00,#ff8000)"></i><i style="top:88px;background:linear-gradient(90deg,#a4ff00,#c3ff00,#e0ff00,#fbff00,#ffeb00,#ffd600,#ffc300,#ffb200,#ffa400,#ff9800,#ff8e00,#ff8700,#ff8200,#ff8000,#ff7f00,#ff8100,#ff8500)"></i><i style="top:90px;background:linear-gradient(90deg,#a6ff00,#c5ff00,#e2ff00,#fcff00,#ffeb00,#ffd600,#ffc300,#ffb300,#ffa500,#ff9a00,#ff9100,#ff8a00,#ff8500,#ff8300,#ff8300,#ff8600,#ff8a00)"></i><i style="top:92px;background:linear-gradient(90deg,#a9ff00,#c8ff00,#e4ff00,#fdff00,#ffea00,#ffd600,#ffc300,#ffb400,#ffa600,#ff9c00,#ff9300,#ff8d00,#ff8900,#ff8700,#ff8800,#ff8a00,#ff8f00)"></i><i style="top:94px;background:linear-gradient(90deg,#acff00,#caff00,#e5ff00,#feff00,#ffe900,#ffd500,#ffc400,#ffb500,#ffa800,#ff9d00,#ff9500,#ff9000,#ff8c00,#ff8b00,#ff8c00,#ff8f00,#ff9500)"></i><i style="top:96px;background:linear-gradient(90deg,#aeff00,#ccff00,#e7ff00,#ffff00,#ffe900,#ffd500,#ffc400,#ffb600,#ffa900,#ff9f00,#ff9800,#ff9200,#ff8f00,#ff8f00,#ff9000,#ff9400,#ff9a00)"></i><i style="top:98px;background:linear-gradient(90deg,#b1ff00,#ceff00,#e8ff00,#fffe00,#ffe800,#ffd500,#ffc500,#ffb600,#ffab00,#ffa100,#ff9a00,#ff9500,#ff9300,#ff9300,#ff9500,#ff9900,#ffa000)"></i><i style="top:100px;background:linear-gradient(90deg,#b3ff00,#d0ff00,#eaff00,#fffd00,#ffe800,#ffd500,#ffc500,#ffb800,#ffac00,#ffa300,#ff9d00,#ff9800,#ff9600,#ff9700,#ff9900,#ff9e00,#ffa500)"></i><i style="top:102px;background:linear-gradient(90deg,#b5ff00,#d1ff00,#ebff00,#fffc00,#ffe700,#ffd500,#ffc600,#ffb900,#ffae00,#ffa500,#ff9f00,#ff9b00,#ff9a00,#ff9b00,#ff9e00,#ffa300,#ffab00)"></i><i style="top:104px;background:linear-gradient(90deg,#b8ff00,#d3ff00,#ecff00,#fffb00,#ffe700,#ffd600,#ffc600,#ffba00,#ffaf00,#ffa700,#ffa200,#ff9f00,#ff9e00,#ff9f00,#ffa200,#ffa800,#ffb000)"></i><i style="top:106px;background:linear-gradient(90deg,#baff00,#d5ff00,#eeff00,#fffa00,#ffe700,#ffd600,#ffc700,#ffbb00,#ffb100,#ffaa00,#ffa400,#ffa200,#ffa100,#ffa300,#ffa700,#ffad00,#ffb600)"></i><i style="top:108px;background:linear-gradient(90deg,#bcff00,#d7ff00,#efff00,#fffa00,#ffe700,#ffd600,#ffc800,#ffbc00,#ffb300,#ffac00,#ffa700,#ffa500,#ffa500,#ffa700,#ffac00,#ffb300,#ffbc00)"></i><i style="top:110px;background:linear-gradient(90deg,#beff00,#d8ff00,#f0ff00,#fff900,#ffe600,#ffd600,#ffc900,#ffbd00,#ffb400,#ffae00,#ffaa00,#ffa800,#ffa900,#ffac00,#ffb100,#ffb800,#ffc100)"></i><i style="top:112px;background:linear-gradient(90deg,#c0ff00,#daff00,#f1ff00,#fff800,#ffe600,#ffd700,#ffc900,#ffbf00,#ffb600,#ffb000,#ffad00,#ffab00,#ffad00,#ffb000,#ffb500,#ffbd00,#ffc700)"></i><i style="top:114px;background:linear-gradient(90deg,#c2ff00,#dcff00,#f2ff00,#fff800,#ffe600,#ffd700,#ffca00,#ffc000,#ffb800,#ffb300,#ffb000,#ffaf00,#ffb000,#ffb400,#ffba00,#ffc300,#ffcd00)"></i><i style="top:116px;background:linear-gradient(90deg,#c4ff00,#ddff00,#f3ff00,#fff700,#ffe600,#ffd700,#ffcb00,#ffc100,#ffba00,#ffb500,#ffb300,#ffb200,#ffb400,#ffb900,#ffbf00,#ffc800,#ffd300)"></i><i style="top:118px;background:linear-gradient(90deg,#c6ff00,#dfff00,#f4ff00,#fff700,#ffe600,#ffd800,#ffcc00,#ffc300,#ffbc00,#ffb800,#ffb500,#ffb600,#ffb800,#ffbd00,#ffc400,#ffcd00,#ffd900)"></i><i style="top:120px;background:linear-gradient(90deg,#c8ff00,#e0ff00,#f5ff00,#fff600,#ffe600,#ffd800,#ffcd00,#ffc400,#ffbe00,#ffba00,#ffb800,#ffb900,#ffbc00,#ffc200,#ffc900,#ffd300,#ffdf00)"></i><i style="top:122px;background:linear-gradient(90deg,#caff00,#e1ff00,#f6ff00,#fff600,#ffe600,#ffd900,#ffce00,#ffc600,#ffc000,#ffbd00,#ffbc00,#ffbd00,#ffc000,#ffc600,#ffce00,#ffd900,#ffe500)"></i><i style="top:124px;background:linear-gradient(90deg,#ccff00,#e3ff00,#f7ff00,#fff500,#ffe600,#ffda00,#ffcf00,#ffc800,#ffc200,#ffbf00,#ffbf00,#ffc000,#ffc400,#ffcb00,#ffd300,#ffde00,#ffeb00)"></i><i style="top:126px;background:linear-gradient(90deg,#ceff00,#e4ff00,#f8ff00,#fff500,#ffe600,#ffda00,#ffd100,#ffc900,#ffc400,#ffc200,#ffc200,#ffc400,#ffc900,#ffcf00,#ffd900,#ffe400,#fff100)"></i><i style="top:128px;background:linear-gradient(90deg,#cfff00,#e5ff00,#f8ff00,#fff500,#ffe700,#ffdb00,#ffd200,#ffcb00,#ffc700,#ffc500,#ffc500,#ffc800,#ffcd00,#ffd400,#ffde00,#ffea00,#fff800)"></i><i style="top:130px;background:linear-gradient(90deg,#d1ff00,#e6ff00,#f9ff00,#fff500,#ffe700,#ffdc00,#ffd300,#ffcd00,#ffc900,#ffc700,#ffc800,#ffcc00,#ffd100,#ffd900,#ffe300,#ffef00,#fffe00)"></i><i style="top:132px;background:linear-gradient(90deg,#d3ff00,#e7ff00,#faff00,#fff500,#ffe700,#ffdd00,#ffd400,#ffcf00,#ffcb00,#ffca00,#ffcc00,#ffcf00,#ffd500,#ffde00,#ffe800,#fff500,#faff00)"></i><i style="top:134px;background:linear-gradient(90deg,#d4ff00,#e9ff00,#faff00,#fff400,#ffe800,#ffde00,#ffd600,#ffd000,#ffce00,#ffcd00,#ffcf00,#ffd300,#ffda00,#ffe300,#ffee00,#fffb00,#f3ff00)"></i><i style="top:136px;background:linear-gradient(90deg,#d6ff00,#eaff00,#fbff00,#fff400,#ffe800,#ffde00,#ffd700,#ffd200,#ffd000,#ffd000,#ffd200,#ffd700,#ffde00,#ffe800,#fff300,#fdff00,#edff00)"></i><i style="top:138px;background:linear-gradient(90deg,#d7ff00,#ebff00,#fbff00,#fff400,#ffe900,#ffdf00,#ffd900,#ffd400,#ffd300,#ffd300,#ffd600,#ffdb00,#ffe300,#ffec00,#fff900,#f7ff00,#e6ff00)"></i><i style="top:140px;background:linear-gradient(90deg,#d9ff00,#ebff00,#fcff00,#fff400,#ffe900,#ffe100,#ffda00,#ffd600,#ffd500,#ffd600,#ffd900,#ffdf00,#ffe700,#fff200,#fffe00,#f1ff00,#e0ff00)"></i><i style="top:142px;background:linear-gradient(90deg,#daff00,#ecff00,#fcff00,#fff500,#ffea00,#ffe200,#ffdc00,#ffd800,#ffd800,#ffd900,#ffdd00,#ffe300,#ffec00,#fff700,#faff00,#ebff00,#d9ff00)"></i><i style="top:144px;background:linear-gradient(90deg,#dbff00,#edff00,#fcff00,#fff500,#ffea00,#ffe300,#ffdd00,#ffdb00,#ffda00,#ffdc00,#ffe100,#ffe700,#fff000,#fffc00,#f5ff00,#e5ff00,#d3ff00)"></i><i style="top:146px;background:linear-gradient(90deg,#ddff00,#eeff00,#fdff00,#fff500,#ffeb00,#ffe400,#ffdf00,#ffdd00,#ffdd00,#ffdf00,#ffe400,#ffeb00,#fff500,#fdff00,#efff00,#dfff00,#ccff00)"></i><i style="top:148px;background:linear-gradient(90deg,#deff00,#efff00,#fdff00,#fff500,#ffec00,#ffe500,#ffe100,#ffdf00,#ffe000,#ffe300,#ffe800,#fff000,#fffa00,#f8ff00,#e9ff00,#d8ff00,#c5ff00)"></i><i style="top:150px;background:linear-gradient(90deg,#dfff00,#efff00,#fdff00,#fff500,#ffed00,#ffe600,#ffe300,#ffe100,#ffe200,#ffe600,#ffec00,#fff400,#ffff00,#f3ff00,#e3ff00,#d2ff00,#beff00)"></i><i style="top:152px;background:linear-gradient(90deg,#e0ff00,#f0ff00,#fdff00,#fff600,#ffee00,#ffe800,#ffe400,#ffe400,#ffe500,#ffe900,#fff000,#fff800,#fbff00,#edff00,#deff00,#ccff00,#b8ff00)"></i><i style="top:154px;background:linear-gradient(90deg,#e1ff00,#f1ff00,#fdff00,#fff600,#ffee00,#ffe900,#ffe600,#ffe600,#ffe800,#ffed00,#fff300,#fffd00,#f6ff00,#e8ff00,#d8ff00,#c5ff00,#b1ff00)"></i><i style="top:156px;background:linear-gradient(90deg,#e2ff00,#f1ff00,#feff00,#fff700,#ffef00,#ffeb00,#ffe800,#ffe800,#ffeb00,#fff000,#fff700,#fdff00,#f1ff00,#e3ff00,#d2ff00,#bfff00,#aaff00)"></i><i style="top:158px;background:linear-gradient(90deg,#e3ff00,#f2ff00,#fdff00,#fff700,#fff000,#ffec00,#ffea00,#ffeb00,#ffee00,#fff300,#fffb00,#f9ff00,#ecff00,#ddff00,#ccff00,#b8ff00,#a3ff00)"></i><i style="top:160px;background:linear-gradient(90deg,#e4ff00,#f2ff00,#fdff00,#fff800,#fff100,#ffee00,#ffec00,#ffed00,#fff100,#fff700,#ffff00,#f4ff00,#e7ff00,#d8ff00,#c6ff00,#b2ff00,#9cff00)"></i><i style="top:162px;background:linear-gradient(90deg,#e5ff00,#f2ff00,#fdff00,#fff800,#fff200,#ffef00,#ffee00,#fff000,#fff400,#fffa00,#fbff00,#efff00,#e2ff00,#d2ff00,#c0ff00,#abff00,#95ff00)"></i><i style="top:164px;background:linear-gradient(90deg,#e6ff00,#f3ff00,#fdff00,#fff900,#fff400,#fff100,#fff000,#fff300,#fff700,#fffe00,#f7ff00,#ebff00,#ddff00,#ccff00,#baff00,#a5ff00,#8dff00)"></i><i style="top:166px;background:linear-gradient(90deg,#e7ff00,#f3ff00,#fdff00,#fffa00,#fff500,#fff200,#fff300,#fff500,#fffa00,#fcff00,#f2ff00,#e6ff00,#d8ff00,#c7ff00,#b3ff00,#9eff00,#86ff00)"></i><i style="top:168px;background:linear-gradient(90deg,#e7ff00,#f3ff00,#fdff00,#fffa00,#fff600,#fff400,#fff500,#fff800,#fffd00,#f9ff00,#eeff00,#e1ff00,#d2ff00,#c1ff00,#adff00,#97ff00,#7fff00)"></i><i style="top:170px;background:linear-gradient(90deg,#e8ff00,#f4ff00,#fcff00,#fffb00,#fff700,#fff600,#fff700,#fffb00,#fdff00,#f5ff00,#eaff00,#ddff00,#cdff00,#bbff00,#a7ff00,#91ff00,#78ff00)"></i><i style="top:172px;background:linear-gradient(90deg,#e9ff00,#f4ff00,#fcff00,#fffc00,#fff900,#fff800,#fff900,#fffd00,#faff00,#f1ff00,#e6ff00,#d8ff00,#c8ff00,#b5ff00,#a1ff00,#8aff00,#70ff00)"></i><i style="top:174px;background:linear-gradient(90deg,#e9ff00,#f4ff00,#fcff00,#fffd00,#fffa00,#fffa00,#fffc00,#feff00,#f7ff00,#edff00,#e1ff00,#d3ff00,#c2ff00,#b0ff00,#9aff00,#83ff00,#69ff00)"></i><i style="top:176px;background:linear-gradient(90deg,#eaff00,#f4ff00,#fbff00,#fffe00,#fffb00,#fffb00,#fffe00,#fbff00,#f3ff00,#e9ff00,#ddff00,#ceff00,#bdff00,#aaff00,#94ff00,#7cff00,#62ff00)"></i><i style="top:178px;background:linear-gradient(90deg,#eaff00,#f4ff00,#fbff00,#ffff00,#fffd00,#fffd00,#fdff00,#f8ff00,#f0ff00,#e5ff00,#d8ff00,#c9ff00,#b8ff00,#a4ff00,#8dff00,#75ff00,#5aff00)"></i><i style="top:180px;background:linear-gradient(90deg,#ebff00,#f4ff00,#faff00,#feff00,#fffe00,#ffff00,#fbff00,#f5ff00,#ecff00,#e1ff00,#d4ff00,#c4ff00,#b2ff00,#9eff00,#87ff00,#6eff00,#53ff00)"></i><i style="top:182px;background:linear-gradient(90deg,#ebff00,#f4ff00,#faff00,#fdff00,#feff00,#fdff00,#f8ff00,#f2ff00,#e9ff00,#ddff00,#cfff00,#bfff00,#adff00,#98ff00,#80ff00,#67ff00,#4bff00)"></i><i style="top:184px;background:linear-gradient(90deg,#ebff00,#f4ff00,#f9ff00,#fcff00,#fdff00,#faff00,#f6ff00,#efff00,#e5ff00,#d9ff00,#cbff00,#baff00,#a7ff00,#92ff00,#7aff00,#60ff00,#43ff00)"></i><i style="top:186px;background:linear-gradient(90deg,#ecff00,#f3ff00,#f8ff00,#fbff00,#fbff00,#f8ff00,#f3ff00,#ecff00,#e2ff00,#d5ff00,#c6ff00,#b5ff00,#a1ff00,#8bff00,#73ff00,#59ff00,#3cff00)"></i><i style="top:188px;background:linear-gradient(90deg,#ecff00,#f3ff00,#f8ff00,#faff00,#f9ff00,#f6ff00,#f0ff00,#e8ff00,#deff00,#d1ff00,#c2ff00,#b0ff00,#9cff00,#85ff00,#6cff00,#51ff00,#34ff00)"></i><i style="top:190px;background:linear-gradient(90deg,#ecff00,#f3ff00,#f7ff00,#f8ff00,#f7ff00,#f4ff00,#eeff00,#e5ff00,#daff00,#cdff00,#bdff00,#abff00,#96ff00,#7fff00,#66ff00,#4aff00,#2cff00)"></i><i style="top:192px;background:linear-gradient(90deg,#ecff00,#f3ff00,#f6ff00,#f7ff00,#f6ff00,#f2ff00,#ebff00,#e2ff00,#d6ff00,#c8ff00,#b8ff00,#a5ff00,#90ff00,#79ff00,#5fff00,#43ff00,#24ff00)"></i><i style="top:194px;background:linear-gradient(90deg,#edff00,#f2ff00,#f5ff00,#f6ff00,#f4ff00,#efff00,#e8ff00,#dfff00,#d3ff00,#c4ff00,#b3ff00,#a0ff00,#8aff00,#72ff00,#58ff00,#3bff00,#1dff00)"></i><i style="top:196px;background:linear-gradient(90deg,#edff00,#f2ff00,#f4ff00,#f4ff00,#f2ff00,#edff00,#e5ff00,#dbff00,#cfff00,#c0ff00,#aeff00,#9bff00,#84ff00,#6cff00,#51ff00,#34ff00,#15ff00)"></i><i style="top:198px;background:linear-gradient(90deg,#edff00,#f1ff00,#f4ff00,#f3ff00,#f0ff00,#eaff00,#e2ff00,#d8ff00,#cbff00,#bbff00,#a9ff00,#95ff00,#7eff00,#65ff00,#4aff00,#2dff00,#0dff00)"></i><i style="top:200px;background:linear-gradient(90deg,#edff00,#f1ff00,#f3ff00,#f2ff00,#eeff00,#e8ff00,#dfff00,#d4ff00,#c7ff00,#b7ff00,#a4ff00,#90ff00,#79ff00,#5fff00,#43ff00,#25ff00,#05ff00)"></i><i style="top:202px;background:linear-gradient(90deg,#edff00,#f0ff00,#f1ff00,#f0ff00,#ecff00,#e5ff00,#dcff00,#d1ff00,#c3ff00,#b2ff00,#9fff00,#8aff00,#72ff00,#58ff00,#3cff00,#1eff00,#00ff03)"></i><i style="top:204px;background:linear-gradient(90deg,#ecff00,#f0ff00,#f0ff00,#eeff00,#eaff00,#e3ff00,#d9ff00,#cdff00,#bfff00,#aeff00,#9aff00,#85ff00,#6cff00,#52ff00,#35ff00,#16ff00,#00ff0b)"></i><i style="top:206px;background:linear-gradient(90deg,#ecff00,#efff00,#efff00,#edff00,#e8ff00,#e0ff00,#d6ff00,#caff00,#bbff00,#a9ff00,#95ff00,#7fff00,#66ff00,#4bff00,#2eff00,#0eff00,#00ff14)"></i><i style="top:208px;background:linear-gradient(90deg,#ecff00,#eeff00,#eeff00,#ebff00,#e6ff00,#deff00,#d3ff00,#c6ff00,#b6ff00,#a5ff00,#90ff00,#79ff00,#60ff00,#45ff00,#27ff00,#07ff00,#00ff1c)"></i><i style="top:210px;background:linear-gradient(90deg,#ecff00,#eeff00,#edff00,#e9ff00,#e3ff00,#dbff00,#d0ff00,#c2ff00,#b2ff00,#a0ff00,#8bff00,#74ff00,#5aff00,#3eff00,#20ff00,#00ff01,#00ff24)"></i><i style="top:212px;background:linear-gradient(90deg,#ecff00,#edff00,#ecff00,#e8ff00,#e1ff00,#d8ff00,#cdff00,#bfff00,#aeff00,#9bff00,#86ff00,#6eff00,#54ff00,#37ff00,#18ff00,#00ff09,#00ff2c)"></i><i style="top:214px;background:linear-gradient(90deg,#ebff00,#ecff00,#eaff00,#e6ff00,#dfff00,#d5ff00,#c9ff00,#bbff00,#aaff00,#96ff00,#80ff00,#68ff00,#4dff00,#30ff00,#11ff00,#00ff11,#00ff35)"></i><i style="top:216px;background:linear-gradient(90deg,#ebff00,#ebff00,#e9ff00,#e4ff00,#ddff00,#d3ff00,#c6ff00,#b7ff00,#a5ff00,#91ff00,#7bff00,#62ff00,#47ff00,#29ff00,#0aff00,#00ff19,#00ff3d)"></i><i style="top:218px;background:linear-gradient(90deg,#ebff00,#eaff00,#e8ff00,#e2ff00,#daff00,#d0ff00,#c3ff00,#b3ff00,#a1ff00,#8dff00,#76ff00,#5cff00,#41ff00,#23ff00,#02ff00,#00ff21,#00ff45)"></i><i style="top:220px;background:linear-gradient(90deg,#eaff00,#e9ff00,#e6ff00,#e0ff00,#d8ff00,#cdff00,#bfff00,#afff00,#9dff00,#88ff00,#70ff00,#56ff00,#3aff00,#1cff00,#00ff05,#00ff28,#00ff4e)"></i><i style="top:222px;background:linear-gradient(90deg,#eaff00,#e8ff00,#e5ff00,#deff00,#d5ff00,#caff00,#bcff00,#abff00,#98ff00,#83ff00,#6bff00,#50ff00,#34ff00,#15ff00,#00ff0d,#00ff30,#00ff56)"></i><i style="top:224px;background:linear-gradient(90deg,#e9ff00,#e7ff00,#e3ff00,#dcff00,#d3ff00,#c7ff00,#b8ff00,#a7ff00,#94ff00,#7eff00,#65ff00,#4aff00,#2dff00,#0eff00,#00ff14,#00ff39,#00ff5f)"></i><i style="top:226px;background:linear-gradient(90deg,#e8ff00,#e6ff00,#e2ff00,#daff00,#d0ff00,#c4ff00,#b5ff00,#a3ff00,#8fff00,#79ff00,#60ff00,#44ff00,#27ff00,#07ff00,#00ff1c,#00ff41,#00ff68)"></i><i style="top:228px;background:linear-gradient(90deg,#e8ff00,#e5ff00,#e0ff00,#d8ff00,#ceff00,#c1ff00,#b1ff00,#9fff00,#8aff00,#74ff00,#5aff00,#3eff00,#20ff00,#00ff01,#00ff24,#00ff49,#00ff70)"></i><i style="top:230px;background:linear-gradient(90deg,#e7ff00,#e4ff00,#deff00,#d6ff00,#cbff00,#bdff00,#adff00,#9bff00,#86ff00,#6eff00,#54ff00,#38ff00,#19ff00,#00ff08,#00ff2b,#00ff51,#00ff79)"></i><i style="top:232px;background:linear-gradient(90deg,#e6ff00,#e3ff00,#dcff00,#d4ff00,#c8ff00,#baff00,#aaff00,#97ff00,#81ff00,#69ff00,#4fff00,#32ff00,#13ff00,#00ff0f,#00ff33,#00ff59,#00ff82)"></i><i style="top:234px;background:linear-gradient(90deg,#e6ff00,#e1ff00,#dbff00,#d1ff00,#c5ff00,#b7ff00,#a6ff00,#92ff00,#7cff00,#64ff00,#49ff00,#2cff00,#0cff00,#00ff16,#00ff3b,#00ff61,#00ff8b)"></i><i style="top:236px;background:linear-gradient(90deg,#e5ff00,#e0ff00,#d9ff00,#cfff00,#c3ff00,#b4ff00,#a2ff00,#8eff00,#78ff00,#5fff00,#43ff00,#25ff00,#05ff00,#00ff1e,#00ff43,#00ff6a,#00ff93)"></i><i style="top:238px;background:linear-gradient(90deg,#e4ff00,#dfff00,#d7ff00,#cdff00,#c0ff00,#b0ff00,#9eff00,#8aff00,#73ff00,#59ff00,#3dff00,#1fff00,#00ff02,#00ff25,#00ff4a,#00ff72,#00ff9c)"></i></div>
<svg width="685" height="893" viewBox="0 0 685 893"><defs><linearGradient id="leg"><stop offset="0" stop-color="#0000ff"/><stop offset=".5" stop-color="#00ff00"/><stop offset="1" stop-color="#ff0000"/></linearGradient></defs><path d="M119.3,170.1l0.3,1.4 0.3,1.4 0.3,1.6 0.3,1.5 0.3,1.5 0.2,1.8 0.2,1.2 0.3,1.8 0.2,1.8 0.1,1.2 0.2,1.8 0.2,1.8 0.1,1.8 0.1,1.2 0,1.8 0.1,1.8 0,1.7-0,1.8-0.1,1.8-0,1.8-0.1,1.2-0.2,1.8-0.2,1.8-0.2,1.8-0.2,1.2-0.3,1.8-0.2,1.2-0.4,1.8-0.3,1.2-0.4,1.5-0.5,1.5-0.1,0.4M359.1,32l-1.2,-0.6-1.2,-0.6-1.2,-0.6-1.2,-0.7-1.2,-0.6-1.2,-0.6-1.2,-0.6-1.2,-0.7-1.2,-0.6-1.2,-0.6-1.1,-0.6-1.1,-0.6-1.1,-0.6-1,-0.6-1.1,-0.6-1.2,-0.7-1.2,-0.7-1.2,-0.7-1.2,-0.6-1.2,-0.7-1.2,-0.8-1.1,-0.6-1,-0.6-1,-0.6-1,-0.6M119.3,76.1l0.9,0.6 0.9,0.7 1.2,0.9 1.2,0.8 0.8,0.6 1,0.9 1.2,0.9 0.8,0.6 1,0.9 1.2,0.9 0.7,0.6 1.1,1 1,0.8 0.8,0.8 1.2,1 0.6,0.7 1.2,1.1 0.7,0.6 1.1,1.1 0.7,0.7 1.1,1.2 0.7,0.6 1.1,1.2 0.6,0.7 1.1,1.1 0.7,0.9 0.9,0.9 0.9,1.1 0.6,0.7 1.1,1.2 0.7,1 0.7,0.8 1,1.2 0.8,1 0.6,0.8 0.9,1.2 0.8,1.2 0.7,0.9 0.6,0.9 0.9,1.2 0.8,1.2 0.7,1 0.6,0.9 0.7,1.1 0.8,1.2 0.7,1.2 0.8,1.2 0.6,1 0.6,1 0.6,1 0.7,1.2 0.6,1.2 0.7,1.2 0.7,1.2 0.7,1.2 0.6,1.2 0.6,1.2 0.7,1.2 0.6,1.2 0.6,1.2 0.6,1.2 0.6,1.2 0.6,1.2 0.6,1.2 0.6,1.2 0.6,1.2 0.5,1.2 0.6,1.2 0.6,1.2 0.5,1.2 0.6,1.2 0.5,1.2 0.6,1.2 0.5,1.2 0.6,1.2 0.5,1.2 0.6,1.4 0.6,1.3 0.6,1.4 0.6,1.3 0.5,1.2 0.5,1.2 0.5,1.2 0.6,1.2 0.5,1.2 0.5,1.2 0.5,1.2 0.6,1.3 0.6,1.4 0.6,1.4 0.6,1.3 0.5,1.2 0.6,1.2 0.5,1.2 0.5,1.2 0.6,1.2 0.5,1.2 0.6,1.2 0.5,1.2 0.6,1.2 0.5,1.2 0.6,1.2 0.6,1.2 0.6,1.3 0.6,1.2 0.6,1.2 0.6,1.2 0.6,1.2 0.6,1.1 0.6,1.1 0.7,1.2 0.6,1.2 0.7,1.2 0.7,1.2 0.7,1.2 0.7,1.2 0.7,1.2 0.6,1.1 0.6,0.9 0.7,1 0.8,1.2 0.8,1.2 0.7,1.2 0.6,0.8 0.8,1 0.8,1.2 0.8,1.1 0.7,0.8 0.9,1.1 0.9,1.1 0.6,0.7 1,1.2 0.8,0.9 0.8,0.9 1,1.1 0.7,0.7 1.1,1.1 0.7,0.7 1.1,1 0.8,0.8 1,0.9 1,0.9 0.8,0.6 1.2,1 1,0.8 0.8,0.6 1.2,0.9 1.2,0.9 0.8,0.6 1,0.7 1.2,0.8 1.2,0.7 1.2,0.8 1,0.6 1.1,0.6 1,0.6 1.1,0.6 1.2,0.7 1.2,0.6 1.2,0.6 1.2,0.6 1.2,0.6 1.2,0.5 1.4,0.6 1.4,0.6 1.4,0.6 1.2,0.5 1.2,0.5 1.2,0.4 1.2,0.5 1.5,0.5 1.5,0.6 1.2,0.4 1.2,0.4 1.4,0.4 1.6,0.5 1.2,0.4 1.2,0.3 1.8,0.5 1.2,0.4 1.2,0.3 1.9,0.5 1.2,0.3 1.6,0.4 1.4,0.3 1.2,0.3 1.8,0.4 1.2,0.3 1.8,0.4 1.2,0.3 1.8,0.3 0.3,0.1M359.1,57.4l-1.2,-0.5-1.5,-0.5-1.5,-0.6-1.2,-0.5-1.2,-0.5-1.2,-0.5-1.2,-0.5-1.2,-0.5-1.3,-0.5-1.5,-0.6-1.4,-0.6-1.2,-0.5-1.2,-0.6-1.2,-0.5-1.2,-0.5-1.2,-0.5-1.2,-0.5-1.2,-0.6-1.3,-0.5-1.3,-0.6-1.3,-0.6-1.3,-0.6-1.3,-0.6-1.3,-0.6-1.3,-0.6-1.2,-0.6-1.2,-0.6-1.2,-0.5-1.2,-0.6-1.2,-0.6-1.2,-0.6-1.2,-0.6-1.2,-0.6-1.2,-0.7-1.2,-0.6-1.1,-0.6-1.2,-0.6-1.1,-0.6-1.1,-0.6-1.1,-0.6-1,-0.6-1.2,-0.7-1.2,-0.6-1.2,-0.7-1.2,-0.8-1.2,-0.7-1.2,-0.7-1,-0.6-1,-0.6-1,-0.7-1.2,-0.7-1.2,-0.8-1.2,-0.8-0.9,-0.6-0.9,-0.6-1.2,-0.8-1.2,-0.9-1.1,-0.7-0.8,-0.6-1.1,-0.8-1.2,-0.9-0.9,-0.7-0.9,-0.7-1.2,-0.9-1,-0.8-0.8,-0.6M359.1,91.6l-1.8,-0.4-1.2,-0.2-1.8,-0.4-1.2,-0.3-1.8,-0.3-1.2,-0.3-1.8,-0.4-1.2,-0.2-1.7,-0.4-1.3,-0.2-1.6,-0.4-1.4,-0.2-1.6,-0.4-1.4,-0.2-1.6,-0.4-1.4,-0.2-1.7,-0.4-1.3,-0.2-1.8,-0.4-1.3,-0.2-1.8,-0.3-1.2,-0.2-1.8,-0.4-1.2,-0.2-1.8,-0.3-1.2,-0.2-1.8,-0.3-1.3,-0.3-1.7,-0.2-1.8,-0.3-1.2,-0.2-1.8,-0.3-1.2,-0.2-1.8,-0.3-1.8,-0.3-1.2,-0.1-1.8,-0.3-1.3,-0.2-1.7,-0.2-1.8,-0.2-1.2,-0.2-1.8,-0.2-1.8,-0.2-1.8,-0.2-1.2,-0.1-1.8,-0.1-1.8,-0.2-1.8,-0.1-1.2,-0.1-1.8,-0.1-1.8,-0-1.8,-0.1-1.8,0-1.8,0-1.8,0.1-1.8,0.1-1.2,0.1-1.9,0.2-1.8,0.2-1.2,0.2-1.8,0.4-1.2,0.3-1.5,0.4-1.5,0.6-1.2,0.5-1.2,0.6-1.2,0.7-1,0.6-0.8,0.7-1.2,1-0.7,0.7-1,1.2-0.7,1-0.6,1-0.6,1.1-0.6,1.3-0.6,1.5-0.4,1.3-0.3,1.2-0.4,1.8-0.3,1.2-0.2,1.8-0.2,1.8-0.1,1.2-0,1.8-0.1,1.8 0.1,1.8 0,1.8 0.1,1.7 0.1,1.3 0.2,1.8 0.2,1.8 0.1,1.2 0.3,1.8 0.3,1.8 0.2,1.2 0.3,1.8 0.2,1.2 0.4,1.8 0.2,1.2 0.5,1.8 0.2,1.2 0.4,1.5 0.4,1.5 0.3,1.2 0.5,1.7 0.4,1.3 0.4,1.2 0.4,1.4 0.6,1.6 0.4,1.2 0.4,1.2 0.4,1.2 0.6,1.6 0.6,1.4 0.4,1.2 0.5,1.2 0.5,1.2 0.5,1.2 0.6,1.2 0.5,1.2 0.6,1.3 0.6,1.2 0.6,1.2 0.6,1.2 0.6,1.2 0.6,1.1 0.7,1.2 0.7,1.2 0.6,1.2 0.8,1.2 0.7,1.2 0.7,1.2 0.6,0.9 0.6,0.9 0.8,1.2 0.8,1.2 0.8,1.1 0.7,0.9 0.7,1 0.9,1.2 0.8,0.9 0.6,0.9 1,1.2 0.8,0.9 0.7,0.9 1,1.2 0.7,0.6 1,1.2 0.8,0.8 0.9,1 0.9,0.8 0.9,1 0.9,0.8 1,1 0.8,0.7 1.1,1.1 0.7,0.5 1.2,1.1 0.9,0.7 0.9,0.8 1.2,1 0.9,0.6 0.9,0.8 1.2,0.9 1,0.7 0.9,0.6 1.1,0.8 1.2,0.9 1.2,0.7 0.9,0.6 0.9,0.6 1.2,0.8 1.2,0.7 1.2,0.8 1.2,0.7 1.2,0.6 1,0.6 1.1,0.6 1.1,0.6 1.2,0.6 1.1,0.6 1.2,0.6 1.2,0.6 1.3,0.6 1.2,0.6 1.3,0.6 1.3,0.6 1.4,0.6 1.2,0.6 1.2,0.5 1.2,0.5 1.2,0.5 1.2,0.5 1.3,0.4 1.5,0.6 1.5,0.6 1.2,0.4 1.2,0.4 1.2,0.5 1.6,0.5 1.4,0.5 1.2,0.4 1.2,0.4 1.7,0.5 1.3,0.4 1.2,0.4 1.5,0.4 1.5,0.5 1.2,0.3 1.5,0.4 1.5,0.4 1.2,0.4 1.8,0.4 1.2,0.3 1.2,0.3 1.8,0.5 0.6,0.1M119.3,28.8l1.2,0.2 1.8,0.2 1.2,0.2 1.8,0.3 1.8,0.2 1.2,0.2 1.8,0.3 1.6,0.2 1.4,0.2 1.8,0.2 1.2,0.2 1.8,0.2 1.8,0.3 1.2,0.1 1.8,0.2 1.8,0.2 1.4,0.2 1.6,0.2 1.9,0.2 1.8,0.1 1.2,0.2 1.8,0.1 1.8,0.2 1.8,0.1 1.2,0.1 1.8,0.1 1.8,0.1 1.8,0.1 1.8,0.1 1.8,0 1.8,0.1 1.8,-0 1.8,-0.1 1.8,-0 1.8,-0.1 1.8,-0.2 1.3,-0.1 1.7,-0.2 1.8,-0.3 1.2,-0.3 1.8,-0.4 1.2,-0.3 1.2,-0.4 1.4,-0.5 1.4,-0.6 1.2,-0.6 1.1,-0.6 0.9,-0.6 1.2,-0.9 1.1,-0.9 0.7,-0.7 1.1,-1.1 0.7,-0.9 0.7,-0.9 0.8,-1.2 0.6,-1.2 0.7,-1.2 0.5,-1.2 0.5,-1.2 0.5,-1.2-0,-0" fill="none" stroke="#000" stroke-opacity="0.72" stroke-width="0.9"/>
<rect x="164" y="30.3" width="8" height="5.4" fill="#fff" stroke="#8a8a8a" stroke-width="0.6"/>
<text x="168" y="34.3" font-size="3.6" fill="#777" text-anchor="middle">90</text>
<rect x="184.5" y="175.3" width="8" height="5.4" fill="#fff" stroke="#8a8a8a" stroke-width="0.6"/>
<text x="188.5" y="179.3" font-size="3.6" fill="#777" text-anchor="middle">88</text>
<rect x="313" y="34.7" width="8" height="5.4" fill="#fff" stroke="#8a8a8a" stroke-width="0.6"/>
<text x="317" y="38.7" font-size="3.6" fill="#777" text-anchor="middle">88</text>
<rect x="339.6" y="20" width="8" height="5.4" fill="#fff" stroke="#8a8a8a" stroke-width="0.6"/>
<text x="343.6" y="24" font-size="3.6" fill="#777" text-anchor="middle">86</text>
<rect x="246.9" y="136.5" width="8" height="5.4" fill="#fff" stroke="#8a8a8a" stroke-width="0.6"/>
<text x="250.9" y="140.5" font-size="3.6" fill="#777" text-anchor="middle">90</text>
<rect x="119.3" y="16.2" width="239.8" height="239.2" fill="none" stroke="#7a7a7a" stroke-width="0.9"/>
<circle cx="239.2" cy="135.8" r="2.7" fill="#b00010" stroke="#6a0000" stroke-width="0.5"/>
<text x="233.7" y="137" font-size="3.5" fill="#a04040" text-anchor="middle">6</text>
<line x1="338.4" y1="147.2" x2="359" y2="160" stroke="#9a9a92" stroke-width="1"/>
<circle cx="359" cy="160" r="1.2" fill="#a0a89a"/>
<rect x="271.6" y="120.6" width="66.8" height="26.8" fill="#fff" stroke="#777" stroke-width="0.8"/>
<text x="305" y="130.6" font-size="11" fill="#333" text-anchor="middle">Prediction:</text>
<text x="305" y="144.6" font-size="11" fill="#333" text-anchor="middle">91.6262</text>
<path d="M119.3,472.4l0.6,1.2 0.6,1.1 0.6,1.1 0.6,1.1 0.6,1.1 0.7,1.2 0.7,1.2 0.8,1.2 0.7,1.2 0.7,1 0.6,0.9 0.7,1.1 0.9,1.2 0.8,1.2 0.6,0.8 0.7,1 1,1.2 0.7,0.9 0.7,0.9 1,1.1 0.7,1 0.8,0.8 1,1.2 0.6,0.8 1,1 0.8,0.9 0.9,0.9 0.9,1 0.8,0.8 1,1.1 0.8,0.7 1,1 0.9,0.8 0.9,0.9 1,0.9 0.8,0.8 1.2,1 0.7,0.6 1.2,1 1,0.8 0.8,0.7 1.2,1 0.9,0.7 0.9,0.7 1.2,0.9 1,0.8 0.8,0.6 1.2,0.9 1.2,0.9 0.9,0.6 0.9,0.6 1.2,0.9 1.2,0.8 1.1,0.7 0.9,0.6 1,0.7 1.2,0.8 1.2,0.7 1.2,0.8 1.1,0.6 1,0.6 1,0.6 1.1,0.7 1.2,0.7 1.2,0.7 1.2,0.6 1.2,0.7 1.2,0.6 1.2,0.7 1.2,0.6 1.2,0.7 1.2,0.6 1.2,0.6 1.2,0.6 1.2,0.6 1.2,0.6 1.2,0.5 1.2,0.6 1.2,0.6 1.2,0.5 1.2,0.5 1.2,0.6 1.2,0.5 1.2,0.5 1.2,0.6 1.3,0.5 1.5,0.6 1.4,0.6 1.2,0.5 1.2,0.5 1.3,0.5 1.2,0.4 1.2,0.5 1.6,0.6 1.4,0.5 1.2,0.5 1.2,0.4 1.2,0.4 1.6,0.6 1.4,0.5 1.2,0.4 1.2,0.4 1.5,0.5 1.5,0.5 1.2,0.4 1.2,0.4 1.6,0.5 1.4,0.4 0.6,0.2M130,314.3l-0.5,1.2-0.6,1.3-0.6,1.4-0.6,1.4-0.5,1.3-0.5,1.2-0.5,1.2-0.5,1.2-0.5,1.2-0.5,1.3-0.6,1.5-0.5,1.4-0.5,1.2-0.4,1.2-0.5,1.2-0.5,1.4-0.6,1.6-0.4,1.2-0.4,1.2-0.4,1.2-0.6,1.6-0,0M175.8,314.3l-0.5,1.2-0.4,1.2-0.5,1.2-0.4,1.2-0.6,1.6-0.5,1.4-0.4,1.2-0.5,1.2-0.4,1.3-0.6,1.7-0.4,1.2-0.4,1.2-0.4,1.4-0.5,1.6-0.4,1.2-0.3,1.2-0.5,1.8-0.4,1.2-0.3,1.2-0.5,1.8-0.3,1.2-0.4,1.7-0.3,1.3-0.3,1.2-0.4,1.8-0.3,1.2-0.4,1.8-0.2,1.2-0.4,1.8-0.2,1.2-0.4,1.8-0.2,1.2-0.3,1.8-0.2,1.5-0.2,1.5-0.3,1.8-0.1,1.2-0.3,1.8-0.2,1.8-0.1,1.5-0.2,1.5-0.1,1.7-0.2,1.8-0.1,1.8-0,1.3-0.1,1.7-0.1,1.8 0,1.8-0,1.8-0,1.8 0,1.8 0.1,1.8 0,1.8 0.1,1.2 0.1,1.8 0.2,1.8 0.1,1.8 0.2,1.6 0.1,1.4 0.3,1.8 0.2,1.6 0.2,1.4 0.3,1.8 0.2,1.2 0.3,1.8 0.3,1.2 0.4,1.8 0.2,1.2 0.5,1.8 0.3,1.2 0.3,1.2 0.5,1.8 0.4,1.2 0.3,1.2 0.6,1.7 0.4,1.3 0.4,1.2 0.5,1.2 0.5,1.4 0.6,1.5 0.5,1.3 0.5,1.2 0.5,1.2 0.6,1.2 0.5,1.2 0.6,1.2 0.6,1.2 0.6,1.2 0.6,1.2 0.7,1.2 0.6,1.2 0.7,1.2 0.7,1.2 0.7,1.1 0.6,1 0.6,1 0.7,1.1 0.8,1.2 0.8,1.2 0.7,0.9 0.6,0.9 0.9,1.2 0.9,1.2 0.6,0.8 0.8,1 0.9,1.2 0.7,0.8 0.8,1 1,1.2 0.6,0.7 1,1.1 0.8,0.9 0.9,0.9 0.9,1 0.8,0.8 1,1.1 0.7,0.7 1.1,1 0.8,0.8 1,0.9 0.9,0.9 0.9,0.8 1.1,1 0.7,0.6 1.2,1 0.9,0.8 0.9,0.7 1.2,1 0.8,0.7 1,0.8 1.3,0.9 0.8,0.7 1,0.7 1.2,0.8 1.1,0.9 0.8,0.6 1.1,0.7 1.2,0.8 1.2,0.8 0.9,0.7 0.9,0.6 1.2,0.7 1.2,0.7 1.2,0.8 1.2,0.7 1,0.6 1,0.6 1.1,0.6 1.1,0.7 1.2,0.7 1.2,0.6 1.2,0.7 1.2,0.6 1.2,0.7 1.2,0.6 1.2,0.6 1.2,0.6 1.2,0.6 1.2,0.6 1.2,0.6 1.2,0.6 1.2,0.5 1.2,0.6 1.2,0.5 1.2,0.6 1.2,0.5 1.3,0.5 1.4,0.6 1.5,0.6 1.2,0.6 1.2,0.4 1.2,0.5 1.2,0.5 1.2,0.5 1.6,0.5 1.4,0.6 1.2,0.4 1.2,0.4 1.2,0.5 1.6,0.5 1.4,0.5 1.3,0.4 1.2,0.4 1.5,0.5 1.5,0.5 1.2,0.4 1.2,0.3 1.8,0.6 1.2,0.3 1.2,0.4 1.8,0.5 1.2,0.3 1.2,0.4 1.8,0.5 1.2,0.3 1.3,0.3 1.7,0.5 1.2,0.3 1.8,0.4 1.2,0.3 1.4,0.3 1.6,0.4 1.2,0.3 1.8,0.4 1.2,0.2 1.8,0.4 1.2,0.3 1.8,0.3 1.2,0.3 1.8,0.3 1.2,0.3 1.8,0.3 1.2,0.2 1.8,0.3 1.2,0.2 1.8,0.3 1.8,0.3 1.2,0.2 1.8,0.3 1.2,0.2 1.8,0.2 1.8,0.3 1.3,0.2 1.8,0.2 1.8,0.2 1.2,0.2 1.8,0.2 1.8,0.2 1.2,0.1 1.8,0.2 1.8,0.2 1.3,0.1 1.7,0.2 1.8,0.1 1.8,0.2 1.7,0.1 1.3,0.1 1.8,0.1 1.8,0.2 1.8,0.1 0.6,0M231.7,314.3l-0.6,1.7-0.5,1.3-0.4,1.2-0.3,1.2-0.6,1.8-0.4,1.2-0.3,1.2-0.5,1.7-0.4,1.3-0.3,1.2-0.4,1.8-0.3,1.2-0.4,1.6-0.3,1.4-0.3,1.3-0.4,1.7-0.2,1.3-0.3,1.7-0.3,1.7-0.2,1.3-0.3,1.8-0.2,1.2-0.2,1.8-0.2,1.8-0.1,1.2-0.2,1.8-0.1,1.8-0.2,1.8-0,1.8-0.1,1.8-0,1.2-0.1,1.8 0,1.8 0.1,1.7 0,1.3 0.1,1.8 0.1,1.8 0.1,1.8 0.2,1.7 0.1,1.2 0.2,1.8 0.3,1.8 0.1,1.2 0.3,1.8 0.3,1.5 0.3,1.5 0.3,1.5 0.3,1.5 0.3,1.2 0.5,1.8 0.3,1.2 0.4,1.4 0.5,1.6 0.3,1.2 0.4,1.2 0.6,1.6 0.5,1.4 0.4,1.2 0.5,1.2 0.5,1.2 0.5,1.2 0.6,1.3 0.6,1.3 0.6,1.3 0.6,1.2 0.6,1.2 0.6,1.1 0.6,1.1 0.6,1.1 0.7,1.2 0.7,1.2 0.8,1.2 0.7,1.2 0.7,1.1 0.6,0.9 0.7,1 0.9,1.2 0.8,1.1 0.6,0.9 0.8,1 1,1.2 0.6,0.8 0.8,1 1,1.2 0.6,0.7 1,1.1 0.8,0.9 0.9,0.9 0.9,1 0.8,0.8 1,1 0.8,0.8 1,1 0.9,0.8 0.9,0.9 1.1,0.9 0.7,0.7 1.2,1 0.8,0.7 1,0.8 1.2,1 0.8,0.6 1,0.8 1.2,0.9 1,0.7 0.8,0.6 1.2,0.9 1.3,0.8 0.9,0.7 0.9,0.6 1.2,0.8 1.2,0.7 1.2,0.8 1,0.7 1,0.6 1,0.6 1.2,0.6 1.2,0.7 1.2,0.7 1.2,0.7 1.2,0.6 1.2,0.7 1.2,0.6 1.2,0.6 1.2,0.6 1.2,0.6 1.2,0.6 1.2,0.5 1.2,0.6 1.2,0.5 1.2,0.5 1.2,0.6 1.2,0.5 1.5,0.6 1.5,0.6 1.2,0.5 1.2,0.4 1.2,0.5 1.2,0.4 1.5,0.6 1.5,0.5 1.2,0.4 1.2,0.4 1.4,0.5 1.6,0.5 1.2,0.4 1.2,0.3 1.8,0.6 1.2,0.3 1.2,0.4 1.8,0.5 1.2,0.3 1.2,0.3 1.8,0.5 1.2,0.2 1.8,0.5 1.3,0.3 1.3,0.3 1.7,0.3 1.2,0.3 1.8,0.3 1.2,0.3 1.8,0.3 1.3,0.3 1.7,0.3 1.7,0.3 1.3,0.2 1.8,0.2 1.2,0.2 1.8,0.3 1.8,0.2 1.2,0.2 1.8,0.2 1.8,0.2 0.6,0.1M315.7,314.3l-0.5,1.2-0.6,1.6-0.4,1.4-0.4,1.2-0.4,1.2-0.5,1.8-0.3,1.2-0.4,1.5-0.3,1.5-0.3,1.3-0.3,1.7-0.2,1.8-0.2,1.2-0.2,1.8-0.2,1.8-0.1,1.8-0,1.2-0,1.8-0,1.8 0,1.2 0.1,1.8 0.2,1.8 0.2,1.8 0.2,1.2 0.2,1.8 0.3,1.4 0.4,1.6 0.2,1.2 0.5,1.8 0.4,1.2 0.4,1.2 0.5,1.6 0.5,1.4 0.5,1.2 0.5,1.2 0.6,1.2 0.6,1.2 0.6,1.2 0.6,1.2 0.7,1.2 0.7,1.2 0.7,1.1 0.6,0.9 0.7,0.9 0.8,1.2 0.9,1.2 0.6,0.8 0.9,1 0.9,1.2 0.6,0.7 1.1,1.1 0.7,0.8 1,1 0.9,0.8 1,1 0.8,0.7 1.2,1 0.8,0.7 1,0.8 1.2,0.9 0.9,0.7 0.9,0.7 1.2,0.8 1.2,0.8 1.1,0.7 1,0.6 0.9,0.6 1.2,0.7 1.2,0.7 1.2,0.6 1.2,0.6 1.2,0.6 1.2,0.6 1.2,0.5 1.2,0.6 1.4,0.5 1.5,0.6 1.3,0.5 1.2,0.5 1.2,0.4 0,-0" fill="none" stroke="#000" stroke-opacity="0.72" stroke-width="0.9"/>
<rect x="121.5" y="320.9" width="8" height="5.4" fill="#fff" stroke="#8a8a8a" stroke-width="0.6"/>
<text x="125.5" y="324.9" font-size="3.6" fill="#777" text-anchor="middle">86</text>
<rect x="195.6" y="473.7" width="8" height="5.4" fill="#fff" stroke="#8a8a8a" stroke-width="0.6"/>
<text x="199.6" y="477.7" font-size="3.6" fill="#777" text-anchor="middle">88</text>
<rect x="245.5" y="429.3" width="8" height="5.4" fill="#fff" stroke="#8a8a8a" stroke-width="0.6"/>
<text x="249.5" y="433.3" font-size="3.6" fill="#777" text-anchor="middle">90</text>
<rect x="316" y="367.3" width="8" height="5.4" fill="#fff" stroke="#8a8a8a" stroke-width="0.6"/>
<text x="320" y="371.3" font-size="3.6" fill="#777" text-anchor="middle">92</text>
<rect x="160.9" y="518.5" width="8" height="5.4" fill="#fff" stroke="#8a8a8a" stroke-width="0.6"/>
<text x="164.9" y="522.5" font-size="3.6" fill="#777" text-anchor="middle">86</text>
<rect x="119.3" y="314.3" width="239.8" height="239.2" fill="none" stroke="#7a7a7a" stroke-width="0.9"/>
<circle cx="239.2" cy="433.9" r="2.7" fill="#b00010" stroke="#6a0000" stroke-width="0.5"/>
<text x="233.7" y="435.1" font-size="3.5" fill="#a04040" text-anchor="middle">6</text>
<line x1="321.3" y1="347.3" x2="354.1" y2="334.1" stroke="#9a9a92" stroke-width="1"/>
<circle cx="354.1" cy="334.1" r="1.2" fill="#a0a89a"/>
<rect x="253.9" y="337.7" width="67.1" height="25.7" fill="#fff" stroke="#777" stroke-width="0.8"/>
<text x="287.4" y="347.7" font-size="11" fill="#333" text-anchor="middle">Prediction:</text>
<text x="287.4" y="361.7" font-size="11" fill="#333" text-anchor="middle">92.545</text>
<path d="M344,852.4l0.9,-0.6 1,-0.6 1.2,-0.8 1.2,-0.8 1.2,-0.8 1,-0.6 0.9,-0.6 1.1,-0.7 1.2,-0.8 1.2,-0.7 1.2,-0.8 1,-0.6 0.9,-0.6 1.1,-0.7 0,0M299,852.4l1.2,-0.8 1.2,-0.8 1.2,-0.8 1,-0.6 0.9,-0.6 1.1,-0.7 1.2,-0.8 1.2,-0.8 1.2,-0.7 0.9,-0.6 0.9,-0.6 1.2,-0.8 1.2,-0.7 1.2,-0.8 1.2,-0.7 0.9,-0.6 1,-0.6 1.1,-0.7 1.2,-0.8 1.2,-0.7 1.2,-0.8 1.1,-0.6 1,-0.6 0.9,-0.6 1.2,-0.7 1.2,-0.8 1.2,-0.7 1.3,-0.7 1.1,-0.7 1,-0.6 1,-0.6 1.1,-0.7 1.2,-0.7 1.2,-0.7 1.2,-0.7 1.2,-0.7 1.1,-0.7 1.1,-0.6 1,-0.6 1,-0.6 1.2,-0.7 1.2,-0.7 1.2,-0.7 1.2,-0.7 1.2,-0.7 1.2,-0.7 1.1,-0.6 1.1,-0.6 1,-0.6 1.1,-0.6 1.1,-0.6 1.2,-0.7 1.2,-0.7 0.6,-0.3M120.9,612.9l-0.8,1.2-0.8,1.1-0,0M241.6,852.4l0.9,-0.6 1.2,-0.8 1.2,-0.8 1.2,-0.8 0.9,-0.6 1,-0.6 1.1,-0.8 1.2,-0.7 1.2,-0.8 1.1,-0.7 0.9,-0.6 1,-0.6 1.2,-0.8 1.2,-0.8 1.2,-0.7 1.1,-0.7 1,-0.6 0.9,-0.6 1.2,-0.7 1.2,-0.8 1.2,-0.7 1.2,-0.8 1.1,-0.6 1,-0.6 1,-0.6 1.2,-0.7 1.2,-0.8 1.2,-0.7 1.2,-0.7 1.2,-0.7 1,-0.6 1,-0.6 1,-0.6 1.2,-0.7 1.2,-0.7 1.2,-0.7 1.2,-0.7 1.2,-0.7 1.2,-0.7 1.1,-0.6 1,-0.6 1.1,-0.6 1,-0.6 1.2,-0.7 1.2,-0.7 1.2,-0.6 1.2,-0.7 1.2,-0.7 1.2,-0.7 1.2,-0.6 1.2,-0.7 1.1,-0.6 1.1,-0.6 1.1,-0.6 1.1,-0.6 1.1,-0.6 1.1,-0.6 1.2,-0.7 1.2,-0.6 1.2,-0.7 1.2,-0.6 1.2,-0.7 1.2,-0.6 1.2,-0.7 1.2,-0.6 1.2,-0.6 1.2,-0.7 1.2,-0.6 1.2,-0.6 1.2,-0.7 1.2,-0.6 1.2,-0.6 1.2,-0.6 1.2,-0.6 1.1,-0.6 1.2,-0.6 1.2,-0.6 1.1,-0.6 1.2,-0.6 1.2,-0.6 1.2,-0.6 1.2,-0.6 1.2,-0.6 1.2,-0.6 1.1,-0.6 1.2,-0.6 1.2,-0.6 1.3,-0.6 1.2,-0.6 1.2,-0.6 1.2,-0.6 1.2,-0.6 1.2,-0.6 1.3,-0.6 1.2,-0.6 1.2,-0.6 1.2,-0.6 1.3,-0.6 1.2,-0.6 1.3,-0.6 1.2,-0.6 0.6,-0.3M153.9,612.9l-0.7,1.2-0.7,1.2-0.7,1.1-0.6,1-0.6,1-0.7,1.1-0.8,1.2-0.7,1.2-0.8,1.2-0.7,1.1-0.6,1-0.6,0.9-0.7,1.2-0.7,1.2-0.8,1.2-0.7,1.2-0.7,1-0.6,1-0.6,1-0.8,1.2-0.7,1.2-0.8,1.2-0.7,1.1-0.6,1-0.6,0.9-0.7,1.2-0.8,1.2-0.7,1.2-0.8,1.2-0.6,0.9-0.6,1-0.7,1.1-0.8,1.2-0.8,1.2-0.7,1.2-0.6,0.9-0.6,0.9-0.8,1.2-0.7,1.2-0.8,1.2-0.7,1.1-0.6,0.9-0.6,1-0.8,1.2-0.8,1.2-0.8,1.2-0.6,1-0.6,0.9-0.7,1.1-0.5,0.7M134.1,852.4l1,-0.6 1,-0.6 1.2,-0.8 1.2,-0.7 1.2,-0.7 1.2,-0.7 1.2,-0.7 1,-0.6 1.1,-0.6 1,-0.6 1.1,-0.6 1.2,-0.7 1.2,-0.7 1.3,-0.6 1.2,-0.7 1.2,-0.6 1.2,-0.7 1.2,-0.6 1.2,-0.7 1.2,-0.6 1.2,-0.6 1.2,-0.7 1.2,-0.6 1.2,-0.6 1.2,-0.6 1.2,-0.6 1.2,-0.6 1.1,-0.6 1.2,-0.6 1.3,-0.6 1.2,-0.6 1.2,-0.6 1.2,-0.6 1.2,-0.6 1.2,-0.6 1.2,-0.5 1.2,-0.6 1.2,-0.6 1.2,-0.6 1.2,-0.6 1.2,-0.5 1.2,-0.6 1.2,-0.6 1.2,-0.5 1.2,-0.6 1.2,-0.5 1.2,-0.6 1.2,-0.6 1.2,-0.5 1.2,-0.6 1.2,-0.5 1.3,-0.6 1.4,-0.6 1.3,-0.6 1.3,-0.6 1.3,-0.6 1.2,-0.6 1.2,-0.5 1.2,-0.5 1.2,-0.6 1.2,-0.5 1.2,-0.5 1.3,-0.6 1.2,-0.5 1.2,-0.5 1.3,-0.6 1.4,-0.6 1.3,-0.6 1.4,-0.6 1.2,-0.5 1.2,-0.5 1.2,-0.6 1.2,-0.5 1.2,-0.5 1.2,-0.5 1.2,-0.5 1.3,-0.6 1.4,-0.6 1.4,-0.6 1.3,-0.6 1.2,-0.5 1.2,-0.5 1.2,-0.5 1.2,-0.5 1.2,-0.5 1.2,-0.5 1.5,-0.6 1.4,-0.6 1.3,-0.6 1.2,-0.5 1.2,-0.5 1.2,-0.5 1.2,-0.5 1.2,-0.5 1.3,-0.5 1.5,-0.6 1.4,-0.6 1.2,-0.5 1.2,-0.5 1.2,-0.5 1.2,-0.5 1.2,-0.5 1.3,-0.5 1.5,-0.6 1.4,-0.6 1.2,-0.5 1.2,-0.5 1.2,-0.5 1.2,-0.5 1.2,-0.5 1.4,-0.5 1.5,-0.6 1.4,-0.6 1.2,-0.5 1.2,-0.4 1.2,-0.5 1.2,-0.5 1.3,-0.5 1.5,-0.6 1.4,-0.6 1.2,-0.5 1.2,-0.5 1.2,-0.4 1.2,-0.5 1.3,-0.5 1.5,-0.6 1.4,-0.6 1.2,-0.5 1.2,-0.4 1.2,-0.5 1.2,-0.5 1.4,-0.5 1.5,-0.6 1.3,-0.5 1.2,-0.5 1.2,-0.5 1.2,-0.4 1.3,-0.5 1.5,-0.6 1.4,-0.6 1.2,-0.5 1.2,-0.4 1.2,-0.5 1.2,-0.5 1.5,-0.5 1.5,-0.6 1.2,-0.5 1.2,-0.4 1.2,-0.5 1.2,-0.5 1.5,-0.5 1.5,-0.6 1.2,-0.5 1.2,-0.4 1.2,-0.5 1.2,-0.5 1.5,-0.5 1.6,-0.6 1.2,-0.5 1.2,-0.4 1.2,-0.5 1.2,-0.4 1.5,-0.6 1.5,-0.6 1.2,-0.4 1.2,-0.5 1.2,-0.4 1.3,-0.5 1.6,-0.6 1.3,-0.5 1.2,-0.5 1.2,-0.4 1.2,-0.5 1.5,-0.5 1.5,-0.6 1.2,-0.4 1.2,-0.5 1.2,-0.4 1.3,-0.5 0.5,-0.2M191.1,612.9l-0.6,1.2-0.6,1.2-0.6,1.2-0.6,1.2-0.5,1.2-0.6,1.2-0.6,1.2-0.6,1.2-0.6,1.2-0.6,1.2-0.6,1.2-0.5,1.2-0.6,1.2-0.6,1.2-0.6,1.2-0.6,1.2-0.6,1.2-0.5,1.2-0.6,1.2-0.6,1.2-0.6,1.3-0.6,1.2-0.6,1.3-0.6,1.2-0.6,1.2-0.6,1.3-0.6,1.2-0.6,1.3-0.6,1.2-0.6,1.3-0.6,1.2-0.6,1.3-0.6,1.2-0.6,1.2-0.5,1.2-0.6,1.2-0.6,1.2-0.6,1.2-0.5,1.2-0.6,1.2-0.6,1.2-0.6,1.2-0.5,1.2-0.6,1.2-0.6,1.2-0.6,1.2-0.5,1.2-0.6,1.2-0.6,1.2-0.5,1.2-0.6,1.2-0.6,1.2-0.5,1.2-0.6,1.3-0.6,1.2-0.6,1.3-0.6,1.3-0.6,1.2-0.6,1.3-0.6,1.3-0.6,1.3-0.6,1.2-0.6,1.2-0.6,1.2-0.5,1.2-0.6,1.2-0.6,1.2-0.5,1.2-0.6,1.2-0.6,1.2-0.5,1.2-0.6,1.2-0.6,1.2-0.5,1.2-0.6,1.2-0.6,1.2-0.5,1.2-0.6,1.2-0.6,1.2-0.6,1.3-0.6,1.3-0.6,1.3-0.6,1.2-0.6,1.3-0.6,1.3-0.6,1.3-0.6,1.2-0.5,1.2-0.6,1.2-0.6,1.2-0.5,1.2-0.6,1.2-0.6,1.2-0.5,1.2-0.6,1.2-0.6,1.2-0.5,1.2-0.6,1.2-0.6,1.3-0.5,1.2-0.6,1.2-0.6,1.2-0.5,1.2-0.6,1.2-0.6,1.2-0.6,1.3-0.6,1.2-0.6,1.3-0.6,1.3-0.6,1.2-0.6,1.3-0.6,1.3-0.6,1.2-0.6,1.3-0.6,1.2-0.5,1.2-0.6,1.2-0.6,1.2-0.6,1.2-0.5,1.2-0.6,1.2-0.6,1.2-0.6,1.2-0.2,0.4M234.3,612.9l-0.4,1.2-0.4,1.6-0.4,1.4-0.3,1.2-0.5,1.7-0.4,1.3-0.3,1.2-0.4,1.8-0.4,1.2-0.3,1.4-0.4,1.6-0.3,1.2-0.4,1.8-0.3,1.2-0.4,1.8-0.3,1.2-0.3,1.5-0.4,1.5-0.2,1.3-0.4,1.7-0.2,1.3-0.4,1.7-0.2,1.4-0.3,1.6-0.3,1.8-0.2,1.2-0.3,1.8-0.2,1.2-0.2,1.8-0.3,1.8-0.1,1.2-0.3,1.8-0.1,1.8-0.2,1.2-0.1,1.8-0.2,1.8-0.1,1.8-0.1,1.8-0,1.5-0.1,1.5 0,1.8 0,1.8 0.1,1.8-0,1.2 0.1,1.8 0.1,1.8 0.2,1.8 0.2,1.6 0.2,1.4 0.3,1.8 0.2,1.2 0.4,1.8 0.2,1.2 0.5,1.7 0.4,1.3 0.4,1.2 0.4,1.3 0.6,1.5 0.6,1.4 0.6,1.2 0.6,1.2 0.6,1.2 0.6,1 0.6,0.9 0.8,1.1 0.8,1.2 0.8,1 0.7,0.8 1.1,1.2 0.6,0.6 1.2,1.1 0.8,0.7 1,0.8 1.2,1 1,0.6 0.9,0.6 1.1,0.7 1.2,0.7 1.2,0.6 1.2,0.6 1.2,0.6 1.2,0.5 1.4,0.5 1.6,0.6 1.2,0.4 1.2,0.4 1.8,0.4 1.2,0.4 1.2,0.2 1.8,0.4 1.2,0.2 1.8,0.4 1.8,0.2 1.2,0.2 1.8,0.2 1.9,0.2 1.2,0.1 1.8,0.1 1.8,0.1 1.8,0.1 1.8,0 1.8,0 1.8,0 1.8,0 1.8,-0 1.8,-0.1 1.8,-0 1.8,-0.1 1.8,-0.1 1.2,-0.1 1.8,-0.1 1.8,-0.1 1.8,-0.2 1.7,-0.2 1.3,-0.1 1.8,-0.2 1.8,-0.2 1.2,-0.1 1.8,-0.2 1.8,-0.2 1.2,-0.2 1.8,-0.2 1.8,-0.2 1.2,-0.2 1.8,-0.3 1.8,-0.2 1.2,-0.2 1.8,-0.3 1.2,-0.2 1.8,-0.3 1.8,-0.3 1.3,-0.2 1.8,-0.3 1.2,-0.2 1.8,-0.3 1.2,-0.2 1.8,-0.3 1.2,-0.3 1.8,-0.3 1.3,-0.3 1.7,-0.3 1.4,-0.3 1.6,-0.3 1.5,-0.3 1.5,-0.3 1.5,-0.3 1.5,-0.3 1.4,-0.3 1.6,-0.3 1.3,-0.3 1.7,-0.3 0.6,-0.1M287.5,612.9l0.1,1.2 0.3,1.8 0.2,1.8 0.2,1.2 0.3,1.8 0.3,1.2 0.3,1.8 0.3,1.2 0.5,1.8 0.3,1.2 0.3,1.2 0.6,1.7 0.4,1.3 0.5,1.2 0.4,1.2 0.5,1.2 0.6,1.3 0.6,1.3 0.6,1.2 0.6,1.2 0.6,1 0.7,1.2 0.7,1.2 0.8,1.2 0.8,1.1 0.6,0.9 0.8,1 1,1.2 0.6,0.7 1,1.1 0.8,0.9 0.9,0.9 0.9,0.8 1.1,1 0.7,0.7 1.2,0.9 1,0.8 0.8,0.6 1.2,0.9 1.2,0.8 1.2,0.7 0.9,0.6 1.1,0.6 1.1,0.6 1.1,0.6 1.2,0.7 1.2,0.5 1.3,0.6 1.4,0.6 1.5,0.6 1.2,0.5 1.2,0.4 1.2,0.4 1.5,0.5 1.6,0.5 1.2,0.4 1.3,0.3 1.7,0.5 1.2,0.2 1.8,0.5 1.2,0.2 1.8,0.4 1.2,0.2 1.8,0.3 1.2,0.2 1.8,0.3 1.7,0.2 1.3,0.2 1.8,0.2 1.8,0.2 1.2,0.1 1.8,0.2 1.8,0.1-0,-0" fill="none" stroke="#000" stroke-opacity="0.72" stroke-width="0.9"/>
<rect x="133.7" y="635.6" width="8" height="5.4" fill="#fff" stroke="#8a8a8a" stroke-width="0.6"/>
<text x="137.7" y="639.6" font-size="3.6" fill="#777" text-anchor="middle">86</text>
<rect x="151.8" y="682.5" width="8" height="5.4" fill="#fff" stroke="#8a8a8a" stroke-width="0.6"/>
<text x="155.8" y="686.5" font-size="3.6" fill="#777" text-anchor="middle">88</text>
<rect x="237" y="715.3" width="8" height="5.4" fill="#fff" stroke="#8a8a8a" stroke-width="0.6"/>
<text x="241" y="719.3" font-size="3.6" fill="#777" text-anchor="middle">90</text>
<rect x="304.2" y="651.9" width="8" height="5.4" fill="#fff" stroke="#8a8a8a" stroke-width="0.6"/>
<text x="308.2" y="655.9" font-size="3.6" fill="#777" text-anchor="middle">92</text>
<rect x="239.9" y="795.9" width="8" height="5.4" fill="#fff" stroke="#8a8a8a" stroke-width="0.6"/>
<text x="243.9" y="799.9" font-size="3.6" fill="#777" text-anchor="middle">88</text>
<rect x="295.1" y="813.7" width="8" height="5.4" fill="#fff" stroke="#8a8a8a" stroke-width="0.6"/>
<text x="299.1" y="817.7" font-size="3.6" fill="#777" text-anchor="middle">86</text>
<rect x="325.7" y="829.2" width="8" height="5.4" fill="#fff" stroke="#8a8a8a" stroke-width="0.6"/>
<text x="329.7" y="833.2" font-size="3.6" fill="#777" text-anchor="middle">84</text>
<rect x="348.9" y="842.3" width="8" height="5.4" fill="#fff" stroke="#8a8a8a" stroke-width="0.6"/>
<text x="352.9" y="846.3" font-size="3.6" fill="#777" text-anchor="middle">82</text>
<rect x="119.3" y="612.9" width="239.8" height="239.5" fill="none" stroke="#7a7a7a" stroke-width="0.9"/>
<circle cx="239.2" cy="732.6" r="2.7" fill="#b00010" stroke="#6a0000" stroke-width="0.5"/>
<text x="233.7" y="733.9" font-size="3.5" fill="#a04040" text-anchor="middle">6</text>
<line x1="331" y1="634" x2="356.4" y2="614.6" stroke="#9a9a92" stroke-width="1"/>
<circle cx="356.4" cy="614.6" r="1.2" fill="#a0a89a"/>
<rect x="264" y="619.9" width="67" height="25.9" fill="#fff" stroke="#777" stroke-width="0.8"/>
<text x="297.5" y="629.9" font-size="11" fill="#333" text-anchor="middle">Prediction:</text>
<text x="297.5" y="643.9" font-size="11" fill="#333" text-anchor="middle">93.7891</text>
<text x="1.8" y="7.2" font-size="6.85" fill="#333">Factor Coding: Actual</text>
<text x="1.8" y="29.2" font-size="6.8" font-weight="bold" fill="#333">R1 (%)</text>
<circle cx="8.4" cy="37.9" r="3.6" fill="#b00010" stroke="#7a0008" stroke-width="0.5"/>
<text x="16.9" y="40.7" font-size="6.7" fill="#c8304c">Design Points</text>
<text x="1.8" y="62.7" font-size="6.7" fill="#333">75</text>
<rect x="16.9" y="55.1" width="25.1" height="9.7" fill="url(#leg)" stroke="#555" stroke-width="0.4"/>
<text x="45.3" y="62.7" font-size="6.4" fill="#333">93.1</text>
<text x="1.8" y="74" font-size="6.9" fill="#333">X1 = A: time</text>
<text x="1.8" y="84.9" font-size="6.9" fill="#333">X2 = B: temp</text>
<text x="1.8" y="107.3" font-size="6.7" font-weight="bold" fill="#333">Actual Factor</text>
<text x="1.8" y="118.3" font-size="6.85" fill="#333">C: ratio = 1.5</text>
<text x="1.8" y="305.5" font-size="6.85" fill="#333">Factor Coding: Actual</text>
<text x="1.8" y="327.5" font-size="6.8" font-weight="bold" fill="#333">R1 (%)</text>
<circle cx="8.4" cy="336.2" r="3.6" fill="#b00010" stroke="#7a0008" stroke-width="0.5"/>
<text x="16.9" y="339" font-size="6.7" fill="#c8304c">Design Points</text>
<text x="1.8" y="361" font-size="6.7" fill="#333">75</text>
<rect x="16.9" y="353.4" width="25.1" height="9.7" fill="url(#leg)" stroke="#555" stroke-width="0.4"/>
<text x="45.3" y="361" font-size="6.4" fill="#333">93.1</text>
<text x="1.8" y="372.3" font-size="6.9" fill="#333">X1 = A: time</text>
<text x="1.8" y="383.2" font-size="6.9" fill="#333">X2 = C: ratio</text>
<text x="1.8" y="405.6" font-size="6.7" font-weight="bold" fill="#333">Actual Factor</text>
<text x="1.8" y="416.6" font-size="6.85" fill="#333">B: temp = 55</text>
<text x="1.8" y="603.8" font-size="6.85" fill="#333">Factor Coding: Actual</text>
<text x="1.8" y="625.8" font-size="6.8" font-weight="bold" fill="#333">R1 (%)</text>
<circle cx="8.4" cy="634.5" r="3.6" fill="#b00010" stroke="#7a0008" stroke-width="0.5"/>
<text x="16.9" y="637.3" font-size="6.7" fill="#c8304c">Design Points</text>
<text x="1.8" y="659.3" font-size="6.7" fill="#333">75</text>
<rect x="16.9" y="651.7" width="25.1" height="9.7" fill="url(#leg)" stroke="#555" stroke-width="0.4"/>
<text x="45.3" y="659.3" font-size="6.4" fill="#333">93.1</text>
<text x="1.8" y="670.6" font-size="6.9" fill="#333">X1 = B: temp</text>
<text x="1.8" y="681.5" font-size="6.9" fill="#333">X2 = C: ratio</text>
<text x="1.8" y="703.9" font-size="6.7" font-weight="bold" fill="#333">Actual Factor</text>
<text x="1.8" y="714.9" font-size="6.85" fill="#333">A: time = 10</text>
<text x="119.3" y="271.5" font-size="12.6" text-anchor="middle" fill="#262626">8</text>
<text x="179.2" y="271.5" font-size="12.6" text-anchor="middle" fill="#262626">9</text>
<text x="239.2" y="271.5" font-size="12.6" text-anchor="middle" fill="#262626">10</text>
<text x="299.2" y="271.5" font-size="12.6" text-anchor="middle" fill="#262626">11</text>
<text x="359.1" y="271.5" font-size="12.6" text-anchor="middle" fill="#262626">12</text>
<text x="111.3" y="251.3" font-size="13" text-anchor="end" fill="#262626">35</text>
<text x="111.3" y="195.8" font-size="13" text-anchor="end" fill="#262626">45</text>
<text x="111.3" y="139.4" font-size="13" text-anchor="end" fill="#262626">55</text>
<text x="111.3" y="76" font-size="13" text-anchor="end" fill="#262626">65</text>
<text x="111.3" y="20.8" font-size="13" text-anchor="end" fill="#262626">75</text>
<path d="M119.3,255.4v4M179.2,255.4v4M239.2,255.4v4M299.2,255.4v4M359.1,255.4v4M119.3,255.4h-4M119.3,195.6h-4M119.3,135.8h-4M119.3,76h-4M119.3,16.2h-4" stroke="#777" stroke-width="0.9"/>
<text x="240.5" y="287.8" font-size="13.7" text-anchor="middle" fill="#262626">A: Time (H)</text>
<text transform="translate(88,146.4) rotate(-90)" font-size="14" text-anchor="middle" fill="#262626">B: Temperature (C)</text>
<text x="243.8" y="10.9" font-size="10.6" text-anchor="middle" fill="#262626">Recovery (%)</text>
<text x="119.3" y="570" font-size="12.6" text-anchor="middle" fill="#262626">8</text>
<text x="179.2" y="570" font-size="12.6" text-anchor="middle" fill="#262626">9</text>
<text x="239.2" y="570" font-size="12.6" text-anchor="middle" fill="#262626">10</text>
<text x="299.2" y="570" font-size="12.6" text-anchor="middle" fill="#262626">11</text>
<text x="359.1" y="570" font-size="12.6" text-anchor="middle" fill="#262626">12</text>
<text x="105.4" y="552.1" font-size="13" text-anchor="end" fill="#262626">1</text>
<text x="111.3" y="508.3" font-size="13" text-anchor="end" fill="#262626">1.2</text>
<text x="111.3" y="462.4" font-size="13" text-anchor="end" fill="#262626">1.4</text>
<text x="111.3" y="410.8" font-size="13" text-anchor="end" fill="#262626">1.6</text>
<text x="111.3" y="366.7" font-size="13" text-anchor="end" fill="#262626">1.8</text>
<text x="107" y="317.4" font-size="13" text-anchor="end" fill="#262626">2</text>
<path d="M119.3,553.5v4M179.2,553.5v4M239.2,553.5v4M299.2,553.5v4M359.1,553.5v4M119.3,553.5h-4M119.3,505.7h-4M119.3,457.8h-4M119.3,410h-4M119.3,362.1h-4M119.3,314.3h-4" stroke="#777" stroke-width="0.9"/>
<text x="239.8" y="586.8" font-size="16.4" text-anchor="middle" fill="#262626">A: Time (H)</text>
<text transform="translate(84.8,443.7) rotate(-90)" font-size="14.6" text-anchor="middle" fill="#262626">C: Molar rate NaCN/CuCN</text>
<text x="238" y="309.5" font-size="10.6" text-anchor="middle" fill="#262626">Recovery (%)</text>
<text x="119.3" y="869.7" font-size="12.6" text-anchor="middle" fill="#262626">35</text>
<text x="179.2" y="869.7" font-size="12.6" text-anchor="middle" fill="#262626">45</text>
<text x="239.2" y="869.7" font-size="12.6" text-anchor="middle" fill="#262626">55</text>
<text x="299.2" y="869.7" font-size="12.6" text-anchor="middle" fill="#262626">65</text>
<text x="359.1" y="869.7" font-size="12.6" text-anchor="middle" fill="#262626">75</text>
<text x="105.4" y="849.5" font-size="13" text-anchor="end" fill="#262626">1</text>
<text x="111.3" y="805.6" font-size="13" text-anchor="end" fill="#262626">1.2</text>
<text x="111.3" y="761.2" font-size="13" text-anchor="end" fill="#262626">1.4</text>
<text x="111.3" y="708.3" font-size="13" text-anchor="end" fill="#262626">1.6</text>
<text x="111.3" y="665.4" font-size="13" text-anchor="end" fill="#262626">1.8</text>
<text x="107" y="615.5" font-size="13" text-anchor="end" fill="#262626">2</text>
<path d="M119.3,852.4v4M179.2,852.4v4M239.2,852.4v4M299.2,852.4v4M359.1,852.4v4M119.3,852.4h-4M119.3,804.5h-4M119.3,756.6h-4M119.3,708.7h-4M119.3,660.8h-4M119.3,612.9h-4" stroke="#777" stroke-width="0.9"/>
<text x="241.9" y="887.5" font-size="14.1" text-anchor="middle" fill="#262626">B: Temperature (C)</text>
<text transform="translate(85.2,742.1) rotate(-90)" font-size="14.6" text-anchor="middle" fill="#262626">C: Molar rate NaCN/CuCN</text>
<text x="235" y="608.3" font-size="10.6" text-anchor="middle" fill="#262626">Recovery (%)</text>
<text x="430.4" y="21.4" font-size="17.2" text-anchor="middle" textLength="18.4" lengthAdjust="spacingAndGlyphs" fill="#e3212d">(a)</text>
<text x="558.7" y="13.8" font-size="9.3" text-anchor="middle" fill="#2a2a2a">3D Surface</text>
<text x="422.7" y="80.5" font-size="10.2" text-anchor="end" fill="#2a2a2a">100</text>
<text x="428.2" y="98.3" font-size="10.2" text-anchor="end" fill="#2a2a2a">95</text>
<text x="428.8" y="115.2" font-size="10.2" text-anchor="end" fill="#2a2a2a">90</text>
<text x="429.3" y="133.2" font-size="10.2" text-anchor="end" fill="#2a2a2a">85</text>
<text x="429.3" y="151.6" font-size="10.2" text-anchor="end" fill="#2a2a2a">80</text>
<text x="430.7" y="166.3" font-size="10.2" text-anchor="end" fill="#2a2a2a">75</text>
<text x="431.4" y="183.7" font-size="10.2" text-anchor="end" fill="#2a2a2a">70</text>
<text x="551.5" y="276.6" font-size="10.4" text-anchor="middle" fill="#2a2a2a">8</text>
<text x="574.6" y="263" font-size="10.4" text-anchor="middle" fill="#2a2a2a">9</text>
<text x="602.9" y="251.7" font-size="10.4" text-anchor="middle" fill="#2a2a2a">10</text>
<text x="628.9" y="239.5" font-size="10.4" text-anchor="middle" fill="#2a2a2a">11</text>
<text x="654" y="225.9" font-size="10.4" text-anchor="middle" fill="#2a2a2a">12</text>
<text x="427.6" y="225.9" font-size="10.4" text-anchor="middle" fill="#2a2a2a">75</text>
<text x="453.3" y="239.9" font-size="10.4" text-anchor="middle" fill="#2a2a2a">65</text>
<text x="478.3" y="251.6" font-size="10.4" text-anchor="middle" fill="#2a2a2a">55</text>
<text x="504.4" y="264" font-size="10.4" text-anchor="middle" fill="#2a2a2a">45</text>
<text x="529.6" y="276.6" font-size="10.4" text-anchor="middle" fill="#2a2a2a">35</text>
<text transform="translate(404,238.8) rotate(28.3)" font-size="15.4" textLength="118" lengthAdjust="spacingAndGlyphs" fill="#2a2a2a">B: Temperature (C)</text>
<text transform="translate(596,278.8) rotate(-26.5)" font-size="14.6" textLength="68.7" lengthAdjust="spacingAndGlyphs" fill="#2a2a2a">A: Time (H)</text>
<text x="430.4" y="337.5" font-size="17.2" text-anchor="middle" textLength="19.7" lengthAdjust="spacingAndGlyphs" fill="#e3212d">(b)</text>
<text x="558.7" y="310" font-size="9.3" text-anchor="middle" fill="#2a2a2a">3D Surface</text>
<text x="422.7" y="376.7" font-size="10.2" text-anchor="end" fill="#2a2a2a">100</text>
<text x="428.2" y="394.5" font-size="10.2" text-anchor="end" fill="#2a2a2a">95</text>
<text x="428.8" y="411.4" font-size="10.2" text-anchor="end" fill="#2a2a2a">90</text>
<text x="429.3" y="429.4" font-size="10.2" text-anchor="end" fill="#2a2a2a">85</text>
<text x="429.3" y="447.8" font-size="10.2" text-anchor="end" fill="#2a2a2a">80</text>
<text x="430.7" y="462.5" font-size="10.2" text-anchor="end" fill="#2a2a2a">75</text>
<text x="431.4" y="479.9" font-size="10.2" text-anchor="end" fill="#2a2a2a">70</text>
<text x="551.5" y="572.8" font-size="10.4" text-anchor="middle" fill="#2a2a2a">8</text>
<text x="574.6" y="559.2" font-size="10.4" text-anchor="middle" fill="#2a2a2a">9</text>
<text x="602.9" y="547.9" font-size="10.4" text-anchor="middle" fill="#2a2a2a">10</text>
<text x="628.9" y="535.7" font-size="10.4" text-anchor="middle" fill="#2a2a2a">11</text>
<text x="654" y="522.1" font-size="10.4" text-anchor="middle" fill="#2a2a2a">12</text>
<text x="432.3" y="521.2" font-size="10.4" text-anchor="middle" fill="#2a2a2a">2</text>
<text x="444.4" y="532.9" font-size="10.4" text-anchor="middle" fill="#2a2a2a">1.8</text>
<text x="466.6" y="541.1" font-size="10.4" text-anchor="middle" fill="#2a2a2a">1.6</text>
<text x="485.3" y="553.2" font-size="10.4" text-anchor="middle" fill="#2a2a2a">1.4</text>
<text x="506.3" y="562.1" font-size="10.4" text-anchor="middle" fill="#2a2a2a">1.2</text>
<text x="530.8" y="576.1" font-size="10.4" text-anchor="middle" fill="#2a2a2a">1</text>
<text transform="translate(380,518.5) rotate(28.5)" font-size="14.8" textLength="161.5" lengthAdjust="spacingAndGlyphs" fill="#2a2a2a">C: Molar rate NaCN/CuCN</text>
<text transform="translate(604.5,571.5) rotate(-29)" font-size="16" textLength="71" lengthAdjust="spacingAndGlyphs" fill="#2a2a2a">A: Time (H)</text>
<text x="430.4" y="628.1" font-size="17.2" text-anchor="middle" textLength="17.5" lengthAdjust="spacingAndGlyphs" fill="#e3212d">(c)</text>
<text x="558.7" y="608.3" font-size="9.3" text-anchor="middle" fill="#2a2a2a">3D Surface</text>
<text x="422.7" y="675" font-size="10.2" text-anchor="end" fill="#2a2a2a">100</text>
<text x="428.2" y="692.8" font-size="10.2" text-anchor="end" fill="#2a2a2a">95</text>
<text x="428.8" y="709.7" font-size="10.2" text-anchor="end" fill="#2a2a2a">90</text>
<text x="429.3" y="727.7" font-size="10.2" text-anchor="end" fill="#2a2a2a">85</text>
<text x="429.3" y="746.1" font-size="10.2" text-anchor="end" fill="#2a2a2a">80</text>
<text x="430.7" y="760.8" font-size="10.2" text-anchor="end" fill="#2a2a2a">75</text>
<text x="431.4" y="778.2" font-size="10.2" text-anchor="end" fill="#2a2a2a">70</text>
<text x="551.5" y="871.1" font-size="10.4" text-anchor="middle" fill="#2a2a2a">35</text>
<text x="574.6" y="857.5" font-size="10.4" text-anchor="middle" fill="#2a2a2a">45</text>
<text x="602.9" y="846.2" font-size="10.4" text-anchor="middle" fill="#2a2a2a">55</text>
<text x="628.9" y="834" font-size="10.4" text-anchor="middle" fill="#2a2a2a">65</text>
<text x="654" y="820.4" font-size="10.4" text-anchor="middle" fill="#2a2a2a">75</text>
<text x="432.3" y="819.5" font-size="10.4" text-anchor="middle" fill="#2a2a2a">2</text>
<text x="444.4" y="831.2" font-size="10.4" text-anchor="middle" fill="#2a2a2a">1.8</text>
<text x="466.6" y="839.4" font-size="10.4" text-anchor="middle" fill="#2a2a2a">1.6</text>
<text x="485.3" y="851.5" font-size="10.4" text-anchor="middle" fill="#2a2a2a">1.4</text>
<text x="506.3" y="860.4" font-size="10.4" text-anchor="middle" fill="#2a2a2a">1.2</text>
<text x="530.8" y="874.4" font-size="10.4" text-anchor="middle" fill="#2a2a2a">1</text>
<text transform="translate(374.7,811.4) rotate(28)" font-size="14.8" textLength="161.4" lengthAdjust="spacingAndGlyphs" fill="#2a2a2a">C: Molar rate NaCN/CuCN</text>
<text transform="translate(580.5,887.5) rotate(-29.3)" font-size="15" textLength="121" lengthAdjust="spacingAndGlyphs" fill="#2a2a2a">B: Temperature (C)</text>
<path d="M437.4,181.9 541.1,146.8 644.7,181.7 M436.6,164.4 541.2,131.1 645.6,164.3 M435.9,146.8 541.2,115.3 646.5,146.9 M435.1,129.3 541.3,99.6 647.3,129.5 M434.3,111.8 541.4,83.9 648.2,112.1 M433.5,94.3 541.4,68.2 649.1,94.7 M432.7,76.8 541.5,52.5 650,77.3 M463.4,173.1 459.9,70.7 M489.3,164.3 487.1,64.7 M515.2,155.6 514.3,58.6 M618.8,173 622.9,71.1 M592.9,164.2 595.8,64.9 M567,155.5 568.6,58.7 M439,216.9 432.7,76.8 M541,178.2 541.5,52.5 M642.9,216.5 650,77.3" fill="none" stroke="#6c6c6c" stroke-width="0.8"/>
<path d="M437.4,181.9h.1 M436.6,164.4h.1 M435.9,146.8h.1 M435.1,129.3h.1 M434.3,111.8h.1 M433.5,94.3h.1 M432.7,76.8h.1" stroke="#111" stroke-width="2.2" stroke-linecap="round"/>
<path d="M541.3,266 642.9,216.5 541,178.2 439,216.9z" fill="#5e5e5e" stroke="#3c3c3c" stroke-width="0.7"/>
<path d="M544.4,179.5l-1.6,0.2-1.6,0.1-1.5,0.2-1.6,0.2-1.6,0.2-1.6,0.1-0,0" fill="none" stroke="#4ae70e" stroke-width="1.3"/>
<path d="M480.4,236.8l1.3,0.1 1.7,0.2 1.8,0.2 1.5,0.2 1.3,0.1 1.4,0.2 1.6,0.2 1.6,0.3 1.6,0.2 1.6,0.3 1.5,0.2 1.6,0.3 1.5,0.3 1.5,0.3 1.5,0.2 1.4,0.3 1.5,0.3 1.8,0.4 1.8,0.4 1.4,0.3 1.4,0.3 1.3,0.3 1.9,0.5 1.6,0.4 1.3,0.3 1.4,0.3 1.9,0.6 1.4,0.3 1.3,0.4 1.9,0.5 1.3,0.3 1.7,0.5 1.5,0.4 1.3,0.4 1.9,0.6 1.3,0.3 1.9,0.6 1.2,0.3 1.9,0.6 1.2,0.4 1.7,0.5 1.4,0.4 1.6,0.5 1.5,0.4 1.4,0.5 1.7,0.5 1.3,0.3 1.9,0.6 1.3,0.3 1.9,0.6 1.3,0.3 1.3,0.3 2,0.5 0.1,-0M552.3,182.5l-1.5,0.2-1.5,0.2-1.5,0.2-1.5,0.2-1.5,0.2-1.6,0.2-1.5,0.2-1.5,0.2-1.6,0.2-1.6,0.2-1.5,0.2-1.6,0.2-1.6,0.1-1.4,0.2-1.4,0.1-1.4,0.2-1.5,0.1-1.7,0.1-1.7,0.2-1.7,0.1-1.3,0.1 0,-0" fill="none" stroke="#97e70e" stroke-width="1.3"/>
<path d="M464.6,229.2l1.4,-0.1 1.3,0 1.8,-0 1.7,-0.1 1.1,0 1.9,0 1.4,0 1.5,0.1 1.7,-0 1.3,0 1.8,0.1 1.4,0.1 1.5,0 1.7,0.1 1.2,0.1 1.8,0.1 1.6,0.2 1.2,0.1 1.7,0.1 1.8,0.2 1.5,0.1 1.3,0.2 1.4,0.2 1.7,0.2 1.6,0.2 1.6,0.2 1.6,0.2 1.6,0.3 1.6,0.2 1.6,0.3 1.5,0.2 1.5,0.3 1.5,0.2 1.6,0.3 1.5,0.2 1.4,0.3 1.5,0.3 1.5,0.2 1.5,0.3 1.5,0.3 1.4,0.2 1.5,0.3 1.7,0.3 1.7,0.3 1.7,0.3 1.5,0.3 1.5,0.2 1.5,0.3 1.5,0.2 1.5,0.3 1.5,0.2 1.5,0.3 1.6,0.2 1.5,0.2 1.6,0.2 1.6,0.2 1.6,0.2 1.6,0.2 1.5,0.1 1.3,0.2 1.4,0.1 1.7,0.1 1.8,0.1 1.2,0.1 1.6,0 1.8,0.1 1.1,-0 1.9,-0 1.2,-0.1 2,-0 1.1,-0.1 1.7,-0.1 1.7,-0.1 1.2,-0.1 1.6,-0.2 1.7,-0.2 1.6,-0.2 1.6,-0.3 1.6,-0.2 1.5,-0.3 1.5,-0.3 1.5,-0.3 1.5,-0.3 1.4,-0.3 1.4,-0.3 1.6,-0.4 1.8,-0.5 1.4,-0.4 1.3,-0.3 2,-0.6 1.2,-0.4 1.3,-0.4 1.9,-0.6 1.3,-0.4 1.8,-0.6 0.6,-0.2M558.6,184.8l-1.5,0.3-1.4,0.2-1.4,0.3-1.6,0.2-1.8,0.3-1.7,0.3-1.5,0.2-1.5,0.3-1.4,0.2-1.5,0.2-1.5,0.3-1.5,0.2-1.5,0.2-1.5,0.2-1.6,0.2-1.5,0.2-1.6,0.2-1.5,0.2-1.6,0.2-1.6,0.1-1.6,0.2-1.6,0.2-1.6,0.1-1.4,0.1-1.3,0.1-1.5,0.2-1.7,0.1-1.7,0.1-1.5,0.1-1.2,0-1.7,0.1-1.9,0.1-1.1,0-0,0" fill="none" stroke="#cbe70e" stroke-width="1.3"/>
<path d="M450.7,222.5l1.4,-0.2 1.3,-0.3 1.9,-0.3 1.6,-0.3 1.3,-0.2 1.4,-0.2 1.6,-0.3 1.9,-0.3 1.5,-0.2 1.4,-0.2 1.4,-0.2 1.5,-0.2 1.5,-0.2 1.5,-0.2 1.5,-0.2 1.5,-0.2 1.6,-0.1 1.6,-0.2 1.6,-0.1 1.7,-0.1 1.7,-0.1 1.4,-0.1 1.2,-0.1 1.8,-0 1.7,-0 1.1,-0 2,-0 1.1,0 2,0.1 1.1,0 1.8,0.1 1.7,0.1 1.2,0.1 1.6,0.2 1.7,0.2 1.6,0.2 1.6,0.2 1.4,0.2 1.5,0.2 1.5,0.2 1.5,0.2 1.6,0.3 1.6,0.3 1.7,0.3 1.5,0.2 1.5,0.3 1.4,0.3 1.5,0.2 1.4,0.3 1.5,0.3 1.6,0.3 1.7,0.3 1.7,0.3 1.5,0.3 1.4,0.2 1.5,0.3 1.5,0.2 1.4,0.3 1.5,0.2 1.5,0.3 1.7,0.2 1.6,0.3 1.5,0.2 1.6,0.2 1.5,0.2 1.5,0.2 1.4,0.2 1.6,0.2 1.6,0.2 1.6,0.1 1.7,0.2 1.6,0.1 1.3,0.1 1.4,0.1 1.8,0.1 1.6,0 1.1,0.1 1.9,-0 1.5,0 1.4,0 1.8,-0 1.3,-0 1.7,-0.1 1.4,-0 1.5,-0.1 1.9,-0.1 1.2,-0.1 1.5,-0.2 1.7,-0.1 1.6,-0.2 1.3,-0.2 1.4,-0.1 1.6,-0.3 1.6,-0.2 1.6,-0.2 1.6,-0.3 1.5,-0.3 1.5,-0.3 1.5,-0.3 1.5,-0.3 1.5,-0.3 1.5,-0.3 1.9,-0.5 1.5,-0.3 1.4,-0.4 1.3,-0.3 1.8,-0.5 1.6,-0.4 1.3,-0.4 1.6,-0.4 1.7,-0.5 1.3,-0.4 1.9,-0.6 1.2,-0.4 1.6,-0.5 1.6,-0.5 1.3,-0.5 1.7,-0.5 1.4,-0.5 1.7,-0.6 1.7,-0.6 1.3,-0.5-0,0M567.3,188.1l-1.3,0.3-1.9,0.4-1.4,0.4-1.3,0.3-1.7,0.3-1.7,0.4-1.3,0.3-1.4,0.3-2,0.4-1.3,0.3-1.3,0.3-1.8,0.4-1.6,0.3-1.4,0.3-1.4,0.3-1.9,0.4-1.5,0.3-1.4,0.2-1.3,0.3-1.7,0.3-1.8,0.3-1.4,0.3-1.5,0.2-1.4,0.3-1.4,0.2-1.7,0.3-1.7,0.3-1.7,0.2-1.5,0.2-1.5,0.3-1.5,0.2-1.6,0.1-1.6,0.2-1.5,0.2-1.4,0.1-1.3,0.1-1.5,0.1-1.7,0.1-1.8,0.1-1.3,0.1-1.4,0-1.9,0.1-1.1,-0-1.9,-0.1-1.2,-0-1.9,-0.1-1.3,-0.1-1.5,-0.1-1.7,-0.2-1.7,-0.1-0.8,-0.1" fill="none" stroke="#e7c40e" stroke-width="1.3"/>
<path d="M577,191.7l-1.3,0.4-1.6,0.6-1.8,0.5-1.1,0.4-1.8,0.6-1.7,0.5-1.1,0.4-1.7,0.6-1.7,0.6-1.6,0.6-1.6,0.6-1.1,0.4-1.6,0.6-1.5,0.7-1.5,0.6-1,0.5-1.4,0.6-1.3,0.8-0.9,0.5-1.2,0.7-0.7,0.6-0.8,0.6-0.7,0.7-0.4,0.7-0.3,0.5-0.2,0.7-0,0.7 0.1,0.7 0.3,0.5 0.5,0.6 0.8,0.8 0.8,0.6 0.8,0.5 1.3,0.7 1.5,0.7 1.6,0.6 1.7,0.6 1.2,0.3 1.8,0.5 1.2,0.4 2,0.4 1.3,0.3 1.4,0.3 1.4,0.2 1.7,0.3 1.6,0.2 1.6,0.2 1.4,0.2 1.4,0.1 1.6,0.2 1.7,0.1 1.7,0.1 1.4,0 1.3,0.1 1.9,0 1.4,0 1.5,0 1.7,-0 1.3,-0 1.7,-0.1 1.5,-0.1 1.4,-0.1 1.8,-0.1 1.4,-0.1 1.3,-0.1 1.8,-0.2 1.7,-0.2 1.4,-0.2 1.4,-0.2 1.3,-0.2 1.6,-0.2 1.6,-0.3 1.6,-0.3 1.5,-0.2 1.5,-0.3 1.5,-0.3 1.5,-0.3 1.7,-0.4 1.8,-0.4 1.5,-0.4 1.4,-0.3 1.4,-0.3 1.5,-0.4 1.9,-0.5 1.3,-0.4-0,0M441,217.9l1.1,-0.4 1.6,-0.5 1.6,-0.6 1.6,-0.6 1.6,-0.5 1.6,-0.6 1.5,-0.6 1.5,-0.6 1.4,-0.6 1.4,-0.7 0.9,-0.4 1.4,-0.7 0.8,-0.5 1.2,-0.7 0.7,-0.6 0.8,-0.6 0.8,-0.7-0,-0" fill="none" stroke="#e78f0e" stroke-width="1.3"/>
<path d="M565.9,253.1l1.6,1M591.3,240.8l1.6,1M616.7,228.4l1.6,1M540.5,265.5l1.6,1M642.1,216l1.6,1M516.5,253.2l-1.6,1M490.9,240.9l-1.6,1M465.4,228.7l-1.6,1M542.1,265.5l-1.6,1M439.8,216.4l-1.6,1" stroke="#000" stroke-width="1.5"/>
<g stroke="#303030" stroke-width="0.4" stroke-linejoin="round"><path fill="#3bff00" d="M541.3,100.4l5.3,0.2-5.3,2.1-5.3,-0.6z"/><path fill="#5bff00" d="M536,100.3l5.3,0.1-5.3,1.7-5.3,-0.4z"/><path fill="#75ff00" d="M546.6,99l5.3,-0.1-5.3,1.7-5.3,-0.2z"/><path fill="#79ff00" d="M530.7,100.3l5.3,0-5.3,1.4-5.3,-0.3z"/><path fill="#8fff00" d="M541.3,99.2l5.3,-0.2-5.3,1.4-5.3,-0.1z"/><path fill="#a9ff00" d="M552,97.8l5.3,-0.4-5.4,1.5-5.3,0.1z"/><path fill="#94ff00" d="M525.3,100.4l5.4,-0.1-5.3,1.1-5.4,-0.2z"/><path fill="#a7ff00" d="M536,99.5l5.3,-0.3-5.3,1.1-5.3,0z"/><path fill="#beff00" d="M546.7,98.3l5.3,-0.5-5.4,1.2-5.3,0.2z"/><path fill="#d8ff00" d="M557.3,96.8l5.4,-0.7-5.4,1.3-5.3,0.4z"/><path fill="#aeff00" d="M520,100.6l5.3,-0.2-5.3,0.8-5.3,-0.1z"/><path fill="#beff00" d="M530.7,99.9l5.3,-0.4-5.3,0.8-5.4,0.1z"/><path fill="#d2ff00" d="M541.3,98.8l5.4,-0.5-5.4,0.9-5.3,0.3z"/><path fill="#e9ff00" d="M552,97.6l5.3,-0.8-5.3,1-5.3,0.5z"/><path fill="#fffc00" d="M562.7,96.1l5.3,-0.9-5.3,0.9-5.4,0.7z"/><path fill="#c6ff00" d="M514.7,100.9l5.3,-0.3-5.3,0.5-5.4,-0z"/><path fill="#d3ff00" d="M525.3,100.4l5.4,-0.5-5.4,0.5-5.3,0.2z"/><path fill="#e3ff00" d="M536,99.5l5.3,-0.7-5.3,0.7-5.3,0.4z"/><path fill="#f8ff00" d="M546.7,98.4l5.3,-0.8-5.3,0.7-5.4,0.5z"/><path fill="#fff000" d="M557.4,97.1l5.3,-1-5.4,0.7-5.3,0.8z"/><path fill="#ffd700" d="M568.1,95.7l5.3,-1.1-5.4,0.6-5.3,0.9z"/><path fill="#dcff00" d="M509.3,101.3l5.4,-0.4-5.4,0.2-5.3,0z"/><path fill="#e5ff00" d="M520,101l5.3,-0.6-5.3,0.2-5.3,0.3z"/><path fill="#f3ff00" d="M530.7,100.3l5.3,-0.8-5.3,0.4-5.4,0.5z"/><path fill="#fff900" d="M541.3,99.4l5.4,-1-5.4,0.4-5.3,0.7z"/><path fill="#ffe500" d="M552,98.2l5.4,-1.1-5.4,0.5-5.3,0.8z"/><path fill="#ffcf00" d="M562.7,97l5.4,-1.3-5.4,0.4-5.3,1z"/><path fill="#ffb800" d="M573.4,95.6l5.4,-1.4-5.4,0.4-5.3,1.1z"/><path fill="#f0ff00" d="M504,101.8l5.3,-0.5-5.3,-0.2-5.4,0.2z"/><path fill="#f6ff00" d="M514.6,101.7l5.4,-0.7-5.3,-0.1-5.4,0.4z"/><path fill="#fffd00" d="M525.3,101.2l5.4,-0.9-5.4,0.1-5.3,0.6z"/><path fill="#ffee00" d="M536,100.4l5.3,-1-5.3,0.1-5.3,0.8z"/><path fill="#ffdc00" d="M546.7,99.4l5.3,-1.2-5.3,0.2-5.4,1z"/><path fill="#ffc800" d="M557.4,98.3l5.3,-1.3-5.3,0.1-5.4,1.1z"/><path fill="#ffb300" d="M568.1,97l5.3,-1.4-5.3,0.1-5.4,1.3z"/><path fill="#ff9d00" d="M578.8,95.7l5.3,-1.5-5.3,0-5.4,1.4z"/><path fill="#fff900" d="M509.3,102.4l5.3,-0.7-5.3,-0.4-5.3,0.5z"/><path fill="#fffc00" d="M498.6,102.4l5.4,-0.6-5.4,-0.5-5.3,0.3z"/><path fill="#fff100" d="M520,102.1l5.3,-0.9-5.3,-0.2-5.4,0.7z"/><path fill="#ffe500" d="M530.6,101.5l5.4,-1.1-5.3,-0.1-5.4,0.9z"/><path fill="#ffd500" d="M541.3,100.7l5.4,-1.3-5.4,-0-5.3,1z"/><path fill="#ffc300" d="M552,99.7l5.4,-1.4-5.4,-0.1-5.3,1.2z"/><path fill="#ffb000" d="M562.7,98.6l5.4,-1.6-5.4,-0-5.3,1.3z"/><path fill="#ff9c00" d="M573.4,97.4l5.4,-1.7-5.4,-0.1-5.3,1.4z"/><path fill="#ff8800" d="M584.2,96.2l5.3,-1.8-5.4,-0.2-5.3,1.5z"/><path fill="#ffec00" d="M503.9,103.3l5.4,-0.9-5.3,-0.6-5.4,0.6z"/><path fill="#ffe600" d="M514.6,103.2l5.4,-1.1-5.4,-0.4-5.3,0.7z"/><path fill="#ffec00" d="M493.2,103.1l5.4,-0.7-5.3,-0.8-5.4,0.4z"/><path fill="#ffdd00" d="M525.3,102.8l5.3,-1.3-5.3,-0.3-5.3,0.9z"/><path fill="#ffcf00" d="M536,102.1l5.3,-1.4-5.3,-0.3-5.4,1.1z"/><path fill="#ffbf00" d="M546.7,101.2l5.3,-1.5-5.3,-0.3-5.4,1.3z"/><path fill="#ffae00" d="M557.4,100.2l5.3,-1.6-5.3,-0.3-5.4,1.4z"/><path fill="#ff9c00" d="M568.1,99.1l5.3,-1.7-5.3,-0.4-5.4,1.6z"/><path fill="#ff8a00" d="M578.8,98l5.4,-1.8-5.4,-0.5-5.4,1.7z"/><path fill="#ff7900" d="M589.5,96.9l5.4,-1.9-5.4,-0.6-5.3,1.8z"/><path fill="#ffde00" d="M509.3,104.3l5.3,-1.1-5.3,-0.8-5.4,0.9z"/><path fill="#ffe000" d="M498.6,104.3l5.3,-1-5.3,-0.9-5.4,0.7z"/><path fill="#ffd600" d="M520,104.1l5.3,-1.3-5.3,-0.7-5.4,1.1z"/><path fill="#ffdd00" d="M487.9,103.9l5.3,-0.8-5.3,-1.1-5.4,0.4z"/><path fill="#ffcb00" d="M530.6,103.5l5.4,-1.4-5.4,-0.6-5.3,1.3z"/><path fill="#ffbd00" d="M541.3,102.8l5.4,-1.6-5.4,-0.5-5.3,1.4z"/><path fill="#ffae00" d="M552,101.9l5.4,-1.7-5.4,-0.5-5.3,1.5z"/><path fill="#ff9d00" d="M562.7,100.9l5.4,-1.8-5.4,-0.5-5.3,1.6z"/><path fill="#ff8c00" d="M573.4,99.9l5.4,-1.9-5.4,-0.6-5.3,1.7z"/><path fill="#ff7c00" d="M584.2,98.8l5.3,-1.9-5.3,-0.7-5.4,1.8z"/><path fill="#ff6e00" d="M594.9,97.9l5.4,-2-5.4,-0.9-5.4,1.9z"/><path fill="#ffd700" d="M503.9,105.6l5.4,-1.3-5.4,-1-5.3,1z"/><path fill="#ffd200" d="M514.6,105.5l5.4,-1.4-5.4,-0.9-5.3,1.1z"/><path fill="#ffd700" d="M493.2,105.4l5.4,-1.1-5.4,-1.2-5.3,0.8z"/><path fill="#ffc900" d="M525.3,105.1l5.3,-1.6-5.3,-0.7-5.3,1.3z"/><path fill="#ffd100" d="M482.5,104.8l5.4,-0.9-5.4,-1.5-5.3,0.6z"/><path fill="#ffbd00" d="M536,104.5l5.3,-1.7-5.3,-0.7-5.4,1.4z"/><path fill="#ffaf00" d="M546.7,103.7l5.3,-1.8-5.3,-0.7-5.4,1.6z"/><path fill="#ff9f00" d="M557.4,102.8l5.3,-1.9-5.3,-0.7-5.4,1.7z"/><path fill="#ff9000" d="M568.1,101.8l5.3,-1.9-5.3,-0.8-5.4,1.8z"/><path fill="#ff8100" d="M578.8,100.9l5.4,-2.1-5.4,-0.8-5.4,1.9z"/><path fill="#ff7400" d="M589.5,100l5.4,-2.1-5.4,-1-5.3,1.9z"/><path fill="#ff6900" d="M600.2,99.2l5.4,-2.1-5.3,-1.2-5.4,2z"/><path fill="#ffcf00" d="M509.3,107l5.3,-1.5-5.3,-1.2-5.4,1.3z"/><path fill="#ffd100" d="M498.6,106.9l5.3,-1.3-5.3,-1.3-5.4,1.1z"/><path fill="#ffc800" d="M520,106.7l5.3,-1.6-5.3,-1-5.4,1.4z"/><path fill="#ffcf00" d="M487.9,106.5l5.3,-1.1-5.3,-1.5-5.4,0.9z"/><path fill="#ffbe00" d="M530.6,106.2l5.4,-1.7-5.4,-1-5.3,1.6z"/><path fill="#ffb100" d="M541.3,105.5l5.4,-1.8-5.4,-0.9-5.3,1.7z"/><path fill="#ffc600" d="M477.2,105.7l5.3,-0.9-5.3,-1.8-5.4,0.7z"/><path fill="#ffa300" d="M552,104.7l5.4,-1.9-5.4,-0.9-5.3,1.8z"/><path fill="#ff9500" d="M562.7,103.9l5.4,-2.1-5.4,-0.9-5.3,1.9z"/><path fill="#ff8700" d="M573.5,103l5.3,-2.1-5.4,-1-5.3,1.9z"/><path fill="#ff7a00" d="M584.2,102.2l5.3,-2.2-5.3,-1.2-5.4,2.1z"/><path fill="#ff7000" d="M594.9,101.4l5.3,-2.2-5.3,-1.3-5.4,2.1z"/><path fill="#ff6900" d="M605.6,100.8l5.4,-2.2-5.4,-1.5-5.4,2.1z"/><path fill="#ffcd00" d="M503.9,108.6l5.4,-1.6-5.4,-1.4-5.3,1.3z"/><path fill="#ffc800" d="M514.6,108.4l5.4,-1.7-5.4,-1.2-5.3,1.5z"/><path fill="#ffce00" d="M493.2,108.4l5.4,-1.5-5.4,-1.5-5.3,1.1z"/><path fill="#ffc000" d="M525.3,108.1l5.3,-1.9-5.3,-1.1-5.3,1.6z"/><path fill="#ffc800" d="M482.5,107.8l5.4,-1.3-5.4,-1.7-5.3,0.9z"/><path fill="#ffb500" d="M536,107.5l5.3,-2-5.3,-1-5.4,1.7z"/><path fill="#ffa900" d="M546.7,106.8l5.3,-2.1-5.3,-1-5.4,1.8z"/><path fill="#ffbd00" d="M471.8,106.8l5.4,-1.1-5.4,-2-5.4,0.8z"/><path fill="#ff9b00" d="M557.4,106l5.3,-2.1-5.3,-1.1-5.4,1.9z"/><path fill="#ff8e00" d="M568.1,105.2l5.4,-2.2-5.4,-1.2-5.4,2.1z"/><path fill="#ff8200" d="M578.8,104.4l5.4,-2.2-5.4,-1.3-5.3,2.1z"/><path fill="#ff7800" d="M589.5,103.7l5.4,-2.3-5.4,-1.4-5.3,2.2z"/><path fill="#ff6e00" d="M610.9,102.7l5.4,-2.3-5.3,-1.8-5.4,2.2z"/><path fill="#ff7100" d="M600.2,103.1l5.4,-2.3-5.4,-1.6-5.3,2.2z"/><path fill="#ffca00" d="M509.3,110.2l5.3,-1.8-5.3,-1.4-5.4,1.6z"/><path fill="#ffcd00" d="M498.6,110.2l5.3,-1.6-5.3,-1.7-5.4,1.5z"/><path fill="#ffc400" d="M520,110l5.3,-1.9-5.3,-1.4-5.4,1.7z"/><path fill="#ffcb00" d="M487.9,109.9l5.3,-1.5-5.3,-1.9-5.4,1.3z"/><path fill="#ffbb00" d="M530.6,109.5l5.4,-2-5.4,-1.3-5.3,1.9z"/><path fill="#ffaf00" d="M541.3,108.9l5.4,-2.1-5.4,-1.3-5.3,2z"/><path fill="#ffc400" d="M477.2,109.2l5.3,-1.4-5.3,-2.1-5.4,1.1z"/><path fill="#ffa300" d="M552,108.2l5.4,-2.2-5.4,-1.3-5.3,2.1z"/><path fill="#ff9700" d="M562.7,107.4l5.4,-2.2-5.4,-1.3-5.3,2.1z"/><path fill="#ffb600" d="M466.4,108l5.4,-1.2-5.4,-2.3-5.3,0.9z"/><path fill="#ff8b00" d="M573.4,106.7l5.4,-2.3-5.3,-1.4-5.4,2.2z"/><path fill="#ff7900" d="M616.2,105l5.4,-2.4-5.3,-2.2-5.4,2.3z"/><path fill="#ff8200" d="M584.2,106l5.3,-2.3-5.3,-1.5-5.4,2.2z"/><path fill="#ff7800" d="M605.6,105.1l5.3,-2.4-5.3,-1.9-5.4,2.3z"/><path fill="#ff7b00" d="M594.9,105.5l5.3,-2.4-5.3,-1.7-5.4,2.3z"/><path fill="#ffce00" d="M503.9,112.1l5.4,-1.9-5.4,-1.6-5.3,1.6z"/><path fill="#ffc900" d="M514.6,112l5.4,-2-5.4,-1.6-5.3,1.8z"/><path fill="#ffcf00" d="M493.2,112l5.4,-1.8-5.4,-1.8-5.3,1.5z"/><path fill="#ffc100" d="M525.3,111.6l5.3,-2.1-5.3,-1.4-5.3,1.9z"/><path fill="#ffcb00" d="M482.5,111.5l5.4,-1.6-5.4,-2.1-5.3,1.4z"/><path fill="#ffb700" d="M536,111.1l5.3,-2.2-5.3,-1.4-5.4,2z"/><path fill="#ffac00" d="M546.7,110.5l5.3,-2.3-5.3,-1.4-5.4,2.1z"/><path fill="#ffc100" d="M471.8,110.6l5.4,-1.4-5.4,-2.4-5.4,1.2z"/><path fill="#ffa000" d="M557.4,109.8l5.3,-2.4-5.3,-1.4-5.4,2.2z"/><path fill="#ff8900" d="M621.5,107.5l5.4,-2.4-5.3,-2.5-5.4,2.4z"/><path fill="#ff9500" d="M568.1,109.1l5.3,-2.4-5.3,-1.5-5.4,2.2z"/><path fill="#ff8300" d="M610.9,107.4l5.3,-2.4-5.3,-2.3-5.3,2.4z"/><path fill="#ff8c00" d="M578.8,108.4l5.4,-2.4-5.4,-1.6-5.4,2.3z"/><path fill="#ff8200" d="M600.2,107.5l5.4,-2.4-5.4,-2-5.3,2.4z"/><path fill="#ff8500" d="M589.5,107.9l5.4,-2.4-5.4,-1.8-5.3,2.3z"/><path fill="#ffb000" d="M461.1,109.3l5.3,-1.3-5.3,-2.6-5.4,1z"/><path fill="#ffd000" d="M509.3,114.1l5.3,-2.1-5.3,-1.8-5.4,1.9z"/><path fill="#ffd300" d="M498.6,114.1l5.3,-2-5.3,-1.9-5.4,1.8z"/><path fill="#ffc900" d="M520,113.8l5.3,-2.2-5.3,-1.6-5.4,2z"/><path fill="#ffd200" d="M487.9,113.9l5.3,-1.9-5.3,-2.1-5.4,1.6z"/><path fill="#ffc000" d="M530.6,113.4l5.4,-2.3-5.4,-1.6-5.3,2.1z"/><path fill="#ff9e00" d="M626.8,110.4l5.4,-2.4-5.3,-2.9-5.4,2.4z"/><path fill="#ffcc00" d="M477.2,113.2l5.3,-1.7-5.3,-2.3-5.4,1.4z"/><path fill="#ffb600" d="M541.3,112.8l5.4,-2.3-5.4,-1.6-5.3,2.2z"/><path fill="#ffab00" d="M552,112.2l5.4,-2.4-5.4,-1.6-5.3,2.3z"/><path fill="#ff9200" d="M616.2,109.9l5.3,-2.4-5.3,-2.5-5.3,2.4z"/><path fill="#ffa000" d="M562.7,111.5l5.4,-2.4-5.4,-1.7-5.3,2.4z"/><path fill="#ffc000" d="M466.5,112.2l5.3,-1.6-5.4,-2.6-5.3,1.3z"/><path fill="#ff8d00" d="M605.5,109.8l5.4,-2.4-5.3,-2.3-5.4,2.4z"/><path fill="#ff9700" d="M573.4,110.9l5.4,-2.5-5.4,-1.7-5.3,2.4z"/><path fill="#ff9000" d="M584.1,110.3l5.4,-2.4-5.3,-1.9-5.4,2.4z"/><path fill="#ff8c00" d="M594.8,110l5.4,-2.5-5.3,-2-5.4,2.4z"/><path fill="#ffad00" d="M455.7,110.7l5.4,-1.4-5.4,-2.9-5.4,1z"/><path fill="#ffb800" d="M632.1,113.6l5.4,-2.4-5.3,-3.2-5.4,2.4z"/><path fill="#ffd800" d="M503.9,116.3l5.4,-2.2-5.4,-2-5.3,2z"/><path fill="#ffd200" d="M514.6,116.1l5.4,-2.3-5.4,-1.8-5.3,2.1z"/><path fill="#ffd900" d="M493.3,116.2l5.3,-2.1-5.4,-2.1-5.3,1.9z"/><path fill="#ffca00" d="M525.3,115.7l5.3,-2.3-5.3,-1.8-5.3,2.2z"/><path fill="#ffd700" d="M482.6,115.8l5.3,-1.9-5.4,-2.4-5.3,1.7z"/><path fill="#ffa700" d="M621.5,112.8l5.3,-2.4-5.3,-2.9-5.3,2.4z"/><path fill="#ffc100" d="M536,115.2l5.3,-2.4-5.3,-1.7-5.4,2.3z"/><path fill="#ffb600" d="M546.7,114.6l5.3,-2.4-5.3,-1.7-5.4,2.3z"/><path fill="#ffcf00" d="M471.9,115l5.3,-1.8-5.4,-2.6-5.3,1.6z"/><path fill="#ff9d00" d="M610.8,112.4l5.4,-2.5-5.3,-2.5-5.4,2.4z"/><path fill="#ffac00" d="M557.4,114l5.3,-2.5-5.3,-1.7-5.4,2.4z"/><path fill="#ffa300" d="M568.1,113.4l5.3,-2.5-5.3,-1.8-5.4,2.4z"/><path fill="#ff9800" d="M600.2,112.3l5.3,-2.5-5.3,-2.3-5.4,2.5z"/><path fill="#ff9c00" d="M578.8,112.9l5.3,-2.6-5.3,-1.9-5.4,2.5z"/><path fill="#ff9800" d="M589.5,112.5l5.3,-2.5-5.3,-2.1-5.4,2.4z"/><path fill="#ffc000" d="M461.1,113.8l5.4,-1.6-5.4,-2.9-5.4,1.4z"/><path fill="#ffab00" d="M450.4,112.2l5.3,-1.5-5.4,-3.3-5.3,1.2z"/><path fill="#ffd800" d="M637.3,117.1l5.4,-2.3-5.2,-3.6-5.4,2.4z"/><path fill="#ffc100" d="M626.7,116l5.4,-2.4-5.3,-3.2-5.3,2.4z"/><path fill="#ffe100" d="M498.6,118.6l5.3,-2.3-5.3,-2.2-5.3,2.1z"/><path fill="#ffdd00" d="M509.3,118.5l5.3,-2.4-5.3,-2-5.4,2.2z"/><path fill="#ffe100" d="M487.9,118.4l5.4,-2.2-5.4,-2.3-5.3,1.9z"/><path fill="#ffd600" d="M520,118.2l5.3,-2.5-5.3,-1.9-5.4,2.3z"/><path fill="#ffb100" d="M616.1,115.3l5.4,-2.5-5.3,-2.9-5.4,2.5z"/><path fill="#ffcd00" d="M530.7,117.7l5.3,-2.5-5.4,-1.8-5.3,2.3z"/><path fill="#ffdd00" d="M477.2,117.9l5.4,-2.1-5.4,-2.6-5.3,1.8z"/><path fill="#ffc300" d="M541.3,117.2l5.4,-2.6-5.4,-1.8-5.3,2.4z"/><path fill="#ffa800" d="M605.5,114.9l5.3,-2.5-5.3,-2.6-5.3,2.5z"/><path fill="#ffb900" d="M552,116.6l5.4,-2.6-5.4,-1.8-5.3,2.4z"/><path fill="#ffd300" d="M466.5,117l5.4,-2-5.4,-2.8-5.4,1.6z"/><path fill="#ffb000" d="M562.7,116l5.4,-2.6-5.4,-1.9-5.3,2.5z"/><path fill="#ffa400" d="M594.8,114.9l5.4,-2.6-5.4,-2.3-5.3,2.5z"/><path fill="#ffa900" d="M573.4,115.5l5.4,-2.6-5.4,-2-5.3,2.5z"/><path fill="#ffa500" d="M584.1,115.1l5.4,-2.6-5.4,-2.2-5.3,2.6z"/><path fill="#ffc200" d="M455.8,115.6l5.3,-1.8-5.4,-3.1-5.3,1.5z"/><path fill="#ffaa00" d="M445,113.7l5.4,-1.5-5.4,-3.6-5.4,1.3z"/><path fill="#fffd00" d="M642.6,121l5.3,-2.3-5.2,-3.9-5.4,2.3z"/><path fill="#ffdf00" d="M632,119.5l5.3,-2.4-5.2,-3.5-5.4,2.4z"/><path fill="#ffca00" d="M621.4,118.4l5.3,-2.4-5.2,-3.2-5.4,2.5z"/><path fill="#ffe800" d="M504,120.9l5.3,-2.4-5.4,-2.2-5.3,2.3z"/><path fill="#ffeb00" d="M493.3,120.9l5.3,-2.3-5.3,-2.4-5.4,2.2z"/><path fill="#ffe200" d="M514.6,120.7l5.4,-2.5-5.4,-2.1-5.3,2.4z"/><path fill="#ffea00" d="M482.6,120.6l5.3,-2.2-5.3,-2.6-5.4,2.1z"/><path fill="#ffda00" d="M525.3,120.3l5.4,-2.6-5.4,-2-5.3,2.5z"/><path fill="#ffbb00" d="M610.8,117.8l5.3,-2.5-5.3,-2.9-5.3,2.5z"/><path fill="#ffd100" d="M536,119.8l5.3,-2.6-5.3,-2-5.3,2.5z"/><path fill="#ffe400" d="M471.9,120l5.3,-2.1-5.3,-2.9-5.4,2z"/><path fill="#ffc700" d="M546.7,119.2l5.3,-2.6-5.3,-2-5.4,2.6z"/><path fill="#ffb300" d="M600.1,117.5l5.4,-2.6-5.3,-2.6-5.4,2.6z"/><path fill="#ffbe00" d="M557.4,118.6l5.3,-2.6-5.3,-2-5.4,2.6z"/><path fill="#ffb000" d="M589.4,117.5l5.4,-2.6-5.3,-2.4-5.4,2.6z"/><path fill="#ffb700" d="M568.1,118.1l5.3,-2.6-5.3,-2.1-5.4,2.6z"/><path fill="#ffb200" d="M578.8,117.7l5.3,-2.6-5.3,-2.2-5.4,2.6z"/><path fill="#ffd800" d="M461.2,119l5.3,-2-5.4,-3.2-5.3,1.8z"/><path fill="#ffc600" d="M450.5,117.5l5.3,-1.9-5.4,-3.4-5.4,1.5z"/><path fill="#ffac00" d="M439.7,115.4l5.3,-1.7-5.4,-3.8-5.3,1.4z"/><path fill="#fbff00" d="M637.2,123.3l5.4,-2.3-5.3,-3.9-5.3,2.4z"/><path fill="#ffe700" d="M626.7,121.8l5.3,-2.3-5.3,-3.5-5.3,2.4z"/><path fill="#ffd300" d="M616,120.9l5.4,-2.5-5.3,-3.1-5.3,2.5z"/><path fill="#fff500" d="M498.6,123.4l5.4,-2.5-5.4,-2.3-5.3,2.3z"/><path fill="#fff000" d="M509.3,123.3l5.3,-2.6-5.3,-2.2-5.3,2.4z"/><path fill="#fff700" d="M488,123.4l5.3,-2.5-5.4,-2.5-5.3,2.2z"/><path fill="#ffe900" d="M520,122.9l5.3,-2.6-5.3,-2.1-5.4,2.5z"/><path fill="#fff500" d="M477.3,123l5.3,-2.4-5.4,-2.7-5.3,2.1z"/><path fill="#ffc600" d="M605.4,120.3l5.4,-2.5-5.3,-2.9-5.4,2.6z"/><path fill="#ffe000" d="M530.7,122.4l5.3,-2.6-5.3,-2.1-5.4,2.6z"/><path fill="#ffd600" d="M541.3,121.9l5.4,-2.7-5.4,-2-5.3,2.6z"/><path fill="#ffed00" d="M466.6,122.2l5.3,-2.2-5.4,-3-5.3,2z"/><path fill="#ffc000" d="M594.8,120.1l5.3,-2.6-5.3,-2.6-5.4,2.6z"/><path fill="#ffcd00" d="M552,121.3l5.4,-2.7-5.4,-2-5.3,2.6z"/><path fill="#ffc500" d="M562.7,120.8l5.4,-2.7-5.4,-2.1-5.3,2.6z"/><path fill="#ffbe00" d="M584.1,120.1l5.3,-2.6-5.3,-2.4-5.3,2.6z"/><path fill="#ffc000" d="M573.4,120.4l5.4,-2.7-5.4,-2.2-5.3,2.6z"/><path fill="#ffe000" d="M455.9,121.1l5.3,-2.1-5.4,-3.4-5.3,1.9z"/><path fill="#ffcb00" d="M445.1,119.4l5.4,-1.9-5.5,-3.8-5.3,1.7z"/><path fill="#f5ff00" d="M631.9,125.6l5.3,-2.3-5.2,-3.8-5.3,2.3z"/><path fill="#ffef00" d="M621.3,124.3l5.4,-2.5-5.3,-3.4-5.4,2.5z"/><path fill="#ffdd00" d="M610.7,123.4l5.3,-2.5-5.2,-3.1-5.4,2.5z"/><path fill="#fbff00" d="M493.3,126l5.3,-2.6-5.3,-2.5-5.3,2.5z"/><path fill="#ffff00" d="M504,125.9l5.3,-2.6-5.3,-2.4-5.4,2.5z"/><path fill="#faff00" d="M482.7,125.9l5.3,-2.5-5.4,-2.8-5.3,2.4z"/><path fill="#fff800" d="M514.7,125.6l5.3,-2.7-5.4,-2.2-5.3,2.6z"/><path fill="#ffef00" d="M525.3,125.2l5.4,-2.8-5.4,-2.1-5.3,2.6z"/><path fill="#fdff00" d="M472,125.4l5.3,-2.4-5.4,-3-5.3,2.2z"/><path fill="#ffd200" d="M600.1,122.9l5.3,-2.6-5.3,-2.8-5.3,2.6z"/><path fill="#ffe600" d="M536,124.7l5.3,-2.8-5.3,-2.1-5.3,2.6z"/><path fill="#ffdd00" d="M546.7,124.1l5.3,-2.8-5.3,-2.1-5.4,2.7z"/><path fill="#ffcc00" d="M589.4,122.7l5.4,-2.6-5.4,-2.6-5.3,2.6z"/><path fill="#fff800" d="M461.3,124.5l5.3,-2.3-5.4,-3.2-5.3,2.1z"/><path fill="#ffd500" d="M557.4,123.6l5.3,-2.8-5.3,-2.2-5.4,2.7z"/><path fill="#ffcc00" d="M578.7,122.8l5.4,-2.7-5.3,-2.4-5.4,2.7z"/><path fill="#ffcf00" d="M568,123.1l5.4,-2.7-5.3,-2.3-5.4,2.7z"/><path fill="#ffe800" d="M450.6,123.2l5.3,-2.1-5.4,-3.6-5.4,1.9z"/><path fill="#efff00" d="M626.6,127.9l5.3,-2.3-5.2,-3.8-5.4,2.5z"/><path fill="#fff800" d="M616,126.7l5.3,-2.4-5.3,-3.4-5.3,2.5z"/><path fill="#ebff00" d="M488,128.7l5.3,-2.7-5.3,-2.6-5.3,2.5z"/><path fill="#efff00" d="M498.7,128.7l5.3,-2.8-5.4,-2.5-5.3,2.6z"/><path fill="#f5ff00" d="M509.4,128.4l5.3,-2.8-5.4,-2.3-5.3,2.6z"/><path fill="#ffe800" d="M605.4,125.9l5.3,-2.5-5.3,-3.1-5.3,2.6z"/><path fill="#ebff00" d="M477.4,128.5l5.3,-2.6-5.4,-2.9-5.3,2.4z"/><path fill="#feff00" d="M520,128l5.3,-2.8-5.3,-2.3-5.3,2.7z"/><path fill="#f0ff00" d="M466.7,127.9l5.3,-2.5-5.4,-3.2-5.3,2.3z"/><path fill="#fff700" d="M530.7,127.5l5.3,-2.8-5.3,-2.3-5.4,2.8z"/><path fill="#ffde00" d="M594.7,125.5l5.4,-2.6-5.3,-2.8-5.4,2.6z"/><path fill="#ffed00" d="M541.4,126.9l5.3,-2.8-5.4,-2.2-5.3,2.8z"/><path fill="#ffe500" d="M552,126.4l5.4,-2.8-5.4,-2.3-5.3,2.8z"/><path fill="#ffda00" d="M584,125.4l5.4,-2.7-5.3,-2.6-5.4,2.7z"/><path fill="#fbff00" d="M456,127l5.3,-2.5-5.4,-3.4-5.3,2.1z"/><path fill="#ffde00" d="M562.7,125.9l5.3,-2.8-5.3,-2.3-5.3,2.8z"/><path fill="#ffda00" d="M573.4,125.6l5.3,-2.8-5.3,-2.4-5.4,2.7z"/><path fill="#e8ff00" d="M621.2,130.2l5.4,-2.3-5.3,-3.6-5.3,2.4z"/><path fill="#fdff00" d="M610.6,129.1l5.4,-2.4-5.3,-3.3-5.3,2.5z"/><path fill="#deff00" d="M493.4,131.5l5.3,-2.8-5.4,-2.7-5.3,2.7z"/><path fill="#dbff00" d="M482.7,131.5l5.3,-2.8-5.3,-2.8-5.3,2.6z"/><path fill="#e4ff00" d="M504,131.3l5.4,-2.9-5.4,-2.5-5.3,2.8z"/><path fill="#dcff00" d="M472.1,131.2l5.3,-2.7-5.4,-3.1-5.3,2.5z"/><path fill="#ecff00" d="M514.7,130.9l5.3,-2.9-5.3,-2.4-5.3,2.8z"/><path fill="#fff200" d="M600,128.5l5.4,-2.6-5.3,-3-5.4,2.6z"/><path fill="#f6ff00" d="M525.4,130.4l5.3,-2.9-5.4,-2.3-5.3,2.8z"/><path fill="#e2ff00" d="M461.4,130.5l5.3,-2.6-5.4,-3.4-5.3,2.5z"/><path fill="#ffff00" d="M536,129.8l5.4,-2.9-5.4,-2.2-5.3,2.8z"/><path fill="#ffea00" d="M589.4,128.1l5.3,-2.6-5.3,-2.8-5.4,2.7z"/><path fill="#fff600" d="M546.7,129.2l5.3,-2.8-5.3,-2.3-5.3,2.8z"/><path fill="#ffe800" d="M578.7,128.1l5.3,-2.7-5.3,-2.6-5.3,2.8z"/><path fill="#ffee00" d="M557.4,128.7l5.3,-2.8-5.3,-2.3-5.4,2.8z"/><path fill="#ffe900" d="M568,128.3l5.4,-2.7-5.4,-2.5-5.3,2.8z"/><path fill="#e1ff00" d="M615.9,132.6l5.3,-2.4-5.2,-3.5-5.4,2.4z"/><path fill="#ccff00" d="M488.1,134.4l5.3,-2.9-5.4,-2.8-5.3,2.8z"/><path fill="#f4ff00" d="M605.3,131.6l5.3,-2.5-5.2,-3.2-5.4,2.6z"/><path fill="#c9ff00" d="M477.4,134.3l5.3,-2.8-5.3,-3-5.3,2.7z"/><path fill="#d2ff00" d="M498.7,134.2l5.3,-2.9-5.3,-2.6-5.3,2.8z"/><path fill="#daff00" d="M509.4,133.8l5.3,-2.9-5.3,-2.5-5.4,2.9z"/><path fill="#cbff00" d="M466.8,134l5.3,-2.8-5.4,-3.3-5.3,2.6z"/><path fill="#e3ff00" d="M520,133.3l5.4,-2.9-5.4,-2.4-5.3,2.9z"/><path fill="#fffd00" d="M594.7,131.1l5.3,-2.6-5.3,-3-5.3,2.6z"/><path fill="#edff00" d="M530.7,132.7l5.3,-2.9-5.3,-2.3-5.3,2.9z"/><path fill="#f7ff00" d="M541.4,132.1l5.3,-2.9-5.3,-2.3-5.4,2.9z"/><path fill="#fff700" d="M584,130.8l5.4,-2.7-5.4,-2.7-5.3,2.7z"/><path fill="#ffff00" d="M552,131.6l5.4,-2.9-5.4,-2.3-5.3,2.8z"/><path fill="#fff600" d="M573.4,130.9l5.3,-2.8-5.3,-2.5-5.4,2.7z"/><path fill="#fff900" d="M562.7,131.2l5.3,-2.9-5.3,-2.4-5.3,2.8z"/><path fill="#daff00" d="M610.6,135l5.3,-2.4-5.3,-3.5-5.3,2.5z"/><path fill="#b9ff00" d="M482.8,137.4l5.3,-3-5.4,-2.9-5.3,2.8z"/><path fill="#b7ff00" d="M472.1,137.3l5.3,-3-5.3,-3.1-5.3,2.8z"/><path fill="#beff00" d="M493.4,137.2l5.3,-3-5.3,-2.7-5.3,2.9z"/><path fill="#c6ff00" d="M504.1,136.8l5.3,-3-5.4,-2.5-5.3,2.9z"/><path fill="#ebff00" d="M600,134.1l5.3,-2.5-5.3,-3.1-5.3,2.6z"/><path fill="#d0ff00" d="M514.7,136.3l5.3,-3-5.3,-2.4-5.3,2.9z"/><path fill="#daff00" d="M525.4,135.7l5.3,-3-5.3,-2.3-5.4,2.9z"/><path fill="#f5ff00" d="M589.3,133.7l5.4,-2.6-5.3,-3-5.4,2.7z"/><path fill="#e5ff00" d="M536,135.1l5.4,-3-5.4,-2.3-5.3,2.9z"/><path fill="#eeff00" d="M546.7,134.5l5.3,-2.9-5.3,-2.4-5.3,2.9z"/><path fill="#faff00" d="M578.7,133.5l5.3,-2.7-5.3,-2.7-5.3,2.8z"/><path fill="#f5ff00" d="M557.4,134l5.3,-2.8-5.3,-2.5-5.4,2.9z"/><path fill="#f9ff00" d="M568,133.7l5.4,-2.8-5.4,-2.6-5.3,2.9z"/><path fill="#a5ff00" d="M477.5,140.4l5.3,-3-5.4,-3.1-5.3,3z"/><path fill="#aaff00" d="M488.1,140.3l5.3,-3.1-5.3,-2.8-5.3,3z"/><path fill="#d3ff00" d="M605.3,137.3l5.3,-2.3-5.3,-3.4-5.3,2.5z"/><path fill="#b2ff00" d="M498.8,139.9l5.3,-3.1-5.4,-2.6-5.3,3z"/><path fill="#bcff00" d="M509.4,139.4l5.3,-3.1-5.3,-2.5-5.3,3z"/><path fill="#c7ff00" d="M520.1,138.8l5.3,-3.1-5.4,-2.4-5.3,3z"/><path fill="#e1ff00" d="M594.6,136.6l5.4,-2.5-5.3,-3-5.4,2.6z"/><path fill="#d2ff00" d="M530.7,138.1l5.3,-3-5.3,-2.4-5.3,3z"/><path fill="#e9ff00" d="M584,136.3l5.3,-2.6-5.3,-2.9-5.3,2.7z"/><path fill="#dcff00" d="M541.4,137.5l5.3,-3-5.3,-2.4-5.4,3z"/><path fill="#e4ff00" d="M552,136.9l5.4,-2.9-5.4,-2.4-5.3,2.9z"/><path fill="#ecff00" d="M573.3,136.3l5.4,-2.8-5.3,-2.6-5.4,2.8z"/><path fill="#eaff00" d="M562.7,136.5l5.3,-2.8-5.3,-2.5-5.3,2.8z"/><path fill="#95ff00" d="M482.9,143.4l5.2,-3.1-5.3,-2.9-5.3,3z"/><path fill="#9dff00" d="M493.5,143.1l5.3,-3.2-5.4,-2.7-5.3,3.1z"/><path fill="#a7ff00" d="M504.1,142.5l5.3,-3.1-5.3,-2.6-5.3,3.1z"/><path fill="#cbff00" d="M599.9,139.7l5.4,-2.4-5.3,-3.2-5.4,2.5z"/><path fill="#b2ff00" d="M514.8,141.9l5.3,-3.1-5.4,-2.5-5.3,3.1z"/><path fill="#beff00" d="M525.4,141.2l5.3,-3.1-5.3,-2.4-5.3,3.1z"/><path fill="#d7ff00" d="M589.3,139.2l5.3,-2.6-5.3,-2.9-5.3,2.6z"/><path fill="#c9ff00" d="M536.1,140.5l5.3,-3-5.4,-2.4-5.3,3z"/><path fill="#ddff00" d="M578.7,138.9l5.3,-2.6-5.3,-2.8-5.4,2.8z"/><path fill="#d3ff00" d="M546.7,139.9l5.3,-3-5.3,-2.4-5.3,3z"/><path fill="#daff00" d="M557.4,139.4l5.3,-2.9-5.3,-2.5-5.4,2.9z"/><path fill="#deff00" d="M568,139l5.3,-2.7-5.3,-2.6-5.3,2.8z"/><path fill="#87ff00" d="M488.2,146.3l5.3,-3.2-5.4,-2.8-5.2,3.1z"/><path fill="#91ff00" d="M498.8,145.7l5.3,-3.2-5.3,-2.6-5.3,3.2z"/><path fill="#9dff00" d="M509.5,145.1l5.3,-3.2-5.4,-2.5-5.3,3.1z"/><path fill="#c4ff00" d="M594.6,142.1l5.3,-2.4-5.3,-3.1-5.3,2.6z"/><path fill="#aaff00" d="M520.1,144.3l5.3,-3.1-5.3,-2.4-5.3,3.1z"/><path fill="#b6ff00" d="M530.7,143.6l5.4,-3.1-5.4,-2.4-5.3,3.1z"/><path fill="#cdff00" d="M584,141.7l5.3,-2.5-5.3,-2.9-5.3,2.6z"/><path fill="#c1ff00" d="M541.4,142.9l5.3,-3-5.3,-2.4-5.3,3z"/><path fill="#d1ff00" d="M573.3,141.6l5.4,-2.7-5.4,-2.6-5.3,2.7z"/><path fill="#caff00" d="M552,142.3l5.4,-2.9-5.4,-2.5-5.3,3z"/><path fill="#cfff00" d="M562.7,141.8l5.3,-2.8-5.3,-2.5-5.3,2.9z"/><path fill="#7bff00" d="M493.5,149l5.3,-3.3-5.3,-2.6-5.3,3.2z"/><path fill="#88ff00" d="M504.2,148.3l5.3,-3.2-5.4,-2.6-5.3,3.2z"/><path fill="#95ff00" d="M514.8,147.5l5.3,-3.2-5.3,-2.4-5.3,3.2z"/><path fill="#a3ff00" d="M525.4,146.7l5.3,-3.1-5.3,-2.4-5.3,3.1z"/><path fill="#bcff00" d="M589.3,144.6l5.3,-2.5-5.3,-2.9-5.3,2.5z"/><path fill="#afff00" d="M536.1,145.9l5.3,-3-5.3,-2.4-5.4,3.1z"/><path fill="#c3ff00" d="M578.7,144.3l5.3,-2.6-5.3,-2.8-5.4,2.7z"/><path fill="#b9ff00" d="M546.7,145.2l5.3,-2.9-5.3,-2.4-5.3,3z"/><path fill="#c4ff00" d="M568,144.3l5.3,-2.7-5.3,-2.6-5.3,2.8z"/><path fill="#c1ff00" d="M557.4,144.6l5.3,-2.8-5.3,-2.4-5.4,2.9z"/><path fill="#72ff00" d="M498.9,151.5l5.3,-3.2-5.4,-2.6-5.3,3.3z"/><path fill="#80ff00" d="M509.5,150.7l5.3,-3.2-5.3,-2.4-5.3,3.2z"/><path fill="#8fff00" d="M520.1,149.8l5.3,-3.1-5.3,-2.4-5.3,3.2z"/><path fill="#9dff00" d="M530.8,148.9l5.3,-3-5.4,-2.3-5.3,3.1z"/><path fill="#b4ff00" d="M584,147l5.3,-2.4-5.3,-2.9-5.3,2.6z"/><path fill="#a8ff00" d="M541.4,148.1l5.3,-2.9-5.3,-2.3-5.3,3z"/><path fill="#b8ff00" d="M573.3,146.8l5.4,-2.5-5.4,-2.7-5.3,2.7z"/><path fill="#b2ff00" d="M552,147.5l5.4,-2.9-5.4,-2.3-5.3,2.9z"/><path fill="#b7ff00" d="M562.7,147l5.3,-2.7-5.3,-2.5-5.3,2.8z"/><path fill="#6aff00" d="M504.2,153.9l5.3,-3.2-5.3,-2.4-5.3,3.2z"/><path fill="#7aff00" d="M514.8,153l5.3,-3.2-5.3,-2.3-5.3,3.2z"/><path fill="#8aff00" d="M525.5,152l5.3,-3.1-5.4,-2.2-5.3,3.1z"/><path fill="#97ff00" d="M536.1,151.1l5.3,-3-5.3,-2.2-5.3,3z"/><path fill="#acff00" d="M578.7,149.4l5.3,-2.4-5.3,-2.7-5.4,2.5z"/><path fill="#a2ff00" d="M546.7,150.3l5.3,-2.8-5.3,-2.3-5.3,2.9z"/><path fill="#aeff00" d="M568,149.4l5.3,-2.6-5.3,-2.5-5.3,2.7z"/><path fill="#aaff00" d="M557.4,149.8l5.3,-2.8-5.3,-2.4-5.4,2.9z"/><path fill="#65ff00" d="M509.5,156.2l5.3,-3.2-5.3,-2.3-5.3,3.2z"/><path fill="#76ff00" d="M520.2,155.1l5.3,-3.1-5.4,-2.2-5.3,3.2z"/><path fill="#86ff00" d="M530.8,154.1l5.3,-3-5.3,-2.2-5.3,3.1z"/><path fill="#93ff00" d="M541.4,153.2l5.3,-2.9-5.3,-2.2-5.3,3z"/><path fill="#a4ff00" d="M573.3,151.8l5.4,-2.4-5.4,-2.6-5.3,2.6z"/><path fill="#9dff00" d="M552.1,152.5l5.3,-2.7-5.4,-2.3-5.3,2.8z"/><path fill="#a3ff00" d="M562.7,152l5.3,-2.6-5.3,-2.4-5.3,2.8z"/><path fill="#62ff00" d="M514.9,158.3l5.3,-3.2-5.4,-2.1-5.3,3.2z"/><path fill="#74ff00" d="M525.5,157.2l5.3,-3.1-5.3,-2.1-5.3,3.1z"/><path fill="#83ff00" d="M536.1,156.1l5.3,-2.9-5.3,-2.1-5.3,3z"/><path fill="#90ff00" d="M546.7,155.3l5.4,-2.8-5.4,-2.2-5.3,2.9z"/><path fill="#98ff00" d="M557.4,154.6l5.3,-2.6-5.3,-2.2-5.3,2.7z"/><path fill="#9cff00" d="M568,154.3l5.3,-2.5-5.3,-2.4-5.3,2.6z"/><path fill="#62ff00" d="M520.2,160.2l5.3,-3-5.3,-2.1-5.3,3.2z"/><path fill="#73ff00" d="M530.8,159.1l5.3,-3-5.3,-2-5.3,3.1z"/><path fill="#82ff00" d="M541.4,158l5.3,-2.7-5.3,-2.1-5.3,2.9z"/><path fill="#8dff00" d="M552.1,157.2l5.3,-2.6-5.3,-2.1-5.4,2.8z"/><path fill="#94ff00" d="M562.7,156.7l5.3,-2.4-5.3,-2.3-5.3,2.6z"/><path fill="#63ff00" d="M525.5,162l5.3,-2.9-5.3,-1.9-5.3,3z"/><path fill="#74ff00" d="M536.1,160.8l5.3,-2.8-5.3,-1.9-5.3,3z"/><path fill="#82ff00" d="M546.8,159.8l5.3,-2.6-5.4,-1.9-5.3,2.7z"/><path fill="#8cff00" d="M557.4,159.1l5.3,-2.4-5.3,-2.1-5.3,2.6z"/><path fill="#67ff00" d="M530.8,163.6l5.3,-2.8-5.3,-1.7-5.3,2.9z"/><path fill="#78ff00" d="M541.5,162.5l5.3,-2.7-5.4,-1.8-5.3,2.8z"/><path fill="#84ff00" d="M552.1,161.5l5.3,-2.4-5.3,-1.9-5.3,2.6z"/><path fill="#6dff00" d="M536.2,165.1l5.3,-2.6-5.4,-1.7-5.3,2.8z"/><path fill="#7cff00" d="M546.8,164l5.3,-2.5-5.3,-1.7-5.3,2.7z"/><path fill="#75ff00" d="M541.5,166.4l5.3,-2.4-5.3,-1.5-5.3,2.6z"/></g>
<circle cx="541.3" cy="113" r="2.6" fill="#b00010" stroke="#600" stroke-width="0.4"/>
<path d="M437.4,478.1 541.1,443 644.7,477.9 M436.6,460.6 541.2,427.3 645.6,460.5 M435.9,443 541.2,411.5 646.5,443.1 M435.1,425.5 541.3,395.8 647.3,425.7 M434.3,408 541.4,380.1 648.2,408.3 M433.5,390.5 541.4,364.4 649.1,390.9 M432.7,373 541.5,348.7 650,373.5 M463.4,469.3 459.9,366.9 M489.3,460.5 487.1,360.9 M515.2,451.8 514.3,354.8 M624,470.9 628.3,368.5 M603.3,463.9 606.6,363.6 M582.5,456.9 584.9,358.6 M561.8,450 563.2,353.7 M439,513.1 432.7,373 M541,474.4 541.5,348.7 M642.9,512.7 650,373.5" fill="none" stroke="#6c6c6c" stroke-width="0.8"/>
<path d="M437.4,478.1h.1 M436.6,460.6h.1 M435.9,443h.1 M435.1,425.5h.1 M434.3,408h.1 M433.5,390.5h.1 M432.7,373h.1" stroke="#111" stroke-width="2.2" stroke-linecap="round"/>
<path d="M541.3,562.2 642.9,512.7 541,474.4 439,513.1z" fill="#5e5e5e" stroke="#3c3c3c" stroke-width="0.7"/>
<path d="M506.6,545.6l1.5,0.2 1.5,0.2 1.4,0.2 1.6,0.2 1.7,0.2 1.7,0.2 1.5,0.1 1.2,0.1 1.8,0.1 1.7,0.1 1.1,0.1 1.9,0.1 1.3,0 1.6,0 1.6,0.1 1.5,-0.1 1.5,0 1.7,-0 1.2,-0 1.9,-0.1 1.4,-0.1 1.4,-0 1.8,-0.2 1.5,-0.1 1.2,-0.1 1.7,-0.1 1.7,-0.2 1.7,-0.2 1.3,-0.1 1.4,-0.2 1.4,-0.1 1.7,-0.3 1.6,-0.2 1.5,-0.2 1.6,-0.3 1.6,-0.2 1.5,-0.3 1.5,-0.2 1.5,-0.3 1.5,-0.3 1.5,-0.3 1.5,-0.2 1.4,-0.3 1.7,-0.4 1.8,-0.4 1.6,-0.3 1.4,-0.4 1.4,-0.3 1.4,-0.3 1.7,-0.5 1.7,-0.4 1.4,-0.3 1.3,-0.4 1.9,-0.5-0,0M443.6,511.4l0.6,0.6 0.6,0.8 0.8,0.8 0.6,0.7 0.7,0.7 0.6,0.6 0.6,0.6 0.7,0.7 1,0.9 0.7,0.7 0.2,0.2" fill="none" stroke="#6ce70e" stroke-width="1.3"/>
<path d="M463,504l0.8,0.7 0.8,0.8 0.7,0.6 0.7,0.6 0.6,0.6 1,0.9 0.8,0.6 0.7,0.6 1,0.8 0.9,0.7 0.8,0.5 1.1,0.9 0.8,0.6 1.3,0.8 0.8,0.5 1.3,0.9 0.8,0.5 1.4,0.8 1.3,0.8 0.9,0.5 1.4,0.8 1.5,0.7 1.5,0.8 1.5,0.7 1.5,0.7 1.6,0.7 1.7,0.7 1.6,0.6 1.2,0.4 1.7,0.7 1.8,0.6 1.2,0.4 1.9,0.5 1.2,0.4 1.7,0.5 1.6,0.4 1.3,0.3 1.4,0.4 1.9,0.4 1.7,0.3 1.4,0.3 1.5,0.3 1.6,0.2 1.5,0.2 1.6,0.3 1.6,0.2 1.4,0.1 1.3,0.2 1.5,0.1 1.8,0.2 1.7,0.1 1.2,0.1 1.6,0 1.8,0.1 1.1,0 1.9,0.1 1.2,-0 1.9,0 1.2,-0 1.9,-0 1.1,-0.1 1.9,-0 1.4,-0.1 1.4,-0.1 1.8,-0.1 1.5,-0.1 1.2,-0.1 1.7,-0.1 1.8,-0.2 1.6,-0.2 1.3,-0.1 1.3,-0.2 1.6,-0.2 1.6,-0.2 1.6,-0.2 1.6,-0.2 1.5,-0.3 1.6,-0.2 1.5,-0.3 1.5,-0.3 1.5,-0.2 1.5,-0.3 1.5,-0.3 1.4,-0.3 1.7,-0.4 1.9,-0.4 1.4,-0.3 1.4,-0.3 1.4,-0.3 1.5,-0.4 1.9,-0.5 1.4,-0.3 1.3,-0.4 1.8,-0.5 1.5,-0.4 1.3,-0.3 1.9,-0.6 1.3,-0.4 1.3,-0.3 1.9,-0.6 1.3,-0.4 1.8,-0.6 1.3,-0.4 1.8,-0.6 1.2,-0.4 1.9,-0.6 1.1,-0.5 1.8,-0.6 1.5,-0.5 1.5,-0.5 1.7,-0.7 1.2,-0.4 1.7,-0.7 1.7,-0.7 1.5,-0.6 1.3,-0.5 1.6,-0.7 1.7,-0.7 1.6,-0.6 0.6,-0.3" fill="none" stroke="#cbe70e" stroke-width="1.3"/>
<path d="M486.8,495l0.7,0.5 0.7,0.6 1,0.8 0.8,0.6 0.7,0.6 1.1,0.8 0.8,0.5 1.2,0.8 0.9,0.5 1.3,0.8 0.8,0.5 1.4,0.8 1.4,0.7 0.9,0.5 1.5,0.7 1.5,0.7 1.5,0.6 1.6,0.7 1.1,0.4 1.7,0.6 1.7,0.6 1.5,0.5 1.5,0.4 1.6,0.5 1.6,0.4 1.3,0.3 1.9,0.5 1.4,0.3 1.4,0.3 1.5,0.3 1.4,0.2 1.5,0.3 1.6,0.2 1.5,0.2 1.6,0.2 1.7,0.2 1.6,0.2 1.8,0.1 1.2,0.1 1.4,0.1 1.9,0.1 1.3,0 1.5,0.1 1.8,-0 1.2,-0 1.9,-0 1.2,-0 1.8,-0.1 1.4,-0 1.4,-0.1 1.9,-0.1 1.3,-0.1 1.4,-0.1 1.7,-0.2 1.7,-0.1 1.4,-0.2 1.4,-0.1 1.4,-0.2 1.6,-0.2 1.6,-0.2 1.6,-0.2 1.6,-0.3 1.5,-0.2 1.5,-0.3 1.5,-0.3 1.5,-0.2 1.4,-0.3 1.7,-0.4 1.9,-0.4 1.4,-0.3 1.3,-0.3 1.4,-0.3 1.9,-0.5 1.5,-0.4 1.3,-0.3 1.8,-0.5 1.4,-0.4 1.3,-0.4 1.9,-0.5 1.2,-0.4 1.9,-0.6 1.2,-0.4 1.8,-0.6 1.3,-0.4 1.6,-0.6 1.8,-0.6 1.1,-0.4 0.6,-0.2" fill="none" stroke="#e7a30e" stroke-width="1.3"/>
<path d="M520,482.4l0.9,0.7 0.8,0.6 0.7,0.5 1.2,0.8 0.8,0.5 1.3,0.7 0.9,0.5 1.4,0.6 1.5,0.7 1.5,0.6 1.7,0.5 1.1,0.4 1.8,0.5 1.5,0.4 1.7,0.4 1.3,0.3 1.4,0.2 1.8,0.3 1.6,0.3 1.5,0.1 1.4,0.2 1.4,0.1 1.7,0.1 1.8,0.1 1.3,0.1 1.5,0 1.7,0 1.4,-0 1.6,-0 1.6,-0.1 1.3,-0.1 1.8,-0.1 1.7,-0.2 1.3,-0.1 1.4,-0.1 1.4,-0.2 1.6,-0.2 1.5,-0.3 1.5,-0.2 1.7,-0.3 1.9,-0.4 1.4,-0.3 1.3,-0.3 0,-0" fill="none" stroke="#e7480e" stroke-width="1.3"/>
<path d="M535.5,476.5l0.5,0.6 0.6,0.5 0.6,0.6 0.8,0.5 1.1,0.7 0.8,0.5 1.4,0.6 1.5,0.6 1.6,0.6 1.5,0.5 1.5,0.3 1.3,0.3 1.9,0.4 1.7,0.2 1.5,0.2 1.3,0.1 1.3,0.1 1.7,0 1.7,0.1 1.3,-0 1.7,-0.1 1.6,-0.1 1.1,-0.1" fill="none" stroke="#e7300e" stroke-width="1.3"/>
<path d="M565.9,549.3l1.6,1M591.3,537l1.6,1M616.7,524.6l1.6,1M540.5,561.7l1.6,1M642.1,512.2l1.6,1M521.6,551.9l-1.6,1M501.2,542.1l-1.6,1M480.7,532.2l-1.6,1M460.3,522.4l-1.6,1M542.1,561.7l-1.6,1M439.8,512.6l-1.6,1" stroke="#000" stroke-width="1.5"/>
<g stroke="#303030" stroke-width="0.4" stroke-linejoin="round"><path fill="#ff3900" d="M541.4,376.4l5.4,-1.7-5.4,-1.2-5.4,1.7z"/><path fill="#ff4000" d="M536,378.2l5.4,-1.8-5.4,-1.2-5.3,1.8z"/><path fill="#ff3800" d="M546.7,377.8l5.4,-1.7-5.3,-1.4-5.4,1.7z"/><path fill="#ff4800" d="M530.6,380.1l5.4,-1.9-5.3,-1.2-5.4,1.8z"/><path fill="#ff3e00" d="M541.4,379.6l5.3,-1.8-5.3,-1.4-5.4,1.8z"/><path fill="#ff3800" d="M552.1,379.3l5.4,-1.8-5.4,-1.4-5.4,1.7z"/><path fill="#ff5200" d="M525.3,382.1l5.3,-2-5.3,-1.3-5.4,2z"/><path fill="#ff4600" d="M536,381.5l5.4,-1.9-5.4,-1.4-5.4,1.9z"/><path fill="#ff3e00" d="M546.7,381.1l5.4,-1.8-5.4,-1.5-5.3,1.8z"/><path fill="#ff3b00" d="M557.5,380.9l5.3,-1.8-5.3,-1.6-5.4,1.8z"/><path fill="#ff5d00" d="M519.9,384.2l5.4,-2.1-5.4,-1.3-5.3,2.1z"/><path fill="#ff5000" d="M530.6,383.5l5.4,-2-5.4,-1.4-5.3,2z"/><path fill="#ff3f00" d="M562.8,382.6l5.4,-1.8-5.4,-1.7-5.3,1.8z"/><path fill="#ff4600" d="M541.4,383l5.3,-1.9-5.3,-1.5-5.4,1.9z"/><path fill="#ff4100" d="M552.1,382.7l5.4,-1.8-5.4,-1.6-5.4,1.8z"/><path fill="#ff6a00" d="M514.6,386.3l5.3,-2.1-5.3,-1.3-5.4,2.1z"/><path fill="#ff5a00" d="M525.3,385.6l5.3,-2.1-5.3,-1.4-5.4,2.1z"/><path fill="#ff4500" d="M568.2,384.4l5.3,-1.8-5.3,-1.8-5.4,1.8z"/><path fill="#ff4f00" d="M536,385l5.4,-2-5.4,-1.5-5.4,2z"/><path fill="#ff4500" d="M557.5,384.4l5.3,-1.8-5.3,-1.7-5.4,1.8z"/><path fill="#ff4800" d="M546.7,384.6l5.4,-1.9-5.4,-1.6-5.3,1.9z"/><path fill="#ff7800" d="M509.2,388.6l5.4,-2.3-5.4,-1.3-5.3,2.3z"/><path fill="#ff6700" d="M519.9,387.8l5.4,-2.2-5.4,-1.4-5.3,2.1z"/><path fill="#ff4d00" d="M573.5,386.3l5.4,-1.8-5.4,-1.9-5.3,1.8z"/><path fill="#ff5a00" d="M530.6,387.1l5.4,-2.1-5.4,-1.5-5.3,2.1z"/><path fill="#ff4b00" d="M562.8,386.2l5.4,-1.8-5.4,-1.8-5.3,1.8z"/><path fill="#ff5100" d="M541.4,386.7l5.3,-2.1-5.3,-1.6-5.4,2z"/><path fill="#ff4c00" d="M552.1,386.4l5.4,-2-5.4,-1.7-5.4,1.9z"/><path fill="#ff8800" d="M503.9,391l5.3,-2.4-5.3,-1.3-5.4,2.3z"/><path fill="#ff7500" d="M514.6,390l5.3,-2.2-5.3,-1.5-5.4,2.3z"/><path fill="#ff5700" d="M578.9,388.3l5.3,-1.8-5.3,-2-5.4,1.8z"/><path fill="#ff6600" d="M525.3,389.3l5.3,-2.2-5.3,-1.5-5.4,2.2z"/><path fill="#ff5200" d="M568.2,388.2l5.3,-1.9-5.3,-1.9-5.4,1.8z"/><path fill="#ff5b00" d="M536,388.8l5.4,-2.1-5.4,-1.7-5.4,2.1z"/><path fill="#ff5100" d="M557.4,388.2l5.4,-2-5.3,-1.8-5.4,2z"/><path fill="#ff5400" d="M546.7,388.4l5.4,-2-5.4,-1.8-5.3,2.1z"/><path fill="#ff9900" d="M498.5,393.4l5.4,-2.4-5.4,-1.4-5.3,2.5z"/><path fill="#ff8400" d="M509.2,392.4l5.4,-2.4-5.4,-1.4-5.3,2.4z"/><path fill="#ff6300" d="M584.2,390.5l5.4,-1.9-5.4,-2.1-5.3,1.8z"/><path fill="#ff7300" d="M519.9,391.6l5.4,-2.3-5.4,-1.5-5.3,2.2z"/><path fill="#ff5c00" d="M573.5,390.2l5.4,-1.9-5.4,-2-5.3,1.9z"/><path fill="#ff6700" d="M530.6,390.9l5.4,-2.1-5.4,-1.7-5.3,2.2z"/><path fill="#ff5900" d="M562.8,390.2l5.4,-2-5.4,-2-5.4,2z"/><path fill="#ff5e00" d="M541.4,390.5l5.3,-2.1-5.3,-1.7-5.4,2.1z"/><path fill="#ff5a00" d="M552.1,390.2l5.3,-2-5.3,-1.8-5.4,2z"/><path fill="#ffac00" d="M493.2,396l5.3,-2.6-5.3,-1.3-5.4,2.5z"/><path fill="#ff9500" d="M503.9,394.8l5.3,-2.4-5.3,-1.4-5.4,2.4z"/><path fill="#ff7100" d="M589.5,392.8l5.4,-1.9-5.3,-2.3-5.4,1.9z"/><path fill="#ff8200" d="M514.6,393.9l5.3,-2.3-5.3,-1.6-5.4,2.4z"/><path fill="#ff6800" d="M578.8,392.4l5.4,-1.9-5.3,-2.2-5.4,1.9z"/><path fill="#ff7400" d="M525.3,393.2l5.3,-2.3-5.3,-1.6-5.4,2.3z"/><path fill="#ff6300" d="M568.1,392.2l5.4,-2-5.3,-2-5.4,2z"/><path fill="#ff6900" d="M536,392.7l5.4,-2.2-5.4,-1.7-5.4,2.1z"/><path fill="#ff6100" d="M557.4,392.2l5.4,-2-5.4,-2-5.3,2z"/><path fill="#ff6300" d="M546.7,392.4l5.4,-2.2-5.4,-1.8-5.3,2.1z"/><path fill="#ffc000" d="M487.9,398.6l5.3,-2.6-5.4,-1.4-5.3,2.7z"/><path fill="#ffa700" d="M498.5,397.4l5.4,-2.6-5.4,-1.4-5.3,2.6z"/><path fill="#ff8000" d="M594.9,395.2l5.3,-1.9-5.3,-2.4-5.4,1.9z"/><path fill="#ff9200" d="M509.2,396.4l5.4,-2.5-5.4,-1.5-5.3,2.4z"/><path fill="#ff7500" d="M584.2,394.7l5.3,-1.9-5.3,-2.3-5.4,1.9z"/><path fill="#ff8200" d="M519.9,395.6l5.4,-2.4-5.4,-1.6-5.3,2.3z"/><path fill="#ff6e00" d="M573.5,394.4l5.3,-2-5.3,-2.2-5.4,2z"/><path fill="#ff7600" d="M530.6,395l5.4,-2.3-5.4,-1.8-5.3,2.3z"/><path fill="#ff6a00" d="M562.8,394.3l5.3,-2.1-5.3,-2-5.4,2z"/><path fill="#ff6e00" d="M541.3,394.6l5.4,-2.2-5.3,-1.9-5.4,2.2z"/><path fill="#ff6a00" d="M552.1,394.4l5.3,-2.2-5.3,-2-5.4,2.2z"/><path fill="#ffd500" d="M482.5,401.3l5.4,-2.7-5.4,-1.3-5.3,2.7z"/><path fill="#ffba00" d="M493.2,400l5.3,-2.6-5.3,-1.4-5.3,2.6z"/><path fill="#ff9200" d="M600.2,397.7l5.3,-2-5.3,-2.4-5.3,1.9z"/><path fill="#ffa400" d="M503.9,398.9l5.3,-2.5-5.3,-1.6-5.4,2.6z"/><path fill="#ff8500" d="M589.5,397.1l5.4,-1.9-5.4,-2.4-5.3,1.9z"/><path fill="#ff9200" d="M514.6,398l5.3,-2.4-5.3,-1.7-5.4,2.5z"/><path fill="#ff7b00" d="M578.8,396.7l5.4,-2-5.4,-2.3-5.3,2z"/><path fill="#ff8400" d="M525.3,397.4l5.3,-2.4-5.3,-1.8-5.4,2.4z"/><path fill="#ff7500" d="M568.1,396.5l5.4,-2.1-5.4,-2.2-5.3,2.1z"/><path fill="#ff7300" d="M557.4,396.5l5.4,-2.2-5.4,-2.1-5.3,2.2z"/><path fill="#ff7a00" d="M536,396.9l5.3,-2.3-5.3,-1.9-5.4,2.3z"/><path fill="#ff7500" d="M546.7,396.6l5.4,-2.2-5.4,-2-5.4,2.2z"/><path fill="#ffeb00" d="M477.2,404.1l5.3,-2.8-5.3,-1.3-5.3,2.8z"/><path fill="#ffcf00" d="M487.9,402.7l5.3,-2.7-5.3,-1.4-5.4,2.7z"/><path fill="#ffa500" d="M605.5,400.3l5.3,-1.9-5.3,-2.7-5.3,2z"/><path fill="#ffb700" d="M498.5,401.6l5.4,-2.7-5.4,-1.5-5.3,2.6z"/><path fill="#ff9600" d="M594.8,399.7l5.4,-2-5.3,-2.5-5.4,1.9z"/><path fill="#ff8a00" d="M584.1,399.2l5.4,-2.1-5.3,-2.4-5.4,2z"/><path fill="#ffa300" d="M509.2,400.6l5.4,-2.6-5.4,-1.6-5.3,2.5z"/><path fill="#ff8200" d="M573.5,398.8l5.3,-2.1-5.3,-2.3-5.4,2.1z"/><path fill="#ff9300" d="M519.9,399.8l5.4,-2.4-5.4,-1.8-5.3,2.4z"/><path fill="#ff7e00" d="M562.8,398.7l5.3,-2.2-5.3,-2.2-5.4,2.2z"/><path fill="#ff8800" d="M530.6,399.3l5.4,-2.4-5.4,-1.9-5.3,2.4z"/><path fill="#ff7d00" d="M552.1,398.7l5.3,-2.2-5.3,-2.1-5.4,2.2z"/><path fill="#ff8100" d="M541.3,398.9l5.4,-2.3-5.4,-2-5.3,2.3z"/><path fill="#fbff00" d="M471.9,407l5.3,-2.9-5.3,-1.3-5.3,3z"/><path fill="#ffba00" d="M610.8,403l5.3,-1.9-5.3,-2.7-5.3,1.9z"/><path fill="#ffe500" d="M482.6,405.5l5.3,-2.8-5.4,-1.4-5.3,2.8z"/><path fill="#ffa900" d="M600.1,402.3l5.4,-2-5.3,-2.6-5.4,2z"/><path fill="#ffcb00" d="M493.2,404.3l5.3,-2.7-5.3,-1.6-5.3,2.7z"/><path fill="#ff9b00" d="M589.5,401.7l5.3,-2-5.3,-2.6-5.4,2.1z"/><path fill="#ffb500" d="M503.9,403.2l5.3,-2.6-5.3,-1.7-5.4,2.7z"/><path fill="#ff9100" d="M578.8,401.3l5.3,-2.1-5.3,-2.5-5.3,2.1z"/><path fill="#ffa400" d="M514.6,402.4l5.3,-2.6-5.3,-1.8-5.4,2.6z"/><path fill="#ff8a00" d="M568.1,401l5.4,-2.2-5.4,-2.3-5.3,2.2z"/><path fill="#ff9600" d="M525.3,401.7l5.3,-2.4-5.3,-1.9-5.4,2.4z"/><path fill="#ff8800" d="M557.4,400.9l5.4,-2.2-5.4,-2.2-5.3,2.2z"/><path fill="#ff8e00" d="M536,401.3l5.3,-2.4-5.3,-2-5.4,2.4z"/><path fill="#ff8900" d="M546.7,401l5.4,-2.3-5.4,-2.1-5.4,2.3z"/><path fill="#e1ff00" d="M466.6,410l5.3,-3-5.3,-1.2-5.3,3z"/><path fill="#ffd100" d="M616.1,405.9l5.3,-2-5.3,-2.8-5.3,1.9z"/><path fill="#fffc00" d="M477.3,408.4l5.3,-2.9-5.4,-1.4-5.3,2.9z"/><path fill="#ffbe00" d="M605.4,405.1l5.4,-2.1-5.3,-2.7-5.4,2z"/><path fill="#ffe000" d="M487.9,407.1l5.3,-2.8-5.3,-1.6-5.3,2.8z"/><path fill="#ffae00" d="M594.8,404.4l5.3,-2.1-5.3,-2.6-5.3,2z"/><path fill="#ffc800" d="M498.6,405.9l5.3,-2.7-5.4,-1.6-5.3,2.7z"/><path fill="#ffa200" d="M584.1,403.8l5.4,-2.1-5.4,-2.5-5.3,2.1z"/><path fill="#ffb500" d="M509.2,405l5.4,-2.6-5.4,-1.8-5.3,2.6z"/><path fill="#ff9900" d="M573.4,403.5l5.4,-2.2-5.3,-2.5-5.4,2.2z"/><path fill="#ffa600" d="M519.9,404.2l5.4,-2.5-5.4,-1.9-5.3,2.6z"/><path fill="#ff9400" d="M562.7,403.3l5.4,-2.3-5.3,-2.3-5.4,2.2z"/><path fill="#ff9c00" d="M530.6,403.7l5.4,-2.4-5.4,-2-5.3,2.4z"/><path fill="#ff9200" d="M552,403.2l5.4,-2.3-5.3,-2.2-5.4,2.3z"/><path fill="#ff9500" d="M541.3,403.4l5.4,-2.4-5.4,-2.1-5.3,2.4z"/><path fill="#c7ff00" d="M461.3,413.1l5.3,-3.1-5.3,-1.2-5.3,3.1z"/><path fill="#ffe900" d="M621.3,408.9l5.4,-2-5.3,-3-5.3,2z"/><path fill="#eaff00" d="M472,411.4l5.3,-3-5.4,-1.4-5.3,3z"/><path fill="#ffd400" d="M610.7,408l5.4,-2.1-5.3,-2.9-5.4,2.1z"/><path fill="#fff600" d="M482.6,410l5.3,-2.9-5.3,-1.6-5.3,2.9z"/><path fill="#ffc200" d="M600.1,407.2l5.3,-2.1-5.3,-2.8-5.3,2.1z"/><path fill="#ffdd00" d="M493.2,408.7l5.4,-2.8-5.4,-1.6-5.3,2.8z"/><path fill="#ffb400" d="M589.4,406.5l5.4,-2.1-5.3,-2.7-5.4,2.1z"/><path fill="#ffc800" d="M503.9,407.7l5.3,-2.7-5.3,-1.8-5.3,2.7z"/><path fill="#ffa900" d="M578.8,406l5.3,-2.2-5.3,-2.5-5.4,2.2z"/><path fill="#ffb700" d="M514.6,406.9l5.3,-2.7-5.3,-1.8-5.4,2.6z"/><path fill="#ffa200" d="M568.1,405.7l5.3,-2.2-5.3,-2.5-5.4,2.3z"/><path fill="#ffab00" d="M525.3,406.3l5.3,-2.6-5.3,-2-5.4,2.5z"/><path fill="#ff9e00" d="M557.4,405.6l5.3,-2.3-5.3,-2.4-5.4,2.3z"/><path fill="#ffa300" d="M536,405.8l5.3,-2.4-5.3,-2.1-5.4,2.4z"/><path fill="#ff9f00" d="M546.7,405.6l5.3,-2.4-5.3,-2.2-5.4,2.4z"/><path fill="#abff00" d="M456.1,416.3l5.2,-3.2-5.3,-1.2-5.2,3.2z"/><path fill="#faff00" d="M626.6,412l5.3,-2-5.2,-3.1-5.4,2z"/><path fill="#d0ff00" d="M466.7,414.5l5.3,-3.1-5.4,-1.4-5.3,3.1z"/><path fill="#ffed00" d="M616,411l5.3,-2.1-5.2,-3-5.4,2.1z"/><path fill="#f0ff00" d="M477.3,412.9l5.3,-2.9-5.3,-1.6-5.3,3z"/><path fill="#ffd900" d="M605.4,410.1l5.3,-2.1-5.3,-2.9-5.3,2.1z"/><path fill="#fff300" d="M487.9,411.6l5.3,-2.9-5.3,-1.6-5.3,2.9z"/><path fill="#ffc800" d="M594.7,409.3l5.4,-2.1-5.3,-2.8-5.4,2.1z"/><path fill="#ffdc00" d="M498.6,410.5l5.3,-2.8-5.3,-1.8-5.4,2.8z"/><path fill="#ffbb00" d="M584.1,408.7l5.3,-2.2-5.3,-2.7-5.3,2.2z"/><path fill="#ffca00" d="M509.3,409.6l5.3,-2.7-5.4,-1.9-5.3,2.7z"/><path fill="#ffb200" d="M573.4,408.3l5.4,-2.3-5.4,-2.5-5.3,2.2z"/><path fill="#ffbc00" d="M520,408.9l5.3,-2.6-5.4,-2.1-5.3,2.7z"/><path fill="#ffac00" d="M562.7,408.1l5.4,-2.4-5.4,-2.4-5.3,2.3z"/><path fill="#ffb200" d="M530.6,408.4l5.4,-2.6-5.4,-2.1-5.3,2.6z"/><path fill="#ffaa00" d="M552,408l5.4,-2.4-5.4,-2.4-5.3,2.4z"/><path fill="#ffac00" d="M541.3,408.1l5.4,-2.5-5.4,-2.2-5.3,2.4z"/><path fill="#8fff00" d="M450.8,419.6l5.3,-3.3-5.3,-1.2-5.3,3.3z"/><path fill="#deff00" d="M631.9,415.3l5.3,-2.1-5.3,-3.2-5.3,2z"/><path fill="#b5ff00" d="M461.4,417.7l5.3,-3.2-5.4,-1.4-5.2,3.2z"/><path fill="#f7ff00" d="M621.3,414.1l5.3,-2.1-5.3,-3.1-5.3,2.1z"/><path fill="#d7ff00" d="M472,416l5.3,-3.1-5.3,-1.5-5.3,3.1z"/><path fill="#fff100" d="M610.7,413.1l5.3,-2.1-5.3,-3-5.3,2.1z"/><path fill="#f4ff00" d="M482.6,414.5l5.3,-2.9-5.3,-1.6-5.3,2.9z"/><path fill="#ffde00" d="M600,412.3l5.4,-2.2-5.3,-2.9-5.4,2.1z"/><path fill="#fff100" d="M493.3,413.3l5.3,-2.8-5.4,-1.8-5.3,2.9z"/><path fill="#ffcf00" d="M589.4,411.6l5.3,-2.3-5.3,-2.8-5.3,2.2z"/><path fill="#ffdd00" d="M503.9,412.3l5.4,-2.7-5.4,-1.9-5.3,2.8z"/><path fill="#ffc300" d="M578.7,411l5.4,-2.3-5.3,-2.7-5.4,2.3z"/><path fill="#ffbb00" d="M568.1,410.7l5.3,-2.4-5.3,-2.6-5.4,2.4z"/><path fill="#ffcd00" d="M514.6,411.6l5.4,-2.7-5.4,-2-5.3,2.7z"/><path fill="#ffb700" d="M557.4,410.5l5.3,-2.4-5.3,-2.5-5.4,2.4z"/><path fill="#ffc200" d="M525.3,411l5.3,-2.6-5.3,-2.1-5.3,2.6z"/><path fill="#ffb700" d="M546.7,410.4l5.3,-2.4-5.3,-2.4-5.4,2.5z"/><path fill="#ffba00" d="M536,410.6l5.3,-2.5-5.3,-2.3-5.4,2.6z"/><path fill="#70ff00" d="M445.6,422.9l5.2,-3.3-5.3,-1.2-5.2,3.4z"/><path fill="#c0ff00" d="M637.1,418.7l5.3,-2.1-5.2,-3.4-5.3,2.1z"/><path fill="#99ff00" d="M456.1,420.9l5.3,-3.2-5.3,-1.4-5.3,3.3z"/><path fill="#dbff00" d="M626.5,417.4l5.4,-2.1-5.3,-3.3-5.3,2.1z"/><path fill="#bdff00" d="M466.7,419.1l5.3,-3.1-5.3,-1.5-5.3,3.2z"/><path fill="#f3ff00" d="M615.9,416.3l5.4,-2.2-5.3,-3.1-5.3,2.1z"/><path fill="#dcff00" d="M477.3,417.6l5.3,-3.1-5.3,-1.6-5.3,3.1z"/><path fill="#fff600" d="M605.3,415.3l5.4,-2.2-5.3,-3-5.4,2.2z"/><path fill="#ffe500" d="M594.7,414.5l5.3,-2.2-5.3,-3-5.3,2.3z"/><path fill="#f6ff00" d="M488,416.3l5.3,-3-5.4,-1.7-5.3,2.9z"/><path fill="#ffd700" d="M584,413.9l5.4,-2.3-5.3,-2.9-5.4,2.3z"/><path fill="#fff100" d="M498.6,415.2l5.3,-2.9-5.3,-1.8-5.3,2.8z"/><path fill="#ffcd00" d="M573.4,413.4l5.3,-2.4-5.3,-2.7-5.3,2.4z"/><path fill="#ffe000" d="M509.3,414.3l5.3,-2.7-5.3,-2-5.4,2.7z"/><path fill="#ffc600" d="M562.7,413.1l5.4,-2.4-5.4,-2.6-5.3,2.4z"/><path fill="#ffd300" d="M520,413.7l5.3,-2.7-5.3,-2.1-5.4,2.7z"/><path fill="#ffc300" d="M552,412.9l5.4,-2.4-5.4,-2.5-5.3,2.4z"/><path fill="#ffc900" d="M530.7,413.2l5.3,-2.6-5.4,-2.2-5.3,2.6z"/><path fill="#ffc400" d="M541.3,413l5.4,-2.6-5.4,-2.3-5.3,2.5z"/><path fill="#51ff00" d="M440.3,426.4l5.3,-3.5-5.3,-1.1-5.3,3.4z"/><path fill="#a0ff00" d="M642.3,422.2l5.3,-2.2-5.2,-3.4-5.3,2.1z"/><path fill="#7cff00" d="M450.9,424.3l5.2,-3.4-5.3,-1.3-5.2,3.3z"/><path fill="#beff00" d="M631.8,420.8l5.3,-2.1-5.2,-3.4-5.4,2.1z"/><path fill="#d8ff00" d="M621.2,419.6l5.3,-2.2-5.2,-3.3-5.4,2.2z"/><path fill="#a2ff00" d="M461.4,422.4l5.3,-3.3-5.3,-1.4-5.3,3.2z"/><path fill="#eeff00" d="M610.6,418.5l5.3,-2.2-5.2,-3.2-5.4,2.2z"/><path fill="#c3ff00" d="M472,420.7l5.3,-3.1-5.3,-1.6-5.3,3.1z"/><path fill="#fffc00" d="M600,417.6l5.3,-2.3-5.3,-3-5.3,2.2z"/><path fill="#dfff00" d="M482.7,419.3l5.3,-3-5.4,-1.8-5.3,3.1z"/><path fill="#ffec00" d="M589.4,416.8l5.3,-2.3-5.3,-2.9-5.4,2.3z"/><path fill="#f7ff00" d="M493.3,418.1l5.3,-2.9-5.3,-1.9-5.3,3z"/><path fill="#ffe000" d="M578.7,416.2l5.3,-2.3-5.3,-2.9-5.3,2.4z"/><path fill="#fff400" d="M504,417.2l5.3,-2.9-5.4,-2-5.3,2.9z"/><path fill="#ffd700" d="M568,415.8l5.4,-2.4-5.3,-2.7-5.4,2.4z"/><path fill="#ffe500" d="M514.6,416.4l5.4,-2.7-5.4,-2.1-5.3,2.7z"/><path fill="#ffd200" d="M557.4,415.5l5.3,-2.4-5.3,-2.6-5.4,2.4z"/><path fill="#ffda00" d="M525.3,415.9l5.4,-2.7-5.4,-2.2-5.3,2.7z"/><path fill="#ffd100" d="M546.7,415.5l5.3,-2.6-5.3,-2.5-5.4,2.6z"/><path fill="#ffd300" d="M536,415.6l5.3,-2.6-5.3,-2.4-5.3,2.6z"/><path fill="#9eff00" d="M637,424.3l5.3,-2.1-5.2,-3.5-5.3,2.1z"/><path fill="#5eff00" d="M445.6,427.7l5.3,-3.4-5.3,-1.4-5.3,3.5z"/><path fill="#baff00" d="M626.5,423l5.3,-2.2-5.3,-3.4-5.3,2.2z"/><path fill="#85ff00" d="M456.2,425.7l5.2,-3.3-5.3,-1.5-5.2,3.4z"/><path fill="#d3ff00" d="M615.9,421.8l5.3,-2.2-5.3,-3.3-5.3,2.2z"/><path fill="#a8ff00" d="M466.8,423.9l5.2,-3.2-5.3,-1.6-5.3,3.3z"/><path fill="#e8ff00" d="M605.3,420.8l5.3,-2.3-5.3,-3.2-5.3,2.3z"/><path fill="#c7ff00" d="M477.4,422.4l5.3,-3.1-5.4,-1.7-5.3,3.1z"/><path fill="#fbff00" d="M594.7,419.9l5.3,-2.3-5.3,-3.1-5.3,2.3z"/><path fill="#e0ff00" d="M488,421.1l5.3,-3-5.3,-1.8-5.3,3z"/><path fill="#fff500" d="M584,419.2l5.4,-2.4-5.4,-2.9-5.3,2.3z"/><path fill="#f6ff00" d="M498.7,420.1l5.3,-2.9-5.4,-2-5.3,2.9z"/><path fill="#ffea00" d="M573.4,418.6l5.3,-2.4-5.3,-2.8-5.4,2.4z"/><path fill="#fff800" d="M509.3,419.3l5.3,-2.9-5.3,-2.1-5.3,2.9z"/><path fill="#ffe200" d="M562.7,418.3l5.3,-2.5-5.3,-2.7-5.3,2.4z"/><path fill="#ffeb00" d="M520,418.7l5.3,-2.8-5.3,-2.2-5.4,2.7z"/><path fill="#ffdf00" d="M552,418.1l5.4,-2.6-5.4,-2.6-5.3,2.6z"/><path fill="#ffe300" d="M530.7,418.3l5.3,-2.7-5.3,-2.4-5.4,2.7z"/><path fill="#ffdf00" d="M541.3,418.1l5.4,-2.6-5.4,-2.5-5.3,2.6z"/><path fill="#9bff00" d="M631.7,426.5l5.3,-2.2-5.2,-3.5-5.3,2.2z"/><path fill="#68ff00" d="M450.9,429.1l5.3,-3.4-5.3,-1.4-5.3,3.4z"/><path fill="#b6ff00" d="M621.1,425.2l5.4,-2.2-5.3,-3.4-5.3,2.2z"/><path fill="#8dff00" d="M461.5,427.2l5.3,-3.3-5.4,-1.5-5.2,3.3z"/><path fill="#cdff00" d="M610.5,424.1l5.4,-2.3-5.3,-3.3-5.3,2.3z"/><path fill="#adff00" d="M472.1,425.6l5.3,-3.2-5.4,-1.7-5.2,3.2z"/><path fill="#e2ff00" d="M599.9,423.1l5.4,-2.3-5.3,-3.2-5.3,2.3z"/><path fill="#c9ff00" d="M482.7,424.2l5.3,-3.1-5.3,-1.8-5.3,3.1z"/><path fill="#f3ff00" d="M589.3,422.3l5.4,-2.4-5.3,-3.1-5.4,2.4z"/><path fill="#e0ff00" d="M493.3,423.1l5.4,-3-5.4,-2-5.3,3z"/><path fill="#fffe00" d="M578.7,421.6l5.3,-2.4-5.3,-3-5.3,2.4z"/><path fill="#f2ff00" d="M504,422.2l5.3,-2.9-5.3,-2.1-5.3,2.9z"/><path fill="#fff400" d="M568,421.1l5.4,-2.5-5.4,-2.8-5.3,2.5z"/><path fill="#fffe00" d="M514.7,421.5l5.3,-2.8-5.4,-2.3-5.3,2.9z"/><path fill="#ffee00" d="M557.4,420.8l5.3,-2.5-5.3,-2.8-5.4,2.6z"/><path fill="#fff400" d="M525.3,421l5.4,-2.7-5.4,-2.4-5.3,2.8z"/><path fill="#ffec00" d="M546.7,420.7l5.3,-2.6-5.3,-2.6-5.4,2.6z"/><path fill="#ffee00" d="M536,420.8l5.3,-2.7-5.3,-2.5-5.3,2.7z"/><path fill="#97ff00" d="M626.4,428.8l5.3,-2.3-5.2,-3.5-5.4,2.2z"/><path fill="#71ff00" d="M456.2,430.6l5.3,-3.4-5.3,-1.5-5.3,3.4z"/><path fill="#b0ff00" d="M615.8,427.6l5.3,-2.4-5.2,-3.4-5.4,2.3z"/><path fill="#93ff00" d="M466.8,428.9l5.3,-3.3-5.3,-1.7-5.3,3.3z"/><path fill="#c7ff00" d="M605.2,426.4l5.3,-2.3-5.2,-3.3-5.4,2.3z"/><path fill="#b0ff00" d="M477.4,427.4l5.3,-3.2-5.3,-1.8-5.3,3.2z"/><path fill="#daff00" d="M594.6,425.5l5.3,-2.4-5.2,-3.2-5.4,2.4z"/><path fill="#c9ff00" d="M488,426.2l5.3,-3.1-5.3,-2-5.3,3.1z"/><path fill="#eaff00" d="M584,424.7l5.3,-2.4-5.3,-3.1-5.3,2.4z"/><path fill="#f6ff00" d="M573.3,424.1l5.4,-2.5-5.3,-3-5.4,2.5z"/><path fill="#ddff00" d="M498.7,425.2l5.3,-3-5.3,-2.1-5.4,3z"/><path fill="#feff00" d="M562.7,423.7l5.3,-2.6-5.3,-2.8-5.3,2.5z"/><path fill="#edff00" d="M509.3,424.4l5.4,-2.9-5.4,-2.2-5.3,2.9z"/><path fill="#fffb00" d="M552,423.4l5.4,-2.6-5.4,-2.7-5.3,2.6z"/><path fill="#f9ff00" d="M520,423.8l5.3,-2.8-5.3,-2.3-5.3,2.8z"/><path fill="#fffb00" d="M541.4,423.4l5.3,-2.7-5.4,-2.6-5.3,2.7z"/><path fill="#fffe00" d="M530.7,423.5l5.3,-2.7-5.3,-2.5-5.4,2.7z"/><path fill="#92ff00" d="M621.1,431.1l5.3,-2.3-5.3,-3.6-5.3,2.4z"/><path fill="#77ff00" d="M461.6,432.2l5.2,-3.3-5.3,-1.7-5.3,3.4z"/><path fill="#aaff00" d="M610.5,429.9l5.3,-2.3-5.3,-3.5-5.3,2.3z"/><path fill="#c0ff00" d="M599.9,428.8l5.3,-2.4-5.3,-3.3-5.3,2.4z"/><path fill="#96ff00" d="M472.1,430.6l5.3,-3.2-5.3,-1.8-5.3,3.3z"/><path fill="#d2ff00" d="M589.3,427.9l5.3,-2.4-5.3,-3.2-5.3,2.4z"/><path fill="#b1ff00" d="M482.8,429.3l5.2,-3.1-5.3,-2-5.3,3.2z"/><path fill="#e0ff00" d="M578.6,427.2l5.4,-2.5-5.3,-3.1-5.4,2.5z"/><path fill="#c7ff00" d="M493.4,428.2l5.3,-3-5.4,-2.1-5.3,3.1z"/><path fill="#ebff00" d="M568,426.7l5.3,-2.6-5.3,-3-5.3,2.6z"/><path fill="#d9ff00" d="M504,427.4l5.3,-3-5.3,-2.2-5.3,3z"/><path fill="#f2ff00" d="M557.4,426.3l5.3,-2.6-5.3,-2.9-5.4,2.6z"/><path fill="#e6ff00" d="M514.7,426.7l5.3,-2.9-5.3,-2.3-5.4,2.9z"/><path fill="#f5ff00" d="M546.7,426.1l5.3,-2.7-5.3,-2.7-5.3,2.7z"/><path fill="#efff00" d="M525.4,426.3l5.3,-2.8-5.4,-2.5-5.3,2.8z"/><path fill="#f4ff00" d="M536,426.1l5.4,-2.7-5.4,-2.6-5.3,2.7z"/><path fill="#8cff00" d="M615.7,433.5l5.4,-2.4-5.3,-3.5-5.3,2.3z"/><path fill="#a4ff00" d="M605.2,432.3l5.3,-2.4-5.3,-3.5-5.3,2.4z"/><path fill="#7cff00" d="M466.9,434l5.2,-3.4-5.3,-1.7-5.2,3.3z"/><path fill="#b8ff00" d="M594.6,431.3l5.3,-2.5-5.3,-3.3-5.3,2.4z"/><path fill="#98ff00" d="M477.5,432.5l5.3,-3.2-5.4,-1.9-5.3,3.2z"/><path fill="#c8ff00" d="M583.9,430.4l5.4,-2.5-5.3,-3.2-5.4,2.5z"/><path fill="#b0ff00" d="M488.1,431.4l5.3,-3.2-5.4,-2-5.2,3.1z"/><path fill="#d5ff00" d="M573.3,429.8l5.3,-2.6-5.3,-3.1-5.3,2.6z"/><path fill="#c3ff00" d="M498.7,430.4l5.3,-3-5.3,-2.2-5.3,3z"/><path fill="#dfff00" d="M562.7,429.3l5.3,-2.6-5.3,-3-5.3,2.6z"/><path fill="#d2ff00" d="M509.4,429.7l5.3,-3-5.4,-2.3-5.3,3z"/><path fill="#e4ff00" d="M552,428.9l5.4,-2.6-5.4,-2.9-5.3,2.7z"/><path fill="#ddff00" d="M520,429.2l5.4,-2.9-5.4,-2.5-5.3,2.9z"/><path fill="#e6ff00" d="M541.4,428.8l5.3,-2.7-5.3,-2.7-5.4,2.7z"/><path fill="#e3ff00" d="M530.7,428.9l5.3,-2.8-5.3,-2.6-5.3,2.8z"/><path fill="#86ff00" d="M610.4,435.9l5.3,-2.4-5.2,-3.6-5.3,2.4z"/><path fill="#9cff00" d="M599.8,434.8l5.4,-2.5-5.3,-3.5-5.3,2.5z"/><path fill="#7fff00" d="M472.2,435.8l5.3,-3.3-5.4,-1.9-5.2,3.4z"/><path fill="#afff00" d="M589.2,433.8l5.4,-2.5-5.3,-3.4-5.4,2.5z"/><path fill="#98ff00" d="M482.8,434.6l5.3,-3.2-5.3,-2.1-5.3,3.2z"/><path fill="#beff00" d="M578.6,433l5.3,-2.6-5.3,-3.2-5.3,2.6z"/><path fill="#adff00" d="M493.4,433.5l5.3,-3.1-5.3,-2.2-5.3,3.2z"/><path fill="#caff00" d="M568,432.4l5.3,-2.6-5.3,-3.1-5.3,2.6z"/><path fill="#beff00" d="M504.1,432.7l5.3,-3-5.4,-2.3-5.3,3z"/><path fill="#d2ff00" d="M557.3,431.9l5.4,-2.6-5.3,-3-5.4,2.6z"/><path fill="#caff00" d="M514.7,432.1l5.3,-2.9-5.3,-2.5-5.3,3z"/><path fill="#d6ff00" d="M546.7,431.7l5.3,-2.8-5.3,-2.8-5.3,2.7z"/><path fill="#d2ff00" d="M525.4,431.8l5.3,-2.9-5.3,-2.6-5.4,2.9z"/><path fill="#d6ff00" d="M536,431.6l5.4,-2.8-5.4,-2.7-5.3,2.8z"/><path fill="#7fff00" d="M605.1,438.4l5.3,-2.5-5.2,-3.6-5.4,2.5z"/><path fill="#94ff00" d="M594.5,437.3l5.3,-2.5-5.2,-3.5-5.4,2.5z"/><path fill="#80ff00" d="M477.5,437.8l5.3,-3.2-5.3,-2.1-5.3,3.3z"/><path fill="#a5ff00" d="M583.9,436.4l5.3,-2.6-5.3,-3.4-5.3,2.6z"/><path fill="#b3ff00" d="M573.3,435.6l5.3,-2.6-5.3,-3.2-5.3,2.6z"/><path fill="#96ff00" d="M488.1,436.7l5.3,-3.2-5.3,-2.1-5.3,3.2z"/><path fill="#beff00" d="M562.7,435l5.3,-2.6-5.3,-3.1-5.4,2.6z"/><path fill="#a9ff00" d="M498.8,435.8l5.3,-3.1-5.4,-2.3-5.3,3.1z"/><path fill="#c4ff00" d="M552,434.6l5.3,-2.7-5.3,-3-5.3,2.8z"/><path fill="#b7ff00" d="M509.4,435.1l5.3,-3-5.3,-2.4-5.3,3z"/><path fill="#c7ff00" d="M541.4,434.5l5.3,-2.8-5.3,-2.9-5.4,2.8z"/><path fill="#c0ff00" d="M520.1,434.7l5.3,-2.9-5.4,-2.6-5.3,2.9z"/><path fill="#c6ff00" d="M530.7,434.5l5.3,-2.9-5.3,-2.7-5.3,2.9z"/><path fill="#77ff00" d="M599.8,440.9l5.3,-2.5-5.3,-3.6-5.3,2.5z"/><path fill="#8bff00" d="M589.2,439.9l5.3,-2.6-5.3,-3.5-5.3,2.6z"/><path fill="#9bff00" d="M578.6,439l5.3,-2.6-5.3,-3.4-5.3,2.6z"/><path fill="#7fff00" d="M482.9,439.9l5.2,-3.2-5.3,-2.1-5.3,3.2z"/><path fill="#a8ff00" d="M568,438.3l5.3,-2.7-5.3,-3.2-5.3,2.6z"/><path fill="#93ff00" d="M493.5,438.9l5.3,-3.1-5.4,-2.3-5.3,3.2z"/><path fill="#b1ff00" d="M557.3,437.7l5.4,-2.7-5.4,-3.1-5.3,2.7z"/><path fill="#a2ff00" d="M504.1,438.2l5.3,-3.1-5.3,-2.4-5.3,3.1z"/><path fill="#b6ff00" d="M546.7,437.4l5.3,-2.8-5.3,-2.9-5.3,2.8z"/><path fill="#adff00" d="M514.8,437.7l5.3,-3-5.4,-2.6-5.3,3z"/><path fill="#b7ff00" d="M536.1,437.3l5.3,-2.8-5.4,-2.9-5.3,2.9z"/><path fill="#b4ff00" d="M525.4,437.4l5.3,-2.9-5.3,-2.7-5.3,2.9z"/><path fill="#6eff00" d="M594.5,443.5l5.3,-2.6-5.3,-3.6-5.3,2.6z"/><path fill="#81ff00" d="M583.9,442.5l5.3,-2.6-5.3,-3.5-5.3,2.6z"/><path fill="#90ff00" d="M573.3,441.6l5.3,-2.6-5.3,-3.4-5.3,2.7z"/><path fill="#7cff00" d="M488.2,442.2l5.3,-3.3-5.4,-2.2-5.2,3.2z"/><path fill="#9cff00" d="M562.7,441l5.3,-2.7-5.3,-3.3-5.4,2.7z"/><path fill="#8dff00" d="M498.8,441.3l5.3,-3.1-5.3,-2.4-5.3,3.1z"/><path fill="#a3ff00" d="M552,440.5l5.3,-2.8-5.3,-3.1-5.3,2.8z"/><path fill="#9aff00" d="M509.5,440.7l5.3,-3-5.4,-2.6-5.3,3.1z"/><path fill="#a7ff00" d="M541.4,440.2l5.3,-2.8-5.3,-2.9-5.3,2.8z"/><path fill="#a2ff00" d="M520.1,440.3l5.3,-2.9-5.3,-2.7-5.3,3z"/><path fill="#a7ff00" d="M530.7,440.2l5.4,-2.9-5.4,-2.8-5.3,2.9z"/><path fill="#65ff00" d="M589.2,446.1l5.3,-2.6-5.3,-3.6-5.3,2.6z"/><path fill="#77ff00" d="M578.6,445.1l5.3,-2.6-5.3,-3.5-5.3,2.6z"/><path fill="#85ff00" d="M568,444.3l5.3,-2.7-5.3,-3.3-5.3,2.7z"/><path fill="#77ff00" d="M493.5,444.5l5.3,-3.2-5.3,-2.4-5.3,3.3z"/><path fill="#8fff00" d="M557.3,443.7l5.4,-2.7-5.4,-3.3-5.3,2.8z"/><path fill="#86ff00" d="M504.2,443.8l5.3,-3.1-5.4,-2.5-5.3,3.1z"/><path fill="#95ff00" d="M546.7,443.3l5.3,-2.8-5.3,-3.1-5.3,2.8z"/><path fill="#90ff00" d="M514.8,443.4l5.3,-3.1-5.3,-2.6-5.3,3z"/><path fill="#97ff00" d="M536.1,443.1l5.3,-2.9-5.3,-2.9-5.4,2.9z"/><path fill="#96ff00" d="M525.4,443.1l5.3,-2.9-5.3,-2.8-5.3,2.9z"/><path fill="#5cff00" d="M583.9,448.7l5.3,-2.6-5.3,-3.6-5.3,2.6z"/><path fill="#6cff00" d="M573.3,447.8l5.3,-2.7-5.3,-3.5-5.3,2.7z"/><path fill="#78ff00" d="M562.6,447.1l5.4,-2.8-5.3,-3.3-5.4,2.7z"/><path fill="#81ff00" d="M552,446.5l5.3,-2.8-5.3,-3.2-5.3,2.8z"/><path fill="#71ff00" d="M498.9,447l5.3,-3.2-5.4,-2.5-5.3,3.2z"/><path fill="#86ff00" d="M541.4,446.2l5.3,-2.9-5.3,-3.1-5.3,2.9z"/><path fill="#7cff00" d="M509.5,446.5l5.3,-3.1-5.3,-2.7-5.3,3.1z"/><path fill="#87ff00" d="M530.8,446.1l5.3,-3-5.4,-2.9-5.3,2.9z"/><path fill="#84ff00" d="M520.1,446.1l5.3,-3-5.3,-2.8-5.3,3.1z"/><path fill="#51ff00" d="M578.5,451.4l5.4,-2.7-5.3,-3.6-5.3,2.7z"/><path fill="#60ff00" d="M567.9,450.6l5.4,-2.8-5.3,-3.5-5.4,2.8z"/><path fill="#6cff00" d="M557.3,449.9l5.3,-2.8-5.3,-3.4-5.3,2.8z"/><path fill="#73ff00" d="M546.7,449.4l5.3,-2.9-5.3,-3.2-5.3,2.9z"/><path fill="#68ff00" d="M504.2,449.6l5.3,-3.1-5.3,-2.7-5.3,3.2z"/><path fill="#76ff00" d="M536.1,449.1l5.3,-2.9-5.3,-3.1-5.3,3z"/><path fill="#71ff00" d="M514.8,449.2l5.3,-3.1-5.3,-2.7-5.3,3.1z"/><path fill="#76ff00" d="M525.5,449.1l5.3,-3-5.4,-3-5.3,3z"/><path fill="#47ff00" d="M573.2,454.2l5.3,-2.8-5.2,-3.6-5.4,2.8z"/><path fill="#54ff00" d="M562.6,453.3l5.3,-2.7-5.3,-3.5-5.3,2.8z"/><path fill="#5eff00" d="M552,452.7l5.3,-2.8-5.3,-3.4-5.3,2.9z"/><path fill="#64ff00" d="M541.4,452.3l5.3,-2.9-5.3,-3.2-5.3,2.9z"/><path fill="#5eff00" d="M509.5,452.3l5.3,-3.1-5.3,-2.7-5.3,3.1z"/><path fill="#66ff00" d="M530.8,452.1l5.3,-3-5.3,-3-5.3,3z"/><path fill="#64ff00" d="M520.2,452.1l5.3,-3-5.4,-3-5.3,3.1z"/><path fill="#3bff00" d="M567.9,456.9l5.3,-2.7-5.3,-3.6-5.3,2.7z"/><path fill="#48ff00" d="M557.3,456.2l5.3,-2.9-5.3,-3.4-5.3,2.8z"/><path fill="#50ff00" d="M546.7,455.6l5.3,-2.9-5.3,-3.3-5.3,2.9z"/><path fill="#55ff00" d="M536.1,455.2l5.3,-2.9-5.3,-3.2-5.3,3z"/><path fill="#55ff00" d="M525.5,455.1l5.3,-3-5.3,-3-5.3,3z"/><path fill="#52ff00" d="M514.9,455.2l5.3,-3.1-5.4,-2.9-5.3,3.1z"/><path fill="#2fff00" d="M562.6,459.8l5.3,-2.9-5.3,-3.6-5.3,2.9z"/><path fill="#3aff00" d="M552,459l5.3,-2.8-5.3,-3.5-5.3,2.9z"/><path fill="#42ff00" d="M541.4,458.5l5.3,-2.9-5.3,-3.3-5.3,2.9z"/><path fill="#45ff00" d="M530.8,458.2l5.3,-3-5.3,-3.1-5.3,3z"/><path fill="#44ff00" d="M520.2,458.2l5.3,-3.1-5.3,-3-5.3,3.1z"/><path fill="#23ff00" d="M557.3,462.6l5.3,-2.8-5.3,-3.6-5.3,2.8z"/><path fill="#2dff00" d="M546.7,462l5.3,-3-5.3,-3.4-5.3,2.9z"/><path fill="#33ff00" d="M536.1,461.5l5.3,-3-5.3,-3.3-5.3,3z"/><path fill="#35ff00" d="M525.5,461.3l5.3,-3.1-5.3,-3.1-5.3,3.1z"/><path fill="#16ff00" d="M552.1,465.5l5.2,-2.9-5.3,-3.6-5.3,3z"/><path fill="#1fff00" d="M541.5,464.9l5.2,-2.9-5.3,-3.5-5.3,3z"/><path fill="#23ff00" d="M530.9,464.5l5.2,-3-5.3,-3.3-5.3,3.1z"/><path fill="#09ff00" d="M546.8,468.4l5.3,-2.9-5.4,-3.5-5.2,2.9z"/><path fill="#10ff00" d="M536.2,467.9l5.3,-3-5.4,-3.4-5.2,3z"/><path fill="#00ff05" d="M541.5,471.4l5.3,-3-5.3,-3.5-5.3,3z"/></g>
<circle cx="541.3" cy="408.8" r="2.6" fill="#b00010" stroke="#600" stroke-width="0.4"/>
<path d="M437.4,776.4 541.1,741.3 644.7,776.2 M436.6,758.9 541.2,725.6 645.6,758.8 M435.9,741.4 541.2,709.9 646.5,741.4 M435.1,723.8 541.3,694.1 647.3,724 M434.3,706.3 541.4,678.4 648.2,706.6 M433.5,688.8 541.4,662.7 649.1,689.2 M432.7,671.3 541.5,647 650,671.8 M463.4,767.6 459.9,665.2 M489.3,758.8 487.1,659.1 M515.2,750 514.3,653.1 M624,769.2 628.3,666.8 M603.3,762.2 606.6,661.9 M582.5,755.2 584.9,656.9 M561.8,748.3 563.2,652 M439,811.4 432.7,671.3 M541,772.7 541.5,647 M642.9,811 650,671.8" fill="none" stroke="#6c6c6c" stroke-width="0.8"/>
<path d="M437.4,776.4h.1 M436.6,758.9h.1 M435.9,741.4h.1 M435.1,723.8h.1 M434.3,706.3h.1 M433.5,688.8h.1 M432.7,671.3h.1" stroke="#111" stroke-width="2.2" stroke-linecap="round"/>
<path d="M541.3,860.5 642.9,811 541,772.7 439,811.4z" fill="#5e5e5e" stroke="#3c3c3c" stroke-width="0.7"/>
<path d="M593.1,835.3l0.3,-0.6 0.3,-0.8 0.4,-0.8 0.3,-0.8 0.3,-0.6 0.3,-0.6 0.3,-0.7 0.4,-0.8 0.4,-0.7 0.4,-0.8 0.3,-0.7 0.3,-0.6 0.4,-0.6 0.4,-0.7 0.4,-0.8 0.4,-0.7 0.4,-0.7 0.4,-0.8 0.4,-0.7 0.4,-0.6 0.4,-0.6 0.4,-0.7 0.4,-0.6 0.4,-0.7 0.5,-0.8 0.4,-0.7 0.5,-0.7 0.4,-0.7 0.5,-0.7 0.5,-0.7 0.4,-0.7 0.5,-0.7 0.5,-0.7 0.5,-0.6 0.4,-0.7 0.5,-0.6 0.5,-0.7 0.4,-0.7 0.5,-0.6 0.5,-0.7 0.5,-0.7 0.5,-0.6 0.5,-0.7 0.5,-0.7 0.5,-0.6 0.6,-0.7 0.5,-0.7 0.5,-0.6 0.6,-0.7 0.5,-0.7 0.3,-0.4M453.7,805.8l0.4,0.7 0.4,0.7 0.4,0.8 0.4,0.6 0.3,0.6 0.3,0.6 0.4,0.7 0.4,0.7 0.4,0.8 0.3,0.7 0.3,0.6 0.3,0.5 0.4,0.7 0.4,0.8 0.4,0.7 0.3,0.8 0.3,0.6 0.3,0.5 0.4,0.8 0.3,0.7 0.4,0.8 0.3,0.7 0.3,0.6 0.3,0.6 0.3,0.5" fill="none" stroke="#6ce70e" stroke-width="1.3"/>
<path d="M547.6,857.4l0.3,-0.6 0.4,-0.8 0.4,-0.8 0.4,-0.8 0.5,-0.8 0.4,-0.7 0.5,-0.8 0.4,-0.7 0.5,-0.7 0.4,-0.7 0.5,-0.7 0.4,-0.7 0.5,-0.7 0.5,-0.8 0.5,-0.7 0.6,-0.7 0.5,-0.7 0.5,-0.8 0.6,-0.7 0.5,-0.8 0.6,-0.7 0.6,-0.8 0.5,-0.7 0.6,-0.7 0.5,-0.6 0.6,-0.7 0.5,-0.7 0.6,-0.7 0.5,-0.7 0.6,-0.7 0.6,-0.7 0.5,-0.7 0.6,-0.7 0.7,-0.7 0.6,-0.8 0.7,-0.8 0.6,-0.7 0.6,-0.6 0.6,-0.7 0.5,-0.7 0.6,-0.6 0.6,-0.7 0.6,-0.7 0.7,-0.7 0.7,-0.8 0.7,-0.8 0.6,-0.6 0.6,-0.7 0.6,-0.6 0.6,-0.7 0.6,-0.6 0.6,-0.7 0.8,-0.8 0.7,-0.8 0.6,-0.6 0.6,-0.6 0.6,-0.7 0.6,-0.6 0.6,-0.7 0.8,-0.8 0.7,-0.7 0.7,-0.7 0.6,-0.6 0.6,-0.6 0.6,-0.7 0.7,-0.7 0.8,-0.7 0.7,-0.8 0.6,-0.6 0.6,-0.6 0.6,-0.6 0.7,-0.6 0.8,-0.8 0.7,-0.8 0.7,-0.6 0.6,-0.6 0.6,-0.6 0.6,-0.6 0.9,-0.8 0.7,-0.8 0.7,-0.6 0.6,-0.6 0.6,-0.6 0.7,-0.6 0.9,-0.8 0.7,-0.7 0.6,-0.6 0.6,-0.6 0.7,-0.6 0.3,-0.3M469.5,799.8l0.6,0.7 0.5,0.6 0.5,0.7 0.5,0.6 0.6,0.7 0.5,0.6 0.5,0.7 0.6,0.7 0.5,0.6 0.5,0.7 0.6,0.6 0.5,0.7 0.5,0.6 0.6,0.7 0.5,0.7 0.6,0.7 0.5,0.7 0.6,0.7 0.6,0.7 0.5,0.7 0.6,0.7 0.6,0.7 0.5,0.7 0.6,0.7 0.6,0.7 0.5,0.7 0.5,0.6 0.6,0.7 0.5,0.7 0.6,0.7 0.5,0.6 0.6,0.7 0.5,0.7 0.5,0.7 0.6,0.6 0.5,0.7 0.6,0.7 0.5,0.7 0.6,0.7 0.5,0.7 0.6,0.7 0.5,0.6 0.6,0.8 0.6,0.7 0.6,0.7 0.5,0.8 0.6,0.7 0.6,0.7 0.6,0.8 0.6,0.7 0.5,0.7 0.5,0.7 0.6,0.7 0.5,0.7 0.6,0.7 0.5,0.7 0.6,0.7 0.5,0.7 0.5,0.8 0.6,0.7 0.5,0.7 0.3,0.4" fill="none" stroke="#cbe70e" stroke-width="1.3"/>
<path d="M487.9,792.8l0.7,0.6 1.2,0.8 0.7,0.6 0.8,0.5 1.1,0.8 0.8,0.6 1.1,0.8 0.9,0.5 0.9,0.7 1.1,0.6 1,0.7 1.1,0.6 1.2,0.8 0.9,0.5 1.3,0.8 1.2,0.6 1.1,0.6 1.4,0.7 1.5,0.7 1.5,0.7 1.5,0.7 1.6,0.6 1.7,0.6 1.7,0.6 1.2,0.4 1.9,0.5 1.3,0.4 1.3,0.3 1.6,0.3 1.6,0.2 1.4,0.2 1.6,0.2 1.8,0.1 1.4,0 1.6,0 1.4,-0 1.8,-0.1 1.7,-0.2 1.4,-0.2 1.6,-0.2 1.5,-0.3 1.3,-0.3 1.4,-0.3 1.9,-0.5 1.2,-0.3 1.8,-0.6 1.3,-0.4 1.5,-0.6 1.7,-0.6 1.6,-0.6 1.5,-0.7 1.5,-0.7 1.5,-0.6 1.5,-0.7 1.4,-0.7 0.9,-0.5 1.4,-0.7 1.4,-0.8 1.4,-0.7 0.9,-0.5 1.3,-0.7 1.1,-0.7 1.1,-0.6 1.3,-0.7 0.8,-0.5 1.3,-0.8 0.9,-0.5 1.2,-0.7 1,-0.7 1.1,-0.6 1.1,-0.7 0.9,-0.6 1.1,-0.7 1,-0.6 1,-0.6 0.2,-0.2" fill="none" stroke="#e7a30e" stroke-width="1.3"/>
<path d="M514.5,782.7l1.9,0.5 1.3,0.3 1.3,0.3 1.8,0.4 1.7,0.3 1.5,0.3 1.5,0.2 1.6,0.2 1.5,0.1 1.2,0.1 1.6,0.1 1.9,0.1 1.1,-0 2,-0 1,-0 1.8,-0.1 1.8,-0.1 1.2,-0.1 1.4,-0.2 1.6,-0.1 1.5,-0.2 1.5,-0.3 1.6,-0.2 1.9,-0.4 1.4,-0.3 1.4,-0.3 1.7,-0.4 1.5,-0.3 1.2,-0.4 1.8,-0.5 1.7,-0.5 0.7,-0.2" fill="none" stroke="#e7340e" stroke-width="1.3"/>
<path d="M520.9,780.3l1.5,0.3 1.4,0.2 1.5,0.2 1.6,0.2 1.7,0.2 1.6,0.1 1.2,0.1 1.6,0.1 1.7,0 1.2,0 1.9,-0 1.4,-0 1.4,-0.1 1.8,-0.1 1.6,-0.2 1.5,-0.1 1.4,-0.2 1.6,-0.2 1.6,-0.3 1.6,-0.2 1.4,-0.3 1.4,-0.3 1.5,-0.3 1.8,-0.4-0,0" fill="none" stroke="#e71f0e" stroke-width="1.3"/>
<path d="M565.9,847.6l1.6,1M591.3,835.2l1.6,1M616.7,822.9l1.6,1M540.5,860l1.6,1M642.1,810.5l1.6,1M521.6,850.2l-1.6,1M501.2,840.4l-1.6,1M480.7,830.5l-1.6,1M460.3,820.7l-1.6,1M542.1,860l-1.6,1M439.8,810.9l-1.6,1" stroke="#000" stroke-width="1.5"/>
<g stroke="#303030" stroke-width="0.4" stroke-linejoin="round"><path fill="#ff0000" d="M541.4,672.1l5.4,-2.1-5.4,-2.3-5.4,2.2z"/><path fill="#ff0400" d="M546.8,674.5l5.3,-2-5.3,-2.5-5.4,2.1z"/><path fill="#ff0100" d="M536,674.2l5.4,-2.1-5.4,-2.2-5.3,2.2z"/><path fill="#ff1700" d="M552.1,676.9l5.4,-1.8-5.4,-2.6-5.3,2z"/><path fill="#ff1000" d="M541.4,676.5l5.4,-2-5.4,-2.4-5.4,2.1z"/><path fill="#ff1000" d="M530.6,676.5l5.4,-2.3-5.3,-2.1-5.4,2.3z"/><path fill="#ff2d00" d="M557.5,679.6l5.3,-1.8-5.3,-2.7-5.4,1.8z"/><path fill="#ff2100" d="M546.7,678.9l5.4,-2-5.3,-2.4-5.4,2z"/><path fill="#ff2100" d="M525.3,678.8l5.3,-2.3-5.3,-2.1-5.4,2.4z"/><path fill="#ff1d00" d="M536,678.6l5.4,-2.1-5.4,-2.3-5.4,2.3z"/><path fill="#ff4400" d="M562.8,682.3l5.4,-1.7-5.4,-2.8-5.3,1.8z"/><path fill="#ff3400" d="M552.1,681.4l5.4,-1.8-5.4,-2.7-5.4,2z"/><path fill="#ff3300" d="M519.9,681.2l5.4,-2.4-5.4,-2-5.4,2.6z"/><path fill="#ff2b00" d="M541.4,680.9l5.3,-2-5.3,-2.4-5.4,2.1z"/><path fill="#ff2b00" d="M530.6,680.8l5.4,-2.2-5.4,-2.1-5.3,2.3z"/><path fill="#ff5e00" d="M568.1,685.2l5.4,-1.6-5.3,-3-5.4,1.7z"/><path fill="#ff4900" d="M557.4,684l5.4,-1.7-5.3,-2.7-5.4,1.8z"/><path fill="#ff4700" d="M514.6,683.7l5.3,-2.5-5.4,-1.8-5.3,2.6z"/><path fill="#ff3c00" d="M546.7,683.3l5.4,-1.9-5.4,-2.5-5.3,2z"/><path fill="#ff3b00" d="M525.3,683.1l5.3,-2.3-5.3,-2-5.4,2.4z"/><path fill="#ff3700" d="M536,683l5.4,-2.1-5.4,-2.3-5.4,2.2z"/><path fill="#ff7900" d="M573.5,688.1l5.3,-1.4-5.3,-3.1-5.4,1.6z"/><path fill="#ff6000" d="M562.8,686.8l5.3,-1.6-5.3,-2.9-5.4,1.7z"/><path fill="#ff4f00" d="M552.1,685.8l5.3,-1.8-5.3,-2.6-5.4,1.9z"/><path fill="#ff5c00" d="M509.2,686.3l5.4,-2.6-5.4,-1.7-5.4,2.7z"/><path fill="#ff4600" d="M541.4,685.3l5.3,-2-5.3,-2.4-5.4,2.1z"/><path fill="#ff4c00" d="M519.9,685.5l5.4,-2.4-5.4,-1.9-5.3,2.5z"/><path fill="#ff4500" d="M530.6,685.2l5.4,-2.2-5.4,-2.2-5.3,2.3z"/><path fill="#ff9600" d="M578.8,691.3l5.3,-1.4-5.3,-3.2-5.3,1.4z"/><path fill="#ff7800" d="M568.1,689.7l5.4,-1.6-5.4,-2.9-5.3,1.6z"/><path fill="#ff6300" d="M557.4,688.5l5.4,-1.7-5.4,-2.8-5.3,1.8z"/><path fill="#ff7300" d="M503.9,689l5.3,-2.7-5.4,-1.6-5.3,2.8z"/><path fill="#ff5600" d="M546.7,687.7l5.4,-1.9-5.4,-2.5-5.3,2z"/><path fill="#ff5f00" d="M514.6,688l5.3,-2.5-5.3,-1.8-5.4,2.6z"/><path fill="#ff5100" d="M536,687.4l5.4,-2.1-5.4,-2.3-5.4,2.2z"/><path fill="#ff5400" d="M525.3,687.5l5.3,-2.3-5.3,-2.1-5.4,2.4z"/><path fill="#ffb500" d="M584.1,694.5l5.3,-1.2-5.3,-3.4-5.3,1.4z"/><path fill="#ff9300" d="M573.4,692.7l5.4,-1.4-5.3,-3.2-5.4,1.6z"/><path fill="#ff7a00" d="M562.8,691.3l5.3,-1.6-5.3,-2.9-5.4,1.7z"/><path fill="#ff8a00" d="M498.5,691.8l5.4,-2.8-5.4,-1.5-5.3,2.9z"/><path fill="#ff6800" d="M552.1,690.3l5.3,-1.8-5.3,-2.7-5.4,1.9z"/><path fill="#ff7300" d="M509.2,690.6l5.4,-2.6-5.4,-1.7-5.3,2.7z"/><path fill="#ff5e00" d="M541.3,689.7l5.4,-2-5.3,-2.4-5.4,2.1z"/><path fill="#ff6400" d="M519.9,689.9l5.4,-2.4-5.4,-2-5.3,2.5z"/><path fill="#ff5d00" d="M530.6,689.6l5.4,-2.2-5.4,-2.2-5.3,2.3z"/><path fill="#ffd600" d="M589.4,697.9l5.3,-1.1-5.3,-3.5-5.3,1.2z"/><path fill="#ffb000" d="M578.7,695.8l5.4,-1.3-5.3,-3.2-5.4,1.4z"/><path fill="#ff9200" d="M568.1,694.2l5.3,-1.5-5.3,-3-5.3,1.6z"/><path fill="#ffa400" d="M493.2,694.7l5.3,-2.9-5.3,-1.4-5.4,3z"/><path fill="#ff7c00" d="M557.4,693l5.4,-1.7-5.4,-2.8-5.3,1.8z"/><path fill="#ff8900" d="M503.9,693.3l5.3,-2.7-5.3,-1.6-5.4,2.8z"/><path fill="#ff6e00" d="M546.7,692.2l5.4,-1.9-5.4,-2.6-5.4,2z"/><path fill="#ff7600" d="M514.6,692.4l5.3,-2.5-5.3,-1.9-5.4,2.6z"/><path fill="#ff6900" d="M536,691.8l5.3,-2.1-5.3,-2.3-5.4,2.2z"/><path fill="#ff6b00" d="M525.3,691.9l5.3,-2.3-5.3,-2.1-5.4,2.4z"/><path fill="#fff900" d="M594.6,701.4l5.3,-1-5.2,-3.6-5.3,1.1z"/><path fill="#ffce00" d="M584,699.1l5.4,-1.2-5.3,-3.4-5.4,1.3z"/><path fill="#ffac00" d="M573.4,697.2l5.3,-1.4-5.3,-3.1-5.3,1.5z"/><path fill="#ffbf00" d="M487.9,697.7l5.3,-3-5.4,-1.3-5.3,3.1z"/><path fill="#ff9200" d="M562.7,695.8l5.4,-1.6-5.3,-2.9-5.4,1.7z"/><path fill="#ffa000" d="M498.5,696.1l5.4,-2.8-5.4,-1.5-5.3,2.9z"/><path fill="#ff8000" d="M552,694.7l5.4,-1.7-5.3,-2.7-5.4,1.9z"/><path fill="#ff8900" d="M509.2,695l5.4,-2.6-5.4,-1.8-5.3,2.7z"/><path fill="#ff7600" d="M541.3,694.2l5.4,-2-5.4,-2.5-5.3,2.1z"/><path fill="#ff7a00" d="M519.9,694.3l5.4,-2.4-5.4,-2-5.3,2.5z"/><path fill="#ff7400" d="M530.6,694l5.4,-2.2-5.4,-2.2-5.3,2.3z"/><path fill="#e0ff00" d="M599.9,705l5.3,-0.9-5.3,-3.7-5.3,1z"/><path fill="#ffef00" d="M589.3,702.5l5.3,-1.1-5.2,-3.5-5.4,1.2z"/><path fill="#ffc800" d="M578.7,700.4l5.3,-1.3-5.3,-3.3-5.3,1.4z"/><path fill="#ffdb00" d="M482.6,700.8l5.3,-3.1-5.4,-1.2-5.3,3.2z"/><path fill="#ffaa00" d="M568.1,698.7l5.3,-1.5-5.3,-3-5.4,1.6z"/><path fill="#ffb800" d="M493.2,699l5.3,-2.9-5.3,-1.4-5.3,3z"/><path fill="#ff9300" d="M557.4,697.4l5.3,-1.6-5.3,-2.8-5.4,1.7z"/><path fill="#ff9e00" d="M503.9,697.6l5.3,-2.6-5.3,-1.7-5.4,2.8z"/><path fill="#ff8500" d="M546.7,696.6l5.3,-1.9-5.3,-2.5-5.4,2z"/><path fill="#ff8b00" d="M514.6,696.7l5.3,-2.4-5.3,-1.9-5.4,2.6z"/><path fill="#ff7f00" d="M536,696.2l5.3,-2-5.3,-2.4-5.4,2.2z"/><path fill="#ff8100" d="M525.3,696.3l5.3,-2.3-5.3,-2.1-5.4,2.4z"/><path fill="#baff00" d="M605.1,708.8l5.3,-0.8-5.2,-3.9-5.3,0.9z"/><path fill="#edff00" d="M594.6,706l5.3,-1-5.3,-3.6-5.3,1.1z"/><path fill="#ffe600" d="M584,703.7l5.3,-1.2-5.3,-3.4-5.3,1.3z"/><path fill="#fff900" d="M477.3,704l5.3,-3.2-5.4,-1.1-5.3,3.3z"/><path fill="#ffc400" d="M573.4,701.7l5.3,-1.3-5.3,-3.2-5.3,1.5z"/><path fill="#ffd200" d="M487.9,702l5.3,-3-5.3,-1.3-5.3,3.1z"/><path fill="#ffa900" d="M562.7,700.3l5.4,-1.6-5.4,-2.9-5.3,1.6z"/><path fill="#ffb400" d="M498.6,700.4l5.3,-2.8-5.4,-1.5-5.3,2.9z"/><path fill="#ff9600" d="M552,699.2l5.4,-1.8-5.4,-2.7-5.3,1.9z"/><path fill="#ff9e00" d="M509.2,699.3l5.4,-2.6-5.4,-1.7-5.3,2.6z"/><path fill="#ff8c00" d="M541.3,698.6l5.4,-2-5.4,-2.4-5.3,2z"/><path fill="#ff9000" d="M519.9,698.6l5.4,-2.3-5.4,-2-5.3,2.4z"/><path fill="#ff8a00" d="M530.6,698.4l5.4,-2.2-5.4,-2.2-5.3,2.3z"/><path fill="#92ff00" d="M610.4,712.7l5.2,-0.7-5.2,-4-5.3,0.8z"/><path fill="#c9ff00" d="M599.9,709.7l5.2,-0.9-5.2,-3.8-5.3,1z"/><path fill="#f8ff00" d="M589.3,707.1l5.3,-1.1-5.3,-3.5-5.3,1.2z"/><path fill="#e6ff00" d="M472,707.3l5.3,-3.3-5.4,-1-5.2,3.4z"/><path fill="#ffdf00" d="M578.7,704.9l5.3,-1.2-5.3,-3.3-5.3,1.3z"/><path fill="#ffee00" d="M482.6,705.1l5.3,-3.1-5.3,-1.2-5.3,3.2z"/><path fill="#ffc000" d="M568,703.2l5.4,-1.5-5.3,-3-5.4,1.6z"/><path fill="#ffcb00" d="M493.2,703.3l5.4,-2.9-5.4,-1.4-5.3,3z"/><path fill="#ffa900" d="M557.4,701.9l5.3,-1.6-5.3,-2.9-5.4,1.8z"/><path fill="#ffb100" d="M503.9,702l5.3,-2.7-5.3,-1.7-5.3,2.8z"/><path fill="#68ff00" d="M615.6,716.7l5.2,-0.6-5.2,-4.1-5.2,0.7z"/><path fill="#ff9b00" d="M546.7,701l5.3,-1.8-5.3,-2.6-5.4,2z"/><path fill="#ff9f00" d="M514.6,701.1l5.3,-2.5-5.3,-1.9-5.4,2.6z"/><path fill="#ff9400" d="M536,700.6l5.3,-2-5.3,-2.4-5.4,2.2z"/><path fill="#ff9600" d="M525.3,700.6l5.3,-2.2-5.3,-2.1-5.4,2.3z"/><path fill="#a3ff00" d="M605.1,713.5l5.3,-0.8-5.3,-3.9-5.2,0.9z"/><path fill="#d6ff00" d="M594.6,710.6l5.3,-0.9-5.3,-3.7-5.3,1.1z"/><path fill="#c5ff00" d="M466.7,710.7l5.3,-3.4-5.3,-0.9-5.3,3.6z"/><path fill="#fffd00" d="M584,708.2l5.3,-1.1-5.3,-3.4-5.3,1.2z"/><path fill="#f3ff00" d="M477.3,708.3l5.3,-3.2-5.3,-1.1-5.3,3.3z"/><path fill="#ffd900" d="M573.4,706.3l5.3,-1.4-5.3,-3.2-5.4,1.5z"/><path fill="#ffe500" d="M487.9,706.3l5.3,-3-5.3,-1.3-5.3,3.1z"/><path fill="#3cff00" d="M620.8,720.9l5.2,-0.5-5.2,-4.3-5.2,0.6z"/><path fill="#ffbe00" d="M562.7,704.7l5.3,-1.5-5.3,-2.9-5.3,1.6z"/><path fill="#ffc700" d="M498.6,704.8l5.3,-2.8-5.3,-1.6-5.4,2.9z"/><path fill="#ffab00" d="M552,703.6l5.4,-1.7-5.4,-2.7-5.3,1.8z"/><path fill="#ffb100" d="M509.3,703.7l5.3,-2.6-5.4,-1.8-5.3,2.7z"/><path fill="#ffa100" d="M541.3,703l5.4,-2-5.4,-2.4-5.3,2z"/><path fill="#ffa300" d="M519.9,703l5.4,-2.4-5.4,-2-5.3,2.5z"/><path fill="#ff9e00" d="M530.6,702.8l5.4,-2.2-5.4,-2.2-5.3,2.2z"/><path fill="#7bff00" d="M610.3,717.4l5.3,-0.7-5.2,-4-5.3,0.8z"/><path fill="#b3ff00" d="M599.8,714.3l5.3,-0.8-5.2,-3.8-5.3,0.9z"/><path fill="#a3ff00" d="M461.4,714.3l5.3,-3.6-5.3,-0.7-5.2,3.6z"/><path fill="#e2ff00" d="M589.3,711.7l5.3,-1.1-5.3,-3.5-5.3,1.1z"/><path fill="#d5ff00" d="M472,711.6l5.3,-3.3-5.3,-1-5.3,3.4z"/><path fill="#fff400" d="M578.7,709.4l5.3,-1.2-5.3,-3.3-5.3,1.4z"/><path fill="#0eff00" d="M626,725.2l5.2,-0.4-5.2,-4.4-5.2,0.5z"/><path fill="#ffff00" d="M482.6,709.4l5.3,-3.1-5.3,-1.2-5.3,3.2z"/><path fill="#ffd500" d="M568,707.7l5.4,-1.4-5.4,-3.1-5.3,1.5z"/><path fill="#ffdd00" d="M493.3,707.6l5.3,-2.8-5.4,-1.5-5.3,3z"/><path fill="#ffbe00" d="M557.4,706.4l5.3,-1.7-5.3,-2.8-5.4,1.7z"/><path fill="#52ff00" d="M615.6,721.4l5.2,-0.5-5.2,-4.2-5.3,0.7z"/><path fill="#ffc400" d="M503.9,706.3l5.4,-2.6-5.4,-1.7-5.3,2.8z"/><path fill="#ffaf00" d="M546.7,705.5l5.3,-1.9-5.3,-2.6-5.4,2z"/><path fill="#ffb200" d="M514.6,705.4l5.3,-2.4-5.3,-1.9-5.3,2.6z"/><path fill="#ffa800" d="M536,705l5.3,-2-5.3,-2.4-5.4,2.2z"/><path fill="#ffa900" d="M525.3,705l5.3,-2.2-5.3,-2.2-5.4,2.4z"/><path fill="#8eff00" d="M605.1,718.1l5.2,-0.7-5.2,-3.9-5.3,0.8z"/><path fill="#7fff00" d="M456.2,718l5.2,-3.7-5.2,-0.7-5.3,3.8z"/><path fill="#c1ff00" d="M594.5,715.2l5.3,-0.9-5.2,-3.7-5.3,1.1z"/><path fill="#00ff21" d="M631.2,729.6l5.1,-0.3-5.1,-4.5-5.2,0.4z"/><path fill="#b5ff00" d="M466.7,715.1l5.3,-3.5-5.3,-0.9-5.3,3.6z"/><path fill="#edff00" d="M584,712.8l5.3,-1.1-5.3,-3.5-5.3,1.2z"/><path fill="#e3ff00" d="M477.3,712.6l5.3,-3.2-5.3,-1.1-5.3,3.3z"/><path fill="#ffee00" d="M573.3,710.8l5.4,-1.4-5.3,-3.1-5.4,1.4z"/><path fill="#27ff00" d="M620.8,725.6l5.2,-0.4-5.2,-4.3-5.2,0.5z"/><path fill="#fff600" d="M487.9,710.6l5.4,-3-5.4,-1.3-5.3,3.1z"/><path fill="#ffd200" d="M562.7,709.2l5.3,-1.5-5.3,-3-5.3,1.7z"/><path fill="#ffd800" d="M498.6,709.1l5.3,-2.8-5.3,-1.5-5.3,2.8z"/><path fill="#ffbf00" d="M552,708.1l5.4,-1.7-5.4,-2.8-5.3,1.9z"/><path fill="#ffc300" d="M509.3,708l5.3,-2.6-5.3,-1.7-5.4,2.6z"/><path fill="#ffb400" d="M541.3,707.4l5.4,-1.9-5.4,-2.5-5.3,2z"/><path fill="#ffb600" d="M520,707.3l5.3,-2.3-5.4,-2-5.3,2.4z"/><path fill="#ffb100" d="M530.6,707.1l5.4,-2.1-5.4,-2.2-5.3,2.2z"/><path fill="#67ff00" d="M610.3,722l5.3,-0.6-5.3,-4-5.2,0.7z"/><path fill="#59ff00" d="M451,721.7l5.2,-3.7-5.3,-0.6-5.2,3.9z"/><path fill="#9fff00" d="M599.8,718.9l5.3,-0.8-5.3,-3.8-5.3,0.9z"/><path fill="#00ff52" d="M636.3,734.1l5.2,-0.1-5.2,-4.7-5.1,0.3z"/><path fill="#93ff00" d="M461.5,718.6l5.2,-3.5-5.3,-0.8-5.2,3.7z"/><path fill="#ceff00" d="M589.2,716.2l5.3,-1-5.2,-3.5-5.3,1.1z"/><path fill="#c5ff00" d="M472,715.9l5.3,-3.3-5.3,-1-5.3,3.5z"/><path fill="#f6ff00" d="M578.6,714l5.4,-1.2-5.3,-3.4-5.4,1.4z"/><path fill="#00ff06" d="M625.9,729.9l5.3,-0.3-5.2,-4.4-5.2,0.4z"/><path fill="#eeff00" d="M482.6,713.7l5.3,-3.1-5.3,-1.2-5.3,3.2z"/><path fill="#ffe800" d="M568,712.2l5.3,-1.4-5.3,-3.1-5.3,1.5z"/><path fill="#ffee00" d="M493.3,712l5.3,-2.9-5.3,-1.5-5.4,3z"/><path fill="#ffd100" d="M557.4,710.8l5.3,-1.6-5.3,-2.8-5.4,1.7z"/><path fill="#3eff00" d="M615.5,726.1l5.3,-0.5-5.2,-4.2-5.3,0.6z"/><path fill="#ffd500" d="M503.9,710.7l5.4,-2.7-5.4,-1.7-5.3,2.8z"/><path fill="#ffc200" d="M546.7,709.9l5.3,-1.8-5.3,-2.6-5.4,1.9z"/><path fill="#ffc400" d="M514.6,709.8l5.4,-2.5-5.4,-1.9-5.3,2.6z"/><path fill="#ffba00" d="M536,709.4l5.3,-2-5.3,-2.4-5.4,2.1z"/><path fill="#ffbb00" d="M525.3,709.4l5.3,-2.3-5.3,-2.1-5.3,2.3z"/><path fill="#32ff00" d="M445.7,725.6l5.3,-3.9-5.3,-0.4-5.2,4z"/><path fill="#7aff00" d="M605,722.7l5.3,-0.7-5.2,-3.9-5.3,0.8z"/><path fill="#00ff84" d="M641.4,738.8l5.2,0-5.1,-4.8-5.2,0.1z"/><path fill="#70ff00" d="M456.2,722.3l5.3,-3.7-5.3,-0.6-5.2,3.7z"/><path fill="#aeff00" d="M594.5,719.8l5.3,-0.9-5.3,-3.7-5.3,1z"/><path fill="#00ff34" d="M631.1,734.3l5.2,-0.2-5.1,-4.5-5.3,0.3z"/><path fill="#a6ff00" d="M466.8,719.4l5.2,-3.5-5.3,-0.8-5.2,3.5z"/><path fill="#daff00" d="M583.9,717.3l5.3,-1.1-5.2,-3.4-5.4,1.2z"/><path fill="#d3ff00" d="M477.4,716.9l5.2,-3.2-5.3,-1.1-5.3,3.3z"/><path fill="#feff00" d="M573.3,715.2l5.3,-1.2-5.3,-3.2-5.3,1.4z"/><path fill="#14ff00" d="M620.7,730.3l5.2,-0.4-5.1,-4.3-5.3,0.5z"/><path fill="#f8ff00" d="M488,715l5.3,-3-5.4,-1.4-5.3,3.1z"/><path fill="#ffe500" d="M562.7,713.6l5.3,-1.4-5.3,-3-5.3,1.6z"/><path fill="#ffe900" d="M498.6,713.4l5.3,-2.7-5.3,-1.6-5.3,2.9z"/><path fill="#ffd100" d="M552,712.5l5.4,-1.7-5.4,-2.7-5.3,1.8z"/><path fill="#ffd400" d="M509.3,712.3l5.3,-2.5-5.3,-1.8-5.4,2.7z"/><path fill="#ffc600" d="M541.3,711.8l5.4,-1.9-5.4,-2.5-5.3,2z"/><path fill="#0aff00" d="M440.5,729.7l5.2,-4.1-5.2,-0.3-5.2,4.2z"/><path fill="#ffc700" d="M520,711.7l5.3,-2.3-5.3,-2.1-5.4,2.5z"/><path fill="#ffc200" d="M530.7,711.5l5.3,-2.1-5.4,-2.3-5.3,2.3z"/><path fill="#54ff00" d="M610.3,726.6l5.2,-0.5-5.2,-4.1-5.3,0.7z"/><path fill="#4bff00" d="M451,726.1l5.2,-3.8-5.2,-0.6-5.3,3.9z"/><path fill="#8cff00" d="M599.8,723.5l5.2,-0.8-5.2,-3.8-5.3,0.9z"/><path fill="#00ff64" d="M636.3,738.9l5.1,-0.1-5.1,-4.7-5.2,0.2z"/><path fill="#85ff00" d="M461.5,723l5.3,-3.6-5.3,-0.8-5.3,3.7z"/><path fill="#bcff00" d="M589.2,720.7l5.3,-0.9-5.3,-3.6-5.3,1.1z"/><path fill="#b6ff00" d="M472.1,720.3l5.3,-3.4-5.4,-1-5.2,3.5z"/><path fill="#e4ff00" d="M578.6,718.5l5.3,-1.2-5.3,-3.3-5.3,1.2z"/><path fill="#00ff18" d="M625.9,734.6l5.2,-0.3-5.2,-4.4-5.2,0.4z"/><path fill="#dfff00" d="M482.7,718.1l5.3,-3.1-5.4,-1.3-5.2,3.2z"/><path fill="#fffa00" d="M568,716.6l5.3,-1.4-5.3,-3-5.3,1.4z"/><path fill="#fffe00" d="M493.3,716.3l5.3,-2.9-5.3,-1.4-5.3,3z"/><path fill="#ffe300" d="M557.4,715.2l5.3,-1.6-5.3,-2.8-5.4,1.7z"/><path fill="#2cff00" d="M615.5,730.7l5.2,-0.4-5.2,-4.2-5.2,0.5z"/><path fill="#ffe500" d="M504,715l5.3,-2.7-5.4,-1.6-5.3,2.7z"/><path fill="#ffd300" d="M546.7,714.3l5.3,-1.8-5.3,-2.6-5.4,1.9z"/><path fill="#ffd400" d="M514.6,714.1l5.4,-2.4-5.4,-1.9-5.3,2.5z"/><path fill="#ffcb00" d="M536,713.8l5.3,-2-5.3,-2.4-5.3,2.1z"/><path fill="#ffcc00" d="M525.3,713.7l5.4,-2.2-5.4,-2.1-5.3,2.3z"/><path fill="#25ff00" d="M445.8,730l5.2,-3.9-5.3,-0.5-5.2,4.1z"/><path fill="#68ff00" d="M605,727.3l5.3,-0.7-5.3,-3.9-5.2,0.8z"/><path fill="#62ff00" d="M456.3,726.6l5.2,-3.6-5.3,-0.7-5.2,3.8z"/><path fill="#9cff00" d="M594.5,724.3l5.3,-0.8-5.3,-3.7-5.3,0.9z"/><path fill="#00ff46" d="M631.1,739l5.2,-0.1-5.2,-4.6-5.2,0.3z"/><path fill="#98ff00" d="M466.8,723.7l5.3,-3.4-5.3,-0.9-5.3,3.6z"/><path fill="#c8ff00" d="M583.9,721.8l5.3,-1.1-5.3,-3.4-5.3,1.2z"/><path fill="#c5ff00" d="M477.4,721.3l5.3,-3.2-5.3,-1.2-5.3,3.4z"/><path fill="#ecff00" d="M573.3,719.7l5.3,-1.2-5.3,-3.3-5.3,1.4z"/><path fill="#02ff00" d="M620.7,734.9l5.2,-0.3-5.2,-4.3-5.2,0.4z"/><path fill="#e9ff00" d="M488,719.3l5.3,-3-5.3,-1.3-5.3,3.1z"/><path fill="#fff600" d="M562.7,718.1l5.3,-1.5-5.3,-3-5.3,1.6z"/><path fill="#fff800" d="M498.6,717.8l5.4,-2.8-5.4,-1.6-5.3,2.9z"/><path fill="#ffe200" d="M552,716.9l5.4,-1.7-5.4,-2.7-5.3,1.8z"/><path fill="#ffe300" d="M509.3,716.7l5.3,-2.6-5.3,-1.8-5.3,2.7z"/><path fill="#ffd600" d="M541.3,716.2l5.4,-1.9-5.4,-2.5-5.3,2z"/><path fill="#ffd700" d="M520,716l5.3,-2.3-5.3,-2-5.4,2.4z"/><path fill="#ffd200" d="M530.7,715.9l5.3,-2.1-5.3,-2.3-5.4,2.2z"/><path fill="#43ff00" d="M610.3,731.2l5.2,-0.5-5.2,-4.1-5.3,0.7z"/><path fill="#3fff00" d="M451,730.4l5.3,-3.8-5.3,-0.5-5.2,3.9z"/><path fill="#7bff00" d="M599.8,728l5.2,-0.7-5.2,-3.8-5.3,0.8z"/><path fill="#78ff00" d="M461.6,727.3l5.2,-3.6-5.3,-0.7-5.2,3.6z"/><path fill="#abff00" d="M589.2,725.2l5.3,-0.9-5.3,-3.6-5.3,1.1z"/><path fill="#a8ff00" d="M472.1,724.6l5.3,-3.3-5.3,-1-5.3,3.4z"/><path fill="#d3ff00" d="M578.6,722.9l5.3,-1.1-5.3,-3.3-5.3,1.2z"/><path fill="#00ff29" d="M625.9,739.2l5.2,-0.2-5.2,-4.4-5.2,0.3z"/><path fill="#d1ff00" d="M482.7,722.4l5.3,-3.1-5.3,-1.2-5.3,3.2z"/><path fill="#f3ff00" d="M568,721l5.3,-1.3-5.3,-3.1-5.3,1.5z"/><path fill="#f2ff00" d="M493.3,720.6l5.3,-2.8-5.3,-1.5-5.3,3z"/><path fill="#fff300" d="M557.4,719.6l5.3,-1.5-5.3,-2.9-5.4,1.7z"/><path fill="#1cff00" d="M615.5,735.3l5.2,-0.4-5.2,-4.2-5.2,0.5z"/><path fill="#fff400" d="M504,719.3l5.3,-2.6-5.3,-1.7-5.4,2.8z"/><path fill="#ffe300" d="M546.7,718.7l5.3,-1.8-5.3,-2.6-5.4,1.9z"/><path fill="#ffe300" d="M514.7,718.5l5.3,-2.5-5.4,-1.9-5.3,2.6z"/><path fill="#ffdb00" d="M536,718.1l5.3,-1.9-5.3,-2.4-5.3,2.1z"/><path fill="#ffdb00" d="M525.3,718.1l5.4,-2.2-5.4,-2.2-5.3,2.3z"/><path fill="#58ff00" d="M605,731.8l5.3,-0.6-5.3,-3.9-5.2,0.7z"/><path fill="#56ff00" d="M456.3,731l5.3,-3.7-5.3,-0.7-5.3,3.8z"/><path fill="#8cff00" d="M594.5,728.8l5.3,-0.8-5.3,-3.7-5.3,0.9z"/><path fill="#8bff00" d="M466.8,728.1l5.3,-3.5-5.3,-0.9-5.2,3.6z"/><path fill="#b8ff00" d="M583.9,726.3l5.3,-1.1-5.3,-3.4-5.3,1.1z"/><path fill="#b7ff00" d="M477.4,725.6l5.3,-3.2-5.3,-1.1-5.3,3.3z"/><path fill="#ddff00" d="M573.3,724.1l5.3,-1.2-5.3,-3.2-5.3,1.3z"/><path fill="#00ff0d" d="M620.7,739.5l5.2,-0.3-5.2,-4.3-5.2,0.4z"/><path fill="#dcff00" d="M488,723.6l5.3,-3-5.3,-1.3-5.3,3.1z"/><path fill="#f9ff00" d="M562.7,722.5l5.3,-1.5-5.3,-2.9-5.3,1.5z"/><path fill="#f8ff00" d="M498.7,722.1l5.3,-2.8-5.4,-1.5-5.3,2.8z"/><path fill="#fff100" d="M552,721.3l5.4,-1.7-5.4,-2.7-5.3,1.8z"/><path fill="#fff100" d="M509.3,721l5.4,-2.5-5.4,-1.8-5.3,2.6z"/><path fill="#ffe500" d="M541.4,720.5l5.3,-1.8-5.4,-2.5-5.3,1.9z"/><path fill="#ffe500" d="M520,720.4l5.3,-2.3-5.3,-2.1-5.3,2.5z"/><path fill="#ffe100" d="M530.7,720.2l5.3,-2.1-5.3,-2.2-5.4,2.2z"/><path fill="#33ff00" d="M610.2,735.8l5.3,-0.5-5.2,-4.1-5.3,0.6z"/><path fill="#6bff00" d="M599.7,732.5l5.3,-0.7-5.2,-3.8-5.3,0.8z"/><path fill="#6bff00" d="M461.6,731.6l5.2,-3.5-5.2,-0.8-5.3,3.7z"/><path fill="#9cff00" d="M589.2,729.7l5.3,-0.9-5.3,-3.6-5.3,1.1z"/><path fill="#9cff00" d="M472.1,728.9l5.3,-3.3-5.3,-1-5.3,3.5z"/><path fill="#c4ff00" d="M578.6,727.4l5.3,-1.1-5.3,-3.4-5.3,1.2z"/><path fill="#c4ff00" d="M482.7,726.7l5.3,-3.1-5.3,-1.2-5.3,3.2z"/><path fill="#e4ff00" d="M568,725.5l5.3,-1.4-5.3,-3.1-5.3,1.5z"/><path fill="#e5ff00" d="M493.4,724.9l5.3,-2.8-5.4,-1.5-5.3,3z"/><path fill="#fdff00" d="M557.4,724l5.3,-1.5-5.3,-2.9-5.4,1.7z"/><path fill="#0dff00" d="M615.5,739.9l5.2,-0.4-5.2,-4.2-5.3,0.5z"/><path fill="#fdff00" d="M504,723.6l5.3,-2.6-5.3,-1.7-5.3,2.8z"/><path fill="#fff100" d="M546.7,723l5.3,-1.7-5.3,-2.6-5.3,1.8z"/><path fill="#fff100" d="M514.7,722.8l5.3,-2.4-5.3,-1.9-5.4,2.5z"/><path fill="#ffe900" d="M536,722.5l5.4,-2-5.4,-2.4-5.3,2.1z"/><path fill="#ffe900" d="M525.3,722.4l5.4,-2.2-5.4,-2.1-5.3,2.3z"/><path fill="#49ff00" d="M605,736.4l5.2,-0.6-5.2,-4-5.3,0.7z"/><path fill="#7eff00" d="M594.5,733.3l5.2,-0.8-5.2,-3.7-5.3,0.9z"/><path fill="#7fff00" d="M466.9,732.4l5.2,-3.5-5.3,-0.8-5.2,3.5z"/><path fill="#aaff00" d="M583.9,730.7l5.3,-1-5.3,-3.4-5.3,1.1z"/><path fill="#abff00" d="M477.5,729.9l5.2,-3.2-5.3,-1.1-5.3,3.3z"/><path fill="#ceff00" d="M573.3,728.6l5.3,-1.2-5.3,-3.3-5.3,1.4z"/><path fill="#cfff00" d="M488.1,727.9l5.3,-3-5.4,-1.3-5.3,3.1z"/><path fill="#ebff00" d="M562.7,726.9l5.3,-1.4-5.3,-3-5.3,1.5z"/><path fill="#ecff00" d="M498.7,726.4l5.3,-2.8-5.3,-1.5-5.3,2.8z"/><path fill="#ffff00" d="M552,725.6l5.4,-1.6-5.4,-2.7-5.3,1.7z"/><path fill="#fffe00" d="M509.4,725.3l5.3,-2.5-5.4,-1.8-5.3,2.6z"/><path fill="#fff300" d="M541.4,724.9l5.3,-1.9-5.3,-2.5-5.4,2z"/><path fill="#fff200" d="M520,724.7l5.3,-2.3-5.3,-2-5.3,2.4z"/><path fill="#ffee00" d="M530.7,724.6l5.3,-2.1-5.3,-2.3-5.4,2.2z"/><path fill="#25ff00" d="M610.2,740.3l5.3,-0.4-5.3,-4.1-5.2,0.6z"/><path fill="#5eff00" d="M599.7,737l5.3,-0.6-5.3,-3.9-5.2,0.8z"/><path fill="#8eff00" d="M589.2,734.2l5.3,-0.9-5.3,-3.6-5.3,1z"/><path fill="#90ff00" d="M472.2,733.3l5.3,-3.4-5.4,-1-5.2,3.5z"/><path fill="#b7ff00" d="M578.6,731.8l5.3,-1.1-5.3,-3.3-5.3,1.2z"/><path fill="#b9ff00" d="M482.8,731l5.3,-3.1-5.4,-1.2-5.2,3.2z"/><path fill="#d7ff00" d="M568,729.8l5.3,-1.2-5.3,-3.1-5.3,1.4z"/><path fill="#d9ff00" d="M493.4,729.2l5.3,-2.8-5.3,-1.5-5.3,3z"/><path fill="#f0ff00" d="M557.4,728.4l5.3,-1.5-5.3,-2.9-5.4,1.6z"/><path fill="#f1ff00" d="M504,727.9l5.4,-2.6-5.4,-1.7-5.3,2.8z"/><path fill="#fffe00" d="M546.7,727.4l5.3,-1.8-5.3,-2.6-5.3,1.9z"/><path fill="#fffd00" d="M514.7,727.1l5.3,-2.4-5.3,-1.9-5.3,2.5z"/><path fill="#fff600" d="M536,726.8l5.4,-1.9-5.4,-2.4-5.3,2.1z"/><path fill="#fff600" d="M525.4,726.7l5.3,-2.1-5.4,-2.2-5.3,2.3z"/><path fill="#3cff00" d="M605,740.8l5.2,-0.5-5.2,-3.9-5.3,0.6z"/><path fill="#71ff00" d="M594.5,737.8l5.2,-0.8-5.2,-3.7-5.3,0.9z"/><path fill="#9dff00" d="M583.9,735.1l5.3,-0.9-5.3,-3.5-5.3,1.1z"/><path fill="#a0ff00" d="M477.5,734.2l5.3,-3.2-5.3,-1.1-5.3,3.4z"/><path fill="#c2ff00" d="M573.3,732.9l5.3,-1.1-5.3,-3.2-5.3,1.2z"/><path fill="#c4ff00" d="M488.1,732.2l5.3,-3-5.3,-1.3-5.3,3.1z"/><path fill="#deff00" d="M562.7,731.2l5.3,-1.4-5.3,-2.9-5.3,1.5z"/><path fill="#e0ff00" d="M498.7,730.7l5.3,-2.8-5.3,-1.5-5.3,2.8z"/><path fill="#f3ff00" d="M552,730l5.4,-1.6-5.4,-2.8-5.3,1.8z"/><path fill="#f4ff00" d="M509.4,729.6l5.3,-2.5-5.3,-1.8-5.4,2.6z"/><path fill="#ffff00" d="M541.4,729.2l5.3,-1.8-5.3,-2.5-5.4,1.9z"/><path fill="#fffe00" d="M520,729l5.4,-2.3-5.4,-2-5.3,2.4z"/><path fill="#fffb00" d="M530.7,728.9l5.3,-2.1-5.3,-2.2-5.3,2.1z"/><path fill="#52ff00" d="M599.7,741.5l5.3,-0.7-5.3,-3.8-5.2,0.8z"/><path fill="#82ff00" d="M589.2,738.6l5.3,-0.8-5.3,-3.6-5.3,0.9z"/><path fill="#abff00" d="M578.6,736.2l5.3,-1.1-5.3,-3.3-5.3,1.1z"/><path fill="#aeff00" d="M482.8,735.3l5.3,-3.1-5.3,-1.2-5.3,3.2z"/><path fill="#cbff00" d="M568,734.2l5.3,-1.3-5.3,-3.1-5.3,1.4z"/><path fill="#e4ff00" d="M557.4,732.7l5.3,-1.5-5.3,-2.8-5.4,1.6z"/><path fill="#ceff00" d="M493.4,733.5l5.3,-2.8-5.3,-1.5-5.3,3z"/><path fill="#f4ff00" d="M546.7,731.7l5.3,-1.7-5.3,-2.6-5.3,1.8z"/><path fill="#e6ff00" d="M504.1,732.2l5.3,-2.6-5.4,-1.7-5.3,2.8z"/><path fill="#fdff00" d="M536.1,731.1l5.3,-1.9-5.4,-2.4-5.3,2.1z"/><path fill="#f6ff00" d="M514.7,731.4l5.3,-2.4-5.3,-1.9-5.3,2.5z"/><path fill="#fdff00" d="M525.4,731l5.3,-2.1-5.3,-2.2-5.4,2.3z"/><path fill="#66ff00" d="M594.5,742.2l5.2,-0.7-5.2,-3.7-5.3,0.8z"/><path fill="#92ff00" d="M583.9,739.5l5.3,-0.9-5.3,-3.5-5.3,1.1z"/><path fill="#b7ff00" d="M573.3,737.3l5.3,-1.1-5.3,-3.3-5.3,1.3z"/><path fill="#d3ff00" d="M562.7,735.6l5.3,-1.4-5.3,-3-5.3,1.5z"/><path fill="#baff00" d="M488.1,736.5l5.3,-3-5.3,-1.3-5.3,3.1z"/><path fill="#e8ff00" d="M552.1,734.3l5.3,-1.6-5.4,-2.7-5.3,1.7z"/><path fill="#d6ff00" d="M498.7,735l5.4,-2.8-5.4,-1.5-5.3,2.8z"/><path fill="#f4ff00" d="M541.4,733.5l5.3,-1.8-5.3,-2.5-5.3,1.9z"/><path fill="#eaff00" d="M509.4,733.9l5.3,-2.5-5.3,-1.8-5.3,2.6z"/><path fill="#f9ff00" d="M530.7,733.2l5.4,-2.1-5.4,-2.2-5.3,2.1z"/><path fill="#f5ff00" d="M520.1,733.3l5.3,-2.3-5.4,-2-5.3,2.4z"/><path fill="#78ff00" d="M589.2,743l5.3,-0.8-5.3,-3.6-5.3,0.9z"/><path fill="#a0ff00" d="M578.6,740.5l5.3,-1-5.3,-3.3-5.3,1.1z"/><path fill="#c1ff00" d="M568,738.5l5.3,-1.2-5.3,-3.1-5.3,1.4z"/><path fill="#daff00" d="M557.4,737l5.3,-1.4-5.3,-2.9-5.3,1.6z"/><path fill="#c5ff00" d="M493.4,737.8l5.3,-2.8-5.3,-1.5-5.3,3z"/><path fill="#eaff00" d="M546.7,736l5.4,-1.7-5.4,-2.6-5.3,1.8z"/><path fill="#dcff00" d="M504.1,736.5l5.3,-2.6-5.3,-1.7-5.4,2.8z"/><path fill="#f3ff00" d="M536.1,735.4l5.3,-1.9-5.3,-2.4-5.4,2.1z"/><path fill="#ecff00" d="M514.7,735.7l5.4,-2.4-5.4,-1.9-5.3,2.5z"/><path fill="#f3ff00" d="M525.4,735.3l5.3,-2.1-5.3,-2.2-5.3,2.3z"/><path fill="#89ff00" d="M583.9,743.8l5.3,-0.8-5.3,-3.5-5.3,1z"/><path fill="#adff00" d="M573.3,741.6l5.3,-1.1-5.3,-3.2-5.3,1.2z"/><path fill="#caff00" d="M562.7,739.9l5.3,-1.4-5.3,-2.9-5.3,1.4z"/><path fill="#deff00" d="M552.1,738.6l5.3,-1.6-5.3,-2.7-5.4,1.7z"/><path fill="#cdff00" d="M498.8,739.2l5.3,-2.7-5.4,-1.5-5.3,2.8z"/><path fill="#ebff00" d="M541.4,737.8l5.3,-1.8-5.3,-2.5-5.3,1.9z"/><path fill="#e1ff00" d="M509.4,738.2l5.3,-2.5-5.3,-1.8-5.3,2.6z"/><path fill="#f0ff00" d="M530.7,737.4l5.4,-2-5.4,-2.2-5.3,2.1z"/><path fill="#ecff00" d="M520.1,737.6l5.3,-2.3-5.3,-2-5.4,2.4z"/><path fill="#98ff00" d="M578.6,744.8l5.3,-1-5.3,-3.3-5.3,1.1z"/><path fill="#b8ff00" d="M568,742.8l5.3,-1.2-5.3,-3.1-5.3,1.4z"/><path fill="#d1ff00" d="M557.4,741.3l5.3,-1.4-5.3,-2.9-5.3,1.6z"/><path fill="#e2ff00" d="M546.8,740.2l5.3,-1.6-5.4,-2.6-5.3,1.8z"/><path fill="#d4ff00" d="M504.1,740.8l5.3,-2.6-5.3,-1.7-5.3,2.7z"/><path fill="#eaff00" d="M536.1,739.7l5.3,-1.9-5.3,-2.4-5.4,2z"/><path fill="#e3ff00" d="M514.8,739.9l5.3,-2.3-5.4,-1.9-5.3,2.5z"/><path fill="#ebff00" d="M525.4,739.6l5.3,-2.2-5.3,-2.1-5.3,2.3z"/><path fill="#a5ff00" d="M573.3,745.9l5.3,-1.1-5.3,-3.2-5.3,1.2z"/><path fill="#c2ff00" d="M562.7,744.1l5.3,-1.3-5.3,-2.9-5.3,1.4z"/><path fill="#d6ff00" d="M552.1,742.8l5.3,-1.5-5.3,-2.7-5.3,1.6z"/><path fill="#e3ff00" d="M541.4,742l5.4,-1.8-5.4,-2.4-5.3,1.9z"/><path fill="#d9ff00" d="M509.4,742.4l5.4,-2.5-5.4,-1.7-5.3,2.6z"/><path fill="#e8ff00" d="M530.8,741.7l5.3,-2-5.4,-2.3-5.3,2.2z"/><path fill="#e4ff00" d="M520.1,741.8l5.3,-2.2-5.3,-2-5.3,2.3z"/><path fill="#b1ff00" d="M568,747.1l5.3,-1.2-5.3,-3.1-5.3,1.3z"/><path fill="#caff00" d="M557.4,745.5l5.3,-1.4-5.3,-2.8-5.3,1.5z"/><path fill="#daff00" d="M546.8,744.5l5.3,-1.7-5.3,-2.6-5.4,1.8z"/><path fill="#e3ff00" d="M536.1,743.9l5.3,-1.9-5.3,-2.3-5.3,2z"/><path fill="#dcff00" d="M514.8,744.2l5.3,-2.4-5.3,-1.9-5.4,2.5z"/><path fill="#e4ff00" d="M525.5,743.8l5.3,-2.1-5.4,-2.1-5.3,2.2z"/><path fill="#bbff00" d="M562.7,748.4l5.3,-1.3-5.3,-3-5.3,1.4z"/><path fill="#d0ff00" d="M552.1,747.1l5.3,-1.6-5.3,-2.7-5.3,1.7z"/><path fill="#dcff00" d="M541.5,746.2l5.3,-1.7-5.4,-2.5-5.3,1.9z"/><path fill="#e1ff00" d="M530.8,745.9l5.3,-2-5.3,-2.2-5.3,2.1z"/><path fill="#deff00" d="M520.1,746l5.4,-2.2-5.4,-2-5.3,2.4z"/><path fill="#c4ff00" d="M557.4,749.7l5.3,-1.3-5.3,-2.9-5.3,1.6z"/><path fill="#d4ff00" d="M546.8,748.7l5.3,-1.6-5.3,-2.6-5.3,1.7z"/><path fill="#ddff00" d="M536.1,748.1l5.4,-1.9-5.4,-2.3-5.3,2z"/><path fill="#deff00" d="M525.5,748l5.3,-2.1-5.3,-2.1-5.4,2.2z"/><path fill="#cbff00" d="M552.1,751.2l5.3,-1.5-5.3,-2.6-5.3,1.6z"/><path fill="#d7ff00" d="M541.5,750.4l5.3,-1.7-5.3,-2.5-5.4,1.9z"/><path fill="#dcff00" d="M530.8,750.1l5.3,-2-5.3,-2.2-5.3,2.1z"/><path fill="#d0ff00" d="M546.8,752.8l5.3,-1.6-5.3,-2.5-5.3,1.7z"/><path fill="#d9ff00" d="M536.2,752.3l5.3,-1.9-5.4,-2.3-5.3,2z"/><path fill="#d4ff00" d="M541.5,754.6l5.3,-1.8-5.3,-2.4-5.3,1.9z"/></g>
<circle cx="541.3" cy="707.6" r="2.6" fill="#b00010" stroke="#600" stroke-width="0.4"/></svg>
</body></html>
